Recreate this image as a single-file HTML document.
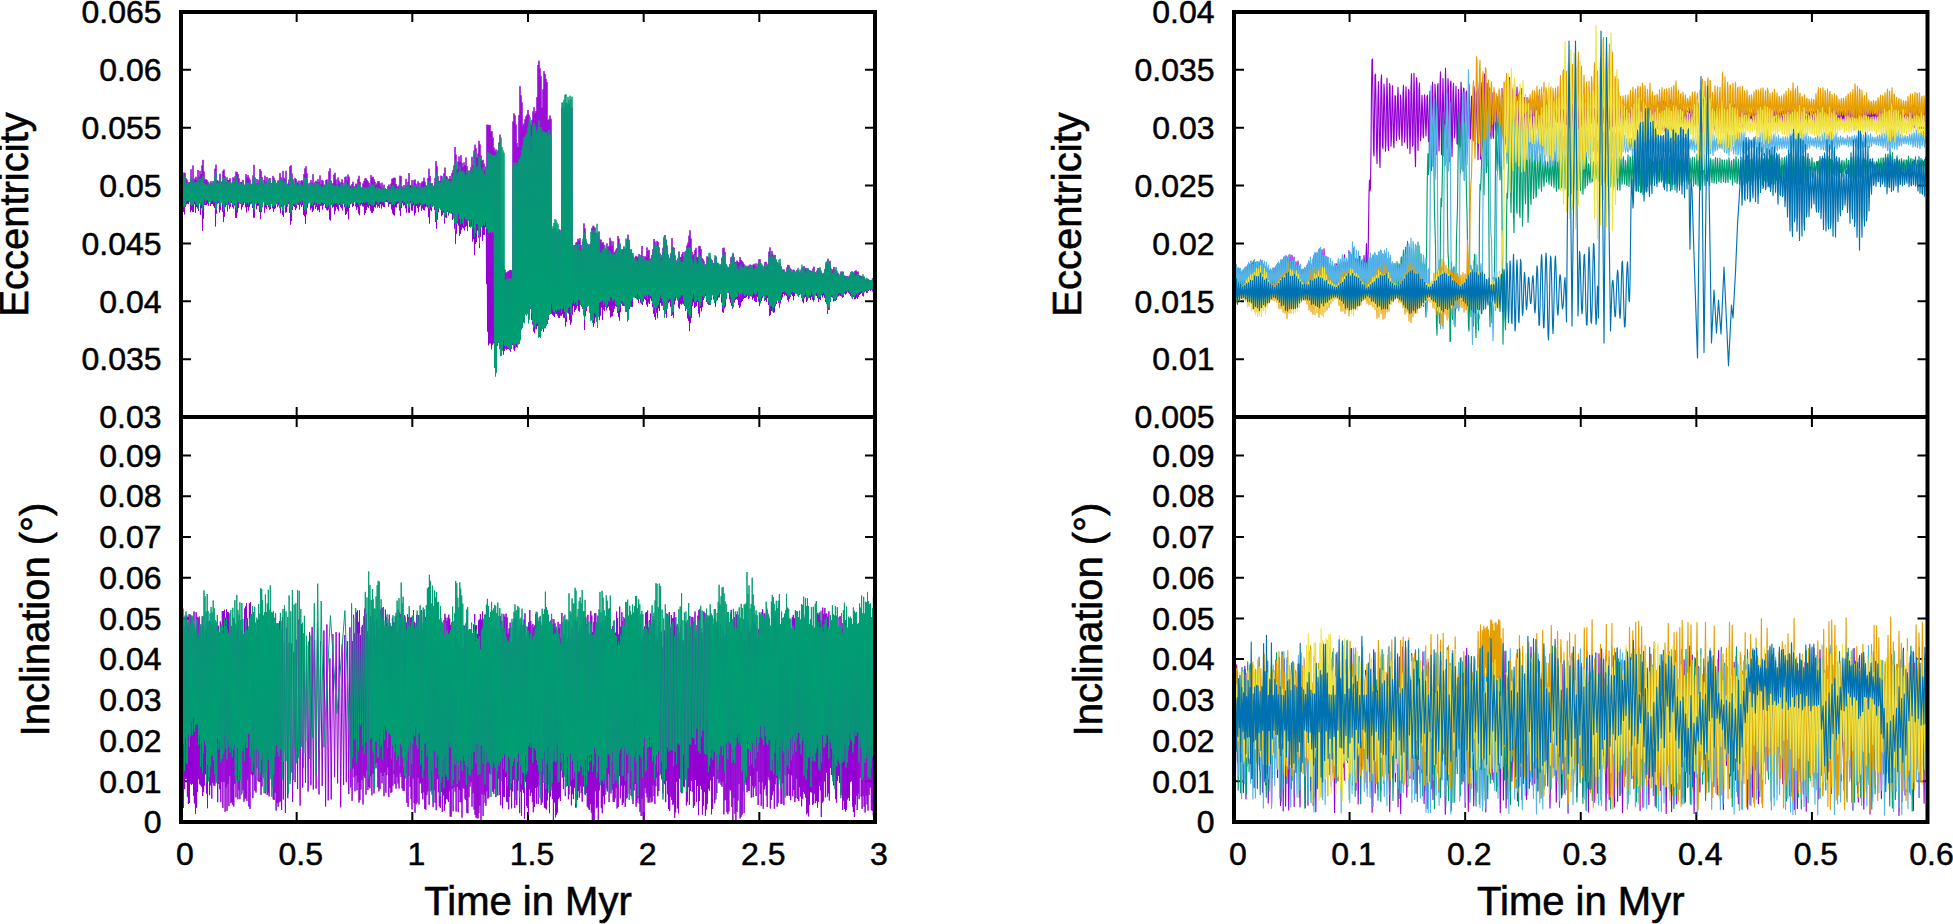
<!DOCTYPE html>
<html><head><meta charset="utf-8"><title>Eccentricity and inclination</title>
<style>html,body{margin:0;padding:0;background:#fff}svg{display:block}text{font-family:"Liberation Sans", sans-serif}</style>
</head><body>
<svg width="1953" height="924" viewBox="0 0 1953 924">
<rect width="1953" height="924" fill="#fff"/>
<path d="M296.67 12.0v10.0M296.67 407.0v20.0M296.67 822.0v-10.0M412.33 12.0v10.0M412.33 407.0v20.0M412.33 822.0v-10.0M528.00 12.0v10.0M528.00 407.0v20.0M528.00 822.0v-10.0M643.67 12.0v10.0M643.67 407.0v20.0M643.67 822.0v-10.0M759.33 12.0v10.0M759.33 407.0v20.0M759.33 822.0v-10.0M181.0 69.86h10.0M875.0 69.86h-10.0M181.0 127.71h10.0M875.0 127.71h-10.0M181.0 185.57h10.0M875.0 185.57h-10.0M181.0 243.43h10.0M875.0 243.43h-10.0M181.0 301.29h10.0M875.0 301.29h-10.0M181.0 359.14h10.0M875.0 359.14h-10.0M181.0 781.28h10.0M875.0 781.28h-10.0M181.0 740.56h10.0M875.0 740.56h-10.0M181.0 699.84h10.0M875.0 699.84h-10.0M181.0 659.12h10.0M875.0 659.12h-10.0M181.0 618.40h10.0M875.0 618.40h-10.0M181.0 577.68h10.0M875.0 577.68h-10.0M181.0 536.96h10.0M875.0 536.96h-10.0M181.0 496.24h10.0M875.0 496.24h-10.0M181.0 455.52h10.0M875.0 455.52h-10.0" stroke="#000" stroke-width="2" fill="none"/>
<path d="M1349.58 12.0v10.0M1349.58 407.0v20.0M1349.58 822.0v-10.0M1465.17 12.0v10.0M1465.17 407.0v20.0M1465.17 822.0v-10.0M1580.75 12.0v10.0M1580.75 407.0v20.0M1580.75 822.0v-10.0M1696.33 12.0v10.0M1696.33 407.0v20.0M1696.33 822.0v-10.0M1811.92 12.0v10.0M1811.92 407.0v20.0M1811.92 822.0v-10.0M1234.0 69.86h10.0M1927.5 69.86h-10.0M1234.0 127.71h10.0M1927.5 127.71h-10.0M1234.0 185.57h10.0M1927.5 185.57h-10.0M1234.0 243.43h10.0M1927.5 243.43h-10.0M1234.0 301.29h10.0M1927.5 301.29h-10.0M1234.0 359.14h10.0M1927.5 359.14h-10.0M1234.0 781.28h10.0M1927.5 781.28h-10.0M1234.0 740.56h10.0M1927.5 740.56h-10.0M1234.0 699.84h10.0M1927.5 699.84h-10.0M1234.0 659.12h10.0M1927.5 659.12h-10.0M1234.0 618.40h10.0M1927.5 618.40h-10.0M1234.0 577.68h10.0M1927.5 577.68h-10.0M1234.0 536.96h10.0M1927.5 536.96h-10.0M1234.0 496.24h10.0M1927.5 496.24h-10.0M1234.0 455.52h10.0M1927.5 455.52h-10.0" stroke="#000" stroke-width="2" fill="none"/>
<defs><clipPath id="cTL"><rect x="181" y="12" width="694" height="405"/></clipPath><clipPath id="cBL"><rect x="181" y="417" width="694" height="405"/></clipPath><clipPath id="cTR"><rect x="1234" y="12" width="693.5" height="405"/></clipPath><clipPath id="cBR"><rect x="1234" y="417" width="693.5" height="405"/></clipPath></defs><path d="M181 166.2l.5 55.9.5-49.2.5 32.8.5-25.8.5 32.1.5-39.5.5 41.8.5-41.2.5 33.8.5-28.6.5 26 .5-24.7.5 23.9.5-20.2.5 20.8.5-22.1.5 19.6.5-18.7.5 29.2.5-42.8.5 40.9.5-31 .5 32.5.5-46.3.5 46.6.5-32.1.5 24.2.5-25.7.5 34.3.5-35.9.5 30.2.5-27.5.5 28.8.5-38.3.5 40.9.5-33.8.5 26.2.5-32.4.5 43.7.5-40.6.5 33.9.5-42.5.5 65.2.5-70.7.5 58.7.5-47 .5 33.3.5-25 .5 25.2.5-26 .5 25.8.5-24.8.5 23.4.5-21.9.5 24 .5-21.8.5 17.6.5-16.8.5 21.3.5-24.7.5 22.8.5-20.2.5 20.1.5-22.9.5 25.1.5-20.1.5 22 .5-39.3.5 57.7.5-61.7.5 48.8.5-33.5.5 23.8.5-23.1.5 22.1.5-20.3.5 29.9.5-38.6.5 36.3.5-28.6.5 20.2.5-19.6.5 29.5.5-40.8.5 51.3.5-52.6.5 47.1.5-40.4.5 30.4.5-24.1.5 22.1.5-27.2.5 34 .5-31.3.5 24.4.5-24.5.5 28.6.5-30.4.5 28.3.5-21.5.5 18 .5-20.5.5 24.5.5-29.8.5 31.2.5-29.2.5 26 .5-29.1.5 41.7.5-46.2.5 46 .5-45.6.5 40.3.5-38.2.5 33.8.5-29.5.5 24.9.5-19.6.5 20 .5-21.7.5 27.6.5-27.9.5 24.9.5-26.7.5 24.8.5-19.9.5 18.1.5-18.2.5 22.5.5-33.1.5 38.2.5-34.8.5 29.5.5-31.9.5 35.4.5-32.8.5 29.4.5-27.5.5 24.6.5-19.5.5 18.7.5-18.5.5 23 .5-32.5.5 42.1.5-52.6.5 52.6.5-40.1.5 24.3.5-18.4.5 25.9.5-30.1.5 26.5.5-22.2.5 22.3.5-26 .5 32.2.5-42.9.5 50.1.5-48.2.5 41.2.5-35.1.5 30.2.5-23.2.5 17.7.5-21.9.5 32.9.5-37 .5 31.7.5-25.5.5 26.7.5-31.6.5 27.8.5-18.3.5 20.7.5-28.7.5 31.1.5-31.5.5 30.9.5-26 .5 20.4.5-19.7.5 24.5.5-32.3.5 35.9.5-34.1.5 31.3.5-28.9.5 28 .5-25.2.5 20.7.5-19.6.5 23.1.5-26.6.5 24.8.5-24.6.5 27.1.5-34.8.5 40.1.5-35.8.5 29.5.5-27.3.5 35.1.5-43.7.5 46 .5-39.2.5 27.4.5-25.6.5 33 .5-41.7.5 41.4.5-27.1.5 21.3.5-22.8.5 20.1.5-24 .5 33.1.5-46.4.5 58.1.5-59.2.5 55.7.5-47.4.5 36.3.5-30.6.5 26.5.5-21.7.5 22.9.5-29.1.5 32.2.5-31.1.5 29.2.5-26.7.5 22.8.5-21.1.5 21.6.5-24.2.5 28.9.5-24.1.5 19 .5-23.6.5 26.2.5-26.7.5 24.7.5-23.4.5 33.2.5-40.8.5 42.2.5-47.8.5 55.4.5-57.5.5 48 .5-41 .5 34.2.5-24.1.5 19.9.5-16.1.5 15.1.5-19.6.5 27 .5-29.6.5 28.1.5-25.3.5 29.1.5-37.8.5 36.2.5-26.5.5 20.9.5-22.6.5 26.4.5-27.8.5 25.9.5-24.6.5 28.3.5-31.2.5 30.4.5-27.3.5 29.8.5-36.7.5 30.4.5-21.5.5 21.2.5-25.6.5 29.6.5-28.8.5 24.6.5-20.4.5 18.7.5-18.3.5 22.4.5-27.7.5 29.7.5-30.3.5 30.9.5-26.5.5 25.5.5-38 .5 48.2.5-51.1.5 52 .5-39.7.5 23.8.5-20.5.5 23.5.5-24.4.5 23.4.5-31.7.5 39.5.5-41.5.5 37.9.5-31.2.5 27.5.5-22.7.5 24.9.5-31.7.5 33.6.5-30.5.5 24.2.5-21.2.5 23 .5-24.4.5 26 .5-28.9.5 31 .5-27.5.5 20.6.5-17.4.5 21.2.5-30.1.5 37.8.5-38.4.5 37.5.5-33.3.5 30.8.5-37 .5 44.8.5-42.6.5 31.1.5-22.5.5 18.8.5-17.5.5 15.7.5-18.3.5 22.9.5-25.2.5 24 .5-18.8.5 15 .5-15.9.5 20.2.5-22.6.5 26 .5-25.3.5 22.9.5-28.1.5 34.3.5-37.6.5 39.4.5-33.3.5 23.5.5-17.7.5 16.6.5-16.7.5 18.5.5-22.5.5 22.8.5-25.3.5 33.7.5-36.3.5 34.5.5-34.7.5 31.5.5-29.8.5 26.7.5-25.4.5 26.7.5-25 .5 22.5.5-19.2.5 24.2.5-35.4.5 37.5.5-35 .5 35.2.5-36.1.5 34.5.5-31.9.5 27.6.5-24.7.5 25.3.5-22.5.5 19.5.5-21.1.5 24 .5-26.2.5 25 .5-25.1.5 26.9.5-24.8.5 20.9.5-17.6.5 21.9.5-25.7.5 22.6.5-16.8.5 18.5.5-22.3.5 22.3.5-18.9.5 13.9.5-12.8.5 12.4.5-12.1.5 12.7.5-16.1.5 20.6.5-22.2.5 19.6.5-16.9.5 16.8.5-20.4.5 25.7.5-30.5.5 34.5.5-34.9.5 36.4.5-37.1.5 37.7.5-37.6.5 29.4.5-23.1.5 23.3.5-21.3.5 17.7.5-16.5.5 15.9.5-18 .5 25.2.5-34.7.5 40.1.5-39.6.5 31.7.5-21.6.5 16.9.5-14.9.5 17.2.5-20.5.5 20 .5-17 .5 20.2.5-29.4.5 33.7.5-26.7.5 17.7.5-21.5.5 30.5.5-39.3.5 39.4.5-27.5.5 18 .5-17.7.5 24.9.5-30.1.5 30.4.5-24.8.5 19.4.5-25.1.5 35.3.5-35.9.5 33.6.5-29.3.5 22 .5-19.4.5 21.4.5-26.5.5 30.9.5-29.3.5 23.6.5-19.1.5 17.8.5-22 .5 27.4.5-28.8.5 26.5.5-27 .5 28.5.5-32.2.5 32.7.5-28.5.5 25.4.5-22 .5 21.1.5-19.7.5 20.7.5-29.1.5 38.9.5-48.4.5 54.8.5-47.5.5 34 .5-26.1.5 27.2.5-28.1.5 23.8.5-20.9.5 20.1.5-20.3.5 24.3.5-31.9.5 43.8.5-60.8.5 67.6.5-62.3.5 53.1.5-43.4.5 36 .5-31.3.5 27.4.5-27.2.5 28.3.5-33.6.5 40.5.5-39.8.5 38.5.5-33.7.5 31.2.5-39.1.5 50.2.5-55.9.5 49.7.5-41.3.5 41.7.5-41.1.5 35 .5-32.1.5 35.9.5-36.6.5 34.3.5-37.1.5 36.9.5-33.6.5 34.2.5-40.3.5 46.6.5-49.5.5 47.7.5-52.4.5 62.8.5-81.3.5 96.5.5-89.1.5 79 .5-64.4.5 54.2.5-61.7.5 63.8.5-68.9.5 79.2.5-74.1.5 72.1.5-78.6.5 74.5.5-66.7.5 64.4.5-60.3.5 61.3.5-65.9.5 67.9.5-65 .5 61.4.5-69.3.5 68.4.5-59.6.5 64.9.5-60.7.5 50.3.5-45.6.5 51.8.5-56.2.5 54 .5-57.5.5 59.1.5-69.5.5 84.6.5-76 .5 73.8.5-88.6.5 104.6.5-110.5.5 99 .5-95.3.5 93.6.5-84.6.5 73 .5-76.8.5 83.8.5-96.5.5 107.2.5-103.7.5 92.3.5-81 .5 70.7.5-65.5.5 79.9.5-81 .5 74.9.5-71 .5 71 .5-64.8.5 56.8.5-59.6.5 117 .5-159.4.5 206.8.5-206.7.5 220.5.5-220.1.5 218.2.5-218.5.5 218.5.5-212 .5 217.8.5-217.9.5 213.5.5-207.2.5 205.7.5-195.7.5 201.7.5-198.1.5 195.5.5-197.4.5 198 .5-195.3.5 193.7.5-195.3.5 192.7.5-200.6.5 205.9.5-213.8.5 215.4.5-90.3.5 90.1.5-87.5.5 86 .5-83.7.5 90 .5-85.5.5 81.6.5-81 .5 78.8.5-75.6.5 76.6.5-77.3.5 76.8.5-77.6.5 77.6.5-78.2.5 78.9.5-79.8.5 81.8.5-81.5.5 78.4.5-78.5.5 74.8.5-223.4.5 224.3.5-232.4.5 237.3.5-235.2.5 231.5.5-222.5.5 222.4.5-203.8.5 196.7.5-192.7.5 190.2.5-222.2.5 215.4.5-244.3.5 242 .5-232.9.5 234 .5-227 .5 218.7.5-195.5.5 196.8.5-198.8.5 194.8.5-199 .5 191.1.5-194.1.5 191.4.5-193.1.5 195.7.5-200.3.5 210.3.5-205.6.5 196.4.5-189 .5 186.8.5-183.7.5 194.6.5-200 .5 204.5.5-213 .5 220.1.5-224.2.5 225.9.5-220 .5 215 .5-217 .5 218.1.5-232.1.5 228.9.5-261.1.5 272.5.5-276.7.5 275.9.5-268.2.5 269 .5-261.3.5 251.3.5-219.6.5 220.5.5-238.9.5 242.3.5-260.5.5 252.5.5-249.7.5 248 .5-243.1.5 245.2.5-241.9.5 241.7.5-204 .5 199.8.5-200.3.5 194 .5-197.9.5 198.1.5-194.8.5 194.7.5-84 .5 85.1.5-85.6.5 86.8.5-88 .5 89.2.5-88.1.5 84.5.5-82.1.5 82.5.5-80.7.5 82.3.5-83 .5 85.6.5-87.6.5 87.5.5-88.1.5 85.7.5-81.3.5 81.3.5-208 .5 206.6.5-201.8.5 205.3.5-208.6.5 208.8.5-211 .5 219.6.5-223.8.5 219.3.5-212.4.5 203 .5-206.7.5 207.7.5-209.6.5 215.8.5-211.2.5 216.2.5-217.5.5 215.2.5-214.6.5 206.7.5-68.1.5 59.7.5-60.6.5 66.5.5-67 .5 64.9.5-67.3.5 65.7.5-66.3.5 64 .5-67.2.5 71.8.5-69.9.5 70.8.5-73.3.5 66.2.5-59.2.5 61.3.5-57 .5 59.2.5-67.2.5 73 .5-91.1.5 106.5.5-101.5.5 87.7.5-74.9.5 69.7.5-67.5.5 63.1.5-57.1.5 53.4.5-58.6.5 68.2.5-67.8.5 67.1.5-69.4.5 77.9.5-92.3.5 91.2.5-93.4.5 100.9.5-100 .5 96.6.5-95.5.5 89.7.5-84.2.5 88.2.5-87.4.5 87.2.5-83.7.5 77.7.5-83.8.5 88.7.5-80.5.5 75.9.5-75.8.5 67.6.5-64.2.5 76.9.5-77.9.5 67.4.5-64.8.5 66.3.5-61.1.5 57 .5-58.1.5 61.4.5-66.8.5 64.2.5-60.2.5 59 .5-60.5.5 64.3.5-72.4.5 79.5.5-76.5.5 75.6.5-70.7.5 70.4.5-74.8.5 70.5.5-58.7.5 55.3.5-56.7.5 54.2.5-56.2.5 56.9.5-58.4.5 64.6.5-76.7.5 80.6.5-77.9.5 81.8.5-76.3.5 67.8.5-58.1.5 49.4.5-53.9.5 56.1.5-56.2.5 56.3.5-58.5.5 58.9.5-56.9.5 60.6.5-61.5.5 63.3.5-72 .5 74.3.5-79.2.5 79.1.5-74 .5 69.2.5-56.1.5 50.1.5-53.3.5 57 .5-53.5.5 53.5.5-50.9.5 41.2.5-36 .5 33.6.5-37.1.5 40.4.5-42.1.5 42.7.5-41.9.5 43 .5-42.6.5 45.9.5-48.8.5 44.6.5-40.4.5 44.1.5-47.3.5 48.5.5-57.6.5 58.8.5-48.6.5 45.3.5-42.1.5 39.6.5-42.8.5 43.9.5-43 .5 47.4.5-57.1.5 59.3.5-55.8.5 51.5.5-52.5.5 53.8.5-44.1.5 38.7.5-40.1.5 42.5.5-45.8.5 52 .5-57.7.5 64.3.5-74.5.5 77.9.5-75.4.5 78.2.5-71.5.5 64.4.5-71.7.5 77.3.5-76.3.5 66.3.5-61 .5 63.8.5-57.6.5 49.6.5-45 .5 47.5.5-50.5.5 50.4.5-57.6.5 62.2.5-71.5.5 74.9.5-78.4.5 78.3.5-73.7.5 78 .5-72.2.5 59.8.5-50.5.5 48.4.5-44.4.5 42.9.5-43.8.5 48.8.5-53.3.5 62.6.5-77.8.5 77 .5-68 .5 70.5.5-69.8.5 56.5.5-49.1.5 45.3.5-40.3.5 37.9.5-35.1.5 37.3.5-41.2.5 48.3.5-55.9.5 57.3.5-51.6.5 46.5.5-46.8.5 47.5.5-50.2.5 49.2.5-51.3.5 52.1.5-47.4.5 49.1.5-54.1.5 58.9.5-59.9.5 58 .5-63.3.5 72.8.5-75.7.5 78.2.5-85.1.5 95.4.5-100.8.5 92.8.5-84.6.5 79.4.5-66.1.5 53.8.5-50.3.5 46.9.5-48 .5 53.8.5-58 .5 56.7.5-58.9.5 58.3.5-48.8.5 44.3.5-44.7.5 56.5.5-67.5.5 71.3.5-70.9.5 61.7.5-58.9.5 62.2.5-53.2.5 49 .5-47.9.5 40.7.5-38.6.5 33.7.5-29.4.5 30.4.5-31.8.5 37.7.5-45.6.5 47.2.5-46 .5 47.2.5-47.8.5 48 .5-47.6.5 47.8.5-45.5.5 40 .5-39.4.5 34.9.5-31.8.5 36.1.5-36.2.5 35 .5-40.1.5 48.6.5-50.1.5 43.6.5-36.3.5 36.2.5-36.8.5 34 .5-31.9.5 31.9.5-28.3.5 24.2.5-28.7.5 37.8.5-44.6.5 54.4.5-64 .5 64.8.5-65.2.5 60.7.5-56.2.5 54.3.5-42 .5 34.3.5-31.6.5 25.1.5-24.1.5 24.8.5-26.1.5 32.3.5-35.1.5 38.5.5-45.1.5 48.3.5-49.3.5 52 .5-54.9.5 50.3.5-47 .5 45.4.5-40.3.5 37.8.5-37.7.5 37 .5-38.6.5 39.1.5-37.4.5 42.6.5-42.2.5 45.2.5-50.7.5 49.2.5-46.3.5 42.2.5-41.2.5 40 .5-38.7.5 36.8.5-34.9.5 33.8.5-32.3.5 32.2.5-30.5.5 29.7.5-31.3.5 29.7.5-28.2.5 31.7.5-33.5.5 32.6.5-33.5.5 31.5.5-31.1.5 31.4.5-28.4.5 31.5.5-34.8.5 33.1.5-34 .5 37.2.5-35.4.5 36 .5-38.2.5 38.5.5-34.2.5 28.9.5-33 .5 37.7.5-42 .5 46.8.5-46.9.5 42.9.5-36.4.5 34.9.5-35.9.5 33.4.5-29.4.5 27.2.5-29.7.5 34.7.5-38.8.5 38 .5-38.3.5 39.8.5-34.9.5 31.3.5-34.1.5 40.9.5-53.2.5 64.4.5-68.6.5 67.6.5-61.6.5 57.6.5-60.1.5 58.5.5-54.8.5 58.1.5-56.9.5 56.4.5-57.3.5 51.2.5-46 .5 43.8.5-42 .5 38.4.5-34.8.5 37.3.5-39.2.5 43.9.5-44.6.5 40.4.5-37 .5 33.3.5-29.8.5 27.5.5-27.2.5 23.8.5-24.5.5 26 .5-23.5.5 22.8.5-22.1.5 23.2.5-28.4.5 32.6.5-35.2.5 36.6.5-36.1.5 33.3.5-30.7.5 28.8.5-27.5.5 25.1.5-22.2.5 23.9.5-26.3.5 30.4.5-30.3.5 26.2.5-24.6.5 21.8.5-18 .5 18.3.5-23.4.5 25.2.5-25.4.5 26.8.5-24.8.5 22.8.5-21.2.5 20.6.5-24.5.5 28.1.5-29.6.5 33.3.5-34.3.5 36.1.5-37 .5 32 .5-29.5.5 28 .5-28.8.5 34.1.5-33.4.5 31.8.5-32.1.5 27.8.5-26.1.5 27.5.5-27.2.5 29.7.5-29.1.5 25.7.5-25 .5 27.9.5-30.9.5 32.8.5-34.7.5 33 .5-27.6.5 21.9.5-20.1.5 22 .5-25.4.5 27.2.5-29.7.5 33.9.5-33.7.5 30.6.5-29.3.5 30.5.5-27.8.5 23 .5-20.8.5 22.9.5-23.9.5 22 .5-20.1.5 22.3.5-28.6.5 32.8.5-38.3.5 40.5.5-42.1.5 51.8.5-55 .5 51.2.5-46.9.5 46.6.5-48.8.5 40.6.5-32.9.5 28.4.5-26.5.5 27 .5-28.1.5 32.1.5-34.5.5 33.1.5-30.1.5 30.8.5-30.3.5 29.5.5-27.5.5 24.7.5-24.2.5 23.3.5-19.9.5 19 .5-19.7.5 20.4.5-24.4.5 24.5.5-23.6.5 25.1.5-26 .5 25.2.5-21 .5 17.5.5-17.5.5 18.6.5-18.4.5 17.5.5-16.9.5 15.5.5-15.9.5 16.5.5-15.1.5 16.2.5-18.2.5 20.3.5-23.5.5 24.7.5-25 .5 26.7.5-26 .5 23.9.5-23.8.5 26.3.5-28.2.5 27.9.5-28.6.5 27.2.5-25.5.5 26.9.5-27.4.5 25.2.5-21.7.5 20 .5-19.4.5 18.5.5-17.9.5 16.9.5-17.2.5 19.7.5-18.5.5 19.2.5-19.3.5 15.2.5-11.8.5 10.8.5-11.4.5 13.2.5-13.9.5 13.5.5-13.6.5 11.8.5-10.7.5 10 .5-9.4.5 10 .5-9.9.5 9.3.5-9.3.5 10.6.5-13.4.5 16.4.5-19.7.5 23.1.5-22.2" stroke="#9400d3" stroke-width="1.0" fill="none" stroke-linejoin="round" clip-path="url(#cTL)"/><path d="M181 173.5l.5 35.9.5-28 .5 19.7.5-20.2.5 25.3.5-30.7.5 31.5.5-28.9.5 27.3.5-22.5.5 18.2.5-17.6.5 17.2.5-17.4.5 17.3.5-17.6.5 18.6.5-19.6.5 22.5.5-26.6.5 27.9.5-20.6.5 20.1.5-25.6.5 25.1.5-22.4.5 18.7.5-18.2.5 20.2.5-20.9.5 23 .5-22.9.5 22.6.5-26.5.5 30.5.5-25.4.5 18.4.5-23.2.5 26.3.5-22.6.5 19.6.5-23.7.5 31.9.5-34.4.5 30.5.5-23.4.5 16.2.5-14.7.5 18.1.5-18.5.5 16.5.5-15.5.5 14.4.5-14.7.5 18.2.5-20.3.5 18.8.5-16.5.5 18.2.5-19.7.5 17.9.5-15.5.5 14.5.5-17.9.5 19.2.5-15.8.5 16.3.5-24.2.5 31.6.5-37.7.5 37.8.5-26.7.5 17.3.5-17.2.5 18.8.5-19.1.5 22 .5-26.1.5 27.7.5-23.8.5 19.8.5-17.4.5 19.1.5-26 .5 32.8.5-33.3.5 31.8.5-27.3.5 21.1.5-18.7.5 20.2.5-23.9.5 25.8.5-25 .5 20.2.5-19.5.5 22.5.5-23.1.5 22.4.5-19.6.5 16.7.5-17.9.5 21.3.5-23.5.5 24.8.5-25.8.5 23.3.5-19.6.5 24 .5-31.8.5 34.5.5-30.8.5 22.8.5-19.4.5 18.8.5-18.8.5 20 .5-19 .5 19.2.5-19.1.5 20.4.5-20.9.5 20.4.5-21.7.5 19.4.5-16.5.5 17.6.5-17.7.5 17.1.5-20.1.5 21.8.5-20.9.5 19.1.5-18.8.5 21.4.5-22 .5 19 .5-16.4.5 17.9.5-18.8.5 16.8.5-17.6.5 21 .5-24.2.5 28.3.5-33.5.5 35 .5-28.7.5 21.9.5-19.8.5 20.4.5-20.5.5 17.5.5-16.8.5 18.9.5-18.6.5 21.4.5-28 .5 32.9.5-32.8.5 30.8.5-29 .5 25.9.5-20.5.5 16.9.5-18 .5 21.5.5-22.7.5 21 .5-19.7.5 21.5.5-23.1.5 20.7.5-18.2.5 19.4.5-24.5.5 27.3.5-28.2.5 27.8.5-22.2.5 19.3.5-20.1.5 22.4.5-26.2.5 26.9.5-26.7.5 25.2.5-23.5.5 23.1.5-22 .5 19.8.5-19.3.5 20.8.5-19.4.5 16.9.5-19.9.5 26.2.5-29 .5 28.4.5-28.2.5 24.4.5-21 .5 27.7.5-31.5.5 31.9.5-29.4.5 23.3.5-19.9.5 21.7.5-26.3.5 24.5.5-20.3.5 20.6.5-20 .5 16.7.5-16.8.5 22.3.5-28 .5 33.8.5-39.6.5 37.8.5-33.7.5 29 .5-24.9.5 21.7.5-18.2.5 18.9.5-19.9.5 20.8.5-23.2.5 23.3.5-20.3.5 18.7.5-16.9.5 15.9.5-18.8.5 19.7.5-19 .5 16.5.5-17 .5 20.2.5-18.6.5 15 .5-14.3.5 19.5.5-26.4.5 30.4.5-32 .5 33.9.5-33.7.5 31.2.5-28.2.5 22.5.5-18 .5 17.2.5-15.7.5 15 .5-17.2.5 21 .5-22.3.5 19.8.5-16.8.5 19 .5-21.8.5 19.8.5-17.8.5 16.5.5-17.5.5 21.5.5-23 .5 19.6.5-19.1.5 21.6.5-22.1.5 20.9.5-16.7.5 17.2.5-20.1.5 19.9.5-17 .5 14.7.5-14.6.5 15.7.5-16.7.5 16.7.5-18.6.5 18.4.5-15.5.5 16.4.5-18.8.5 21.4.5-22.4.5 22.7.5-22.3.5 20.8.5-23 .5 27.1.5-29.8.5 27.9.5-24.3.5 19.5.5-18 .5 20.6.5-19.4.5 17.8.5-18.6.5 18.5.5-17.1.5 17.1.5-17.4.5 16.9.5-18.5.5 19.7.5-19 .5 20.8.5-18.7.5 15.2.5-15.6.5 16.6.5-19.3.5 20.5.5-20.3.5 20.9.5-18.8.5 15.9.5-16.1.5 18.1.5-19.7.5 22.7.5-26 .5 25.1.5-19.2.5 15.9.5-18.7.5 22.8.5-22.1.5 19.3.5-16.7.5 15.2.5-14.8.5 15.2.5-15.9.5 16.1.5-16.1.5 15.9.5-14.8.5 12.9.5-14.8.5 17.8.5-17.6.5 15.9.5-15.1.5 14.9.5-19.3.5 21.8.5-20.7.5 22.2.5-21.7.5 17.7.5-15 .5 13.9.5-13.9.5 15.2.5-15.9.5 14.5.5-12.7.5 14.4.5-15.9.5 15 .5-14.5.5 14 .5-13.8.5 14.3.5-15.4.5 18 .5-17.9.5 15.7.5-14.5.5 15.7.5-18.9.5 19.9.5-20.3.5 21 .5-20.7.5 20.9.5-21 .5 19.7.5-16.3.5 12.6.5-11.1.5 11.7.5-13.9.5 16 .5-15.6.5 16.5.5-16.4.5 13.9.5-12.8.5 13 .5-12.6.5 12 .5-14 .5 14.6.5-11.5.5 11.7.5-15.5.5 16.7.5-13.6.5 11.5.5-11.9.5 10.5.5-10.3.5 11.1.5-11.5.5 13.5.5-14.7.5 13.7.5-12.1.5 12.4.5-13.3.5 15.2.5-17.6.5 18.4.5-19.9.5 19 .5-17.6.5 18.4.5-15.9.5 13.2.5-13.4.5 13.7.5-13.9.5 12.7.5-12.2.5 12.8.5-12.5.5 15.7.5-21.1.5 23 .5-19.8.5 16.4.5-14.5.5 11.9.5-10.8.5 12.6.5-14.5.5 14.2.5-12.8.5 14.7.5-18.2.5 19.6.5-18.9.5 14.1.5-14.9.5 22 .5-24.9.5 24 .5-18.9.5 12.5.5-11.8.5 15.1.5-18.7.5 18.8.5-16.3.5 13.9.5-16.2.5 20.2.5-20.6.5 18.3.5-15.8.5 16.7.5-15.1.5 14.1.5-17.5.5 18.7.5-16.7.5 14.5.5-13 .5 13.8.5-15.9.5 18.4.5-18.4.5 18 .5-17.1.5 16.2.5-16.6.5 16.4.5-17.4.5 16.9.5-15.4.5 17.3.5-18.9.5 18.1.5-19.5.5 22.8.5-26.6.5 27.9.5-28.3.5 23.4.5-19.5.5 23.2.5-21.6.5 20.2.5-20.4.5 19.6.5-19.6.5 21.5.5-23.6.5 27.4.5-37.3.5 46.3.5-46.5.5 39.1.5-32.4.5 28 .5-26.6.5 25.9.5-25.6.5 27.1.5-26.3.5 26.6.5-31 .5 32.5.5-28.2.5 27 .5-33.2.5 40.9.5-42.1.5 39.8.5-35.8.5 34.4.5-34.8.5 30 .5-29 .5 32.6.5-32 .5 29.7.5-28.6.5 31.5.5-32.3.5 29.8.5-30.3.5 32.3.5-36.8.5 42.4.5-48.7.5 53.1.5-59 .5 66.5.5-69.8.5 63.4.5-47.1.5 44.3.5-48.5.5 41.3.5-42.6.5 47.5.5-53.3.5 58.4.5-52.2.5 46.6.5-47.4.5 52.3.5-52.1.5 54.7.5-53.5.5 44.9.5-42 .5 44.7.5-44.7.5 44 .5-49 .5 51.4.5-47.4.5 46.5.5-49.6.5 47.8.5-48.7.5 57.3.5-53.2.5 44.6.5-52 .5 61.3.5-54.9.5 47.4.5-59.1.5 75 .5-85.9.5 82.1.5-64 .5 54.8.5-57.4.5 57.7.5-54.5.5 66.3.5-79.8.5 87.2.5-86 .5 71.3.5-59.3.5 58 .5-55 .5 54.2.5-59 .5 56.8.5-49.8.5 50.7.5-50.2.5 46.4.5-55.1.5 62.3.5-59.1.5 59.3.5-76.8.5 81.1.5-78.8.5 78.6.5-79.5.5 78.7.5-77.1.5 78.3.5-78.2.5 76.9.5-75.5.5 76.1.5-77.1.5 212.4.5-212.6.5 221.3.5-218.3.5 214.4.5-221.8.5 193.1.5-190.3.5 188.9.5-198.6.5 205.3.5-204.4.5 211.3.5-218.4.5 217.9.5-208.7.5 203.7.5-200.2.5 190.1.5-187.7.5 193 .5-65.9.5 67.3.5-67.2.5 65.9.5-67.3.5 68.5.5-65.7.5 66.3.5-69.1.5 70.3.5-69.3.5 69.3.5-70.3.5 68.9.5-68.8.5 64.8.5-177.8.5 183.6.5-186.7.5 182.9.5-179.4.5 182 .5-185.5.5 181.5.5-178.1.5 181.6.5-184.9.5 181.5.5-184.5.5 183.9.5-185.4.5 182 .5-183.9.5 173.1.5-179.6.5 178 .5-182.8.5 174.2.5-182.2.5 186.2.5-185 .5 176.1.5-179.6.5 180.8.5-182.2.5 180.8.5-187.2.5 196.5.5-201.7.5 197.8.5-202.5.5 191.1.5-157.1.5 161.9.5-176.2.5 184.9.5-195.9.5 202.1.5-204.7.5 203.7.5-201.3.5 203.6.5-198.6.5 193.3.5-189.7.5 188.3.5-195.5.5 209.9.5-216.4.5 214.2.5-205.5.5 208.5.5-210.6.5 204.1.5-197.2.5 194.8.5-197.5.5 197.4.5-196.8.5 196.4.5-195.8.5 195.9.5-195 .5 192.3.5-193.1.5 190.8.5-187.1.5 181.9.5-188.1.5 184.8.5-181.1.5 179.5.5-179.1.5 169.9.5-72.3.5 77.9.5-83.4.5 85.4.5-88.6.5 89.4.5-93.4.5 89.9.5-88.7.5 91.2.5-88.8.5 86.1.5-84.4.5 86.2.5-81.5.5 80.7.5-78.2.5 77.4.5-75.4.5 79 .5-209.8.5 205.9.5-206.2.5 203.3.5-205.9.5 212.3.5-217.2.5 222.6.5-223.3.5 221.2.5-212.1.5 208.1.5-214.6.5 211 .5-207.8.5 206.6.5-210.9.5 216.8.5-213.5.5 216.7.5-219.1.5 206.2.5-53.4.5 50.3.5-54.6.5 58.3.5-56 .5 54.7.5-56.3.5 59.3.5-60.7.5 61 .5-55.1.5 49.7.5-56 .5 56.3.5-49.9.5 54.4.5-53.7.5 53.5.5-54.4.5 58 .5-69.7.5 76.8.5-83 .5 87.4.5-86.8.5 78 .5-71.9.5 68.1.5-63.9.5 63 .5-59.4.5 59.1.5-60 .5 65.7.5-67.6.5 76.6.5-88.8.5 87.7.5-91 .5 94.4.5-86.8.5 84.1.5-89.8.5 82.7.5-79.3.5 79.7.5-78.8.5 86.1.5-97 .5 104.2.5-95.9.5 84.6.5-77.2.5 63.4.5-51.1.5 50 .5-49 .5 49 .5-48 .5 46.5.5-51.5.5 56 .5-55 .5 52.6.5-56.9.5 61.3.5-58 .5 58 .5-58.8.5 56.5.5-49.8.5 46.4.5-50.7.5 50.9.5-50.3.5 45.9.5-43 .5 43.9.5-44.5.5 48.1.5-43.7.5 42.3.5-45.9.5 45.3.5-44.7.5 49.8.5-51.4.5 52 .5-54.3.5 59.7.5-61.1.5 61.8.5-66.8.5 64.6.5-65.6.5 61.3.5-55.5.5 52.1.5-51.4.5 52.2.5-47.6.5 49.4.5-57.7.5 59.1.5-55.9.5 62.7.5-73.7.5 71.8.5-70.1.5 81.4.5-81.8.5 79.9.5-79 .5 65.9.5-56.8.5 56.8.5-57.5.5 51.9.5-47.5.5 45.5.5-45.9.5 44.4.5-37.7.5 37.7.5-37.5.5 36.5.5-37.3.5 40 .5-38.1.5 32.6.5-32.7.5 37.9.5-44.2.5 41.5.5-37.9.5 40.9.5-42.6.5 45.8.5-44.6.5 45 .5-46.2.5 42.7.5-39.5.5 36.2.5-35.7.5 36.9.5-37.5.5 35 .5-33.3.5 37.8.5-38.4.5 33.7.5-32.7.5 33.9.5-35.3.5 35.6.5-35.9.5 36.7.5-39.5.5 46.1.5-50.9.5 57.8.5-61.9.5 59.2.5-62.8.5 67.9.5-67.8.5 63.2.5-60.4.5 58 .5-59.7.5 58.5.5-52.7.5 48.7.5-45.4.5 40.3.5-33.2.5 36.4.5-39 .5 41.9.5-49.2.5 56.7.5-72.3.5 81 .5-81.1.5 76.9.5-73.3.5 69.3.5-59.1.5 58.3.5-53.9.5 45.2.5-40.9.5 38.3.5-38.6.5 40.6.5-46.2.5 61.5.5-68 .5 65.8.5-63 .5 62.3.5-61.7.5 48.6.5-38.7.5 36.4.5-34.6.5 36.3.5-33.8.5 34 .5-40.2.5 42.3.5-47 .5 44.2.5-37.9.5 37.1.5-34.6.5 32.9.5-32.8.5 33.3.5-33.5.5 38.7.5-43.2.5 47.2.5-51.3.5 55.8.5-58.2.5 57.5.5-60.6.5 64.3.5-63.8.5 65.8.5-67.2.5 69.4.5-68.6.5 68.9.5-68.7.5 56.7.5-45.7.5 39.6.5-36 .5 30.7.5-30.2.5 38.3.5-46.2.5 47.6.5-42.6.5 40.2.5-36.4.5 31.4.5-32 .5 37.7.5-47.5.5 52.9.5-50 .5 48.8.5-48.6.5 45 .5-40.1.5 34.3.5-32.8.5 33.9.5-31.7.5 32.8.5-33.7.5 29.3.5-28.5.5 35.1.5-38 .5 40.5.5-43.5.5 43.2.5-49.3.5 51 .5-51.4.5 51.6.5-45.5.5 39.3.5-36.1.5 32.6.5-30.1.5 32.2.5-33.6.5 39.9.5-47.9.5 45.5.5-44 .5 44.5.5-38.5.5 32.9.5-32.8.5 33.4.5-32.3.5 28.2.5-25.4.5 26.9.5-29.4.5 32.3.5-34.6.5 44.4.5-53.2.5 56 .5-54.3.5 50.8.5-47.5.5 43.4.5-37.6.5 32.9.5-31 .5 26.9.5-23.4.5 22.9.5-24.4.5 25.4.5-29.1.5 32.5.5-34.4.5 40.9.5-45.7.5 49.5.5-54 .5 54.3.5-46.9.5 39.7.5-36.3.5 33.2.5-33.6.5 33.9.5-30.9.5 30.1.5-27.1.5 23.3.5-23.1.5 25.9.5-29.5.5 27.9.5-29.4.5 30.9.5-28 .5 25.3.5-24 .5 25.8.5-27.6.5 29.2.5-30.6.5 30.8.5-29.9.5 28 .5-27.5.5 27.5.5-24.8.5 26.3.5-27.6.5 29.8.5-33.1.5 30.1.5-29.1.5 30.2.5-30.2.5 29.3.5-25.6.5 22.3.5-22.9.5 24.3.5-25.1.5 26.4.5-27.8.5 26.9.5-24.9.5 22.5.5-24.4.5 31.8.5-36.6.5 37.2.5-38.5.5 42.5.5-40.3.5 33.7.5-30.8.5 30.3.5-27.7.5 27.8.5-28 .5 31.1.5-35.5.5 33.7.5-32.5.5 30.1.5-24.9.5 25.1.5-30.5.5 36.2.5-44.3.5 51.8.5-51.7.5 49.2.5-54.2.5 54.1.5-47.6.5 52.9.5-54.9.5 51.4.5-51.3.5 49.8.5-49.3.5 48.5.5-46.4.5 42.2.5-37.3.5 35.6.5-36.1.5 38.3.5-41.9.5 43.5.5-44.6.5 41.8.5-34 .5 27.9.5-25.6.5 23.2.5-20.1.5 20.1.5-21.1.5 20.6.5-20 .5 21.1.5-20 .5 20.6.5-23.9.5 26 .5-26.9.5 27.8.5-28.7.5 28 .5-26.5.5 26.9.5-26.6.5 22.9.5-20.2.5 19.7.5-20.3.5 21.1.5-22.3.5 22.5.5-20.9.5 21.3.5-19.2.5 19.9.5-22.1.5 23.2.5-27.1.5 28.8.5-27.1.5 24.4.5-19.2.5 18.5.5-22.1.5 26.2.5-32.7.5 34.2.5-31.3.5 30.8.5-29.8.5 26.2.5-22.1.5 19.5.5-19.5.5 24.4.5-29.1.5 30.2.5-28.7.5 28.7.5-27.9.5 24.6.5-23.4.5 24.1.5-24.1.5 20.2.5-19.7.5 23.1.5-23.8.5 26.7.5-29.3.5 30 .5-26.6.5 23.3.5-22.5.5 19.7.5-19.3.5 21.1.5-23 .5 26.1.5-29.4.5 29 .5-29.9.5 29.7.5-26.3.5 23.2.5-18.6.5 18.6.5-20.4.5 18.9.5-19.6.5 21.6.5-24.6.5 30.3.5-37.8.5 41.9.5-42.7.5 49.5.5-51.2.5 47.6.5-44.4.5 46.6.5-45.5.5 37.9.5-32.6.5 25.6.5-21 .5 22.2.5-23.4.5 26 .5-28.2.5 30.4.5-31.4.5 30.1.5-32.6.5 30.7.5-26.8.5 26.1.5-22.2.5 18.7.5-17.7.5 16.6.5-18.4.5 19 .5-20.1.5 23.3.5-24.6.5 23.7.5-22.4.5 22.9.5-20.4.5 16.7.5-13.9.5 12.1.5-13.7.5 15 .5-13.1.5 13.2.5-14.6.5 13.2.5-12.9.5 14.9.5-17.6.5 18.5.5-20.9.5 25 .5-26.2.5 26.7.5-25.9.5 23.5.5-22.5.5 23.7.5-21.7.5 20.5.5-19.4.5 17.4.5-19 .5 20.5.5-21.4.5 19.7.5-17.2.5 16 .5-15.4.5 15.5.5-13.5.5 12.5.5-13.6.5 16.2.5-19.3.5 18.3.5-16.2.5 14.6.5-12.1.5 10.8.5-11.4.5 12.5.5-13 .5 13.5.5-12.2.5 10.6.5-9.1.5 9 .5-9.3.5 8.5.5-8.8.5 9.9.5-10.3.5 9.9.5-11 .5 12.6.5-12.5.5 13.9.5-16.8" stroke="#009e73" stroke-width="1.0" fill="none" stroke-linejoin="round" clip-path="url(#cTL)"/><path d="M181 646.7l.5 164.5.5-163.4.5 131.9.5-141.5.5 169.6.6-181.5.5 162.8.5-162.7.5 152.4.4-159.5.5 159.4.4-163.2.5 181.2.5-171 .5 178.3.6-189.7.5 188.6.4-187.8.6 168.5.5-168.2.5 169.6.5-166.6.5 165.3.5-145.8.5 157.6.5-184 .4 191.9.6-172 .5 182.3.6-201.5.5 195.5.5-190.9.5 175 .5-173.7.6 161.1.5-162.6.5 167.7.5-157.8.5 158.8.5-145.8.4 147.2.6-170.3.5 179.6.5-170 .4 165.9.5-151.7.5 145.3.5-152.1.5 140.9.5-144.6.5 163.8.5-172.2.4 186.9.5-184.3.5 156.7.6-159.3.5 173.8.5-174.3.5 164.6.6-162.1.6 175.4.4-169.1.6 153.1.5-160.1.5 162.8.5-156.3.5 156.8.5-152.9.5 146.9.4-156.1.5 150.3.5-147.8.5 175.9.5-176.5.5 158.2.6-150.6.5 156 .5-167.8.5 180.6.5-172.7.6 152.7.4-171 .6 196.8.6-196.9.5 171.1.5-172.3.6 202 .5-194 .5 169.6.4-177.9.5 201.3.5-198.9.5 172 .4-171.5.5 193.7.5-178.1.5 147.8.4-152 .6 179.4.4-176.9.5 175.9.6-168.3.4 170.9.5-186.9.5 188.7.6-186.1.4 163.2.6-154.9.6 168.6.5-168 .5 150.5.4-151.9.5 171.3.5-177.9.5 168.8.5-146.7.5 155.7.5-170.5.5 142.5.5-139.9.5 162.1.6-163.1.5 160 .5-155.7.5 167.1.5-193.1.5 190.2.5-192.3.4 191.4.6-194.7.4 197.8.5-182.6.5 161.3.4-148.2.6 175 .5-203.1.6 205.5.5-206.6.6 171.5.5-152 .5 153.5.4-153.3.4 176.1.5-178.9.5 155.7.5-154.6.5 170.3.6-163.2.5 165.1.4-158.4.6 134.1.6-148.3.5 161 .5-145 .4 145.8.5-162.4.5 162.6.5-147.9.5 160.8.5-164.5.5 156.2.5-151.9.5 139.3.6-135.5.5 133.8.6-151.5.5 172.7.5-150 .5 122.2.5-137.7.5 167.2.5-171.1.6 168.9.4-162.6.4 166.1.5-167.1.6 137.8.5-138.6.5 145.9.5-158.8.5 170.5.5-170.9.5 184.2.4-168.2.5 168.8.6-173.8.4 166.5.5-179 .5 196.9.5-177.7.5 170 .5-174.2.5 178 .4-178.7.6 174.3.5-181.2.6 180.5.7-180.7.7 189.1.8-192.9.9 182.4 1-157 1.1 170.4 1.3-185.1 1.1 170.4 1.3-155.6 1.3 137.7 1-136.6 1.2 158.3 1.2-150.1 1.3 130.2 1.1-142.3 1.4 149.3 1.3-169.6 1.2 186.1 1.2-181.2 1.4 163.2 1.3-154.4 1.5 149.6 1.2-137.1 1.4 145.8 1.5-159.4 1.3 153.1 1.2-158.1 1.2 162.4 1.3-149.5 1.5 148.5 1.4-165.8 1.5 171.8 1.5-153.2 1.7 144.6 1.7-155.4 1.7 176 1.3-182 1.3 175.9 1.7-142 1.3 141 1.7-165.3 1.7 143 1.5-145 1.5 151.3 1.7-150.7 1.4 174.6 1.5-162.9 1.4 140.5 1.2-149.8 1.5 147.1 1.3-141.1 1.2 152.9 1.1-166.6.9 160.1.7-149.8.6 163.2.5-159.9.5 127.7.5-153.9.5 162.6.4-144 .5 157.9.5-162 .5 146.3.4-163.2.6 177.9.5-179.8.5 172 .4-160.6.6 180.6.5-192.1.4 189.6.6-164.9.4 154.4.5-162.2.5 152.5.5-154.9.6 179.6.6-171 .4 142.8.5-167.6.5 169.3.4-154.8.6 171.5.5-180.8.5 156.6.5-139.3.4 158.8.6-156.2.4 153.3.5-150.1.5 151.4.4-171.8.6 159.7.5-151.5.5 170.5.5-177.8.6 156.3.5-160.8.5 180.4.5-171.6.5 142.3.6-126.4.4 130.6.5-148.9.5 143.5.5-145 .4 169.3.6-159 .4 163.2.5-163.4.6 161.1.5-179.5.5 163.3.5-165.5.5 176 .5-175.1.5 167.6.4-168.9.6 189.2.5-165.9.4 142 .5-162.6.5 183 .5-175.3.5 157.7.5-152 .5 144.2.5-141 .4 170.8.5-182.5.5 173.2.6-162.7.5 167.8.5-166.2.4 165.3.6-173.9.5 167.7.6-163.7.5 152.1.5-151.5.4 161.4.6-166.8.5 171.3.4-173 .5 161.4.6-144.4.5 151 .6-155.9.4 160.8.6-175.9.5 160.7.5-159.3.5 162.9.4-155.4.6 167 .5-170.6.5 173 .5-156.8.6 156.9.4-175.8.4 163.3.5-159.5.5 154.1.5-150.6.4 180.4.6-188.5.6 192.5.5-189.8.5 158.6.4-161.1.6 172.3.5-169.2.5 181.3.4-181.5.5 191.9.6-182.3.5 151.3.4-168.4.6 193 .4-181.2.5 191 .5-186.8.6 178.3.5-189.4.5 187.8.5-187.1.5 162.3.4-162.8.5 189.4.5-172.7.5 151.8.4-164.3.4 163.5.5-172.7.5 183.1.4-162.5.6 168.6.5-187.7.6 180.7.5-180.1.4 196.7.6-191.7.4 192.5.6-190.9.5 176.4.5-152.3.5 148.5.6-151.4.6 164.8.4-177.3.5 148.9.6-152.2.4 166.4.5-163.5.6 167.6.4-164.1.6 176.6.5-167 .5 150 .5-168.1.5 180.6.6-175.1.5 182.6.4-179.7.6 148.7.5-155.5.6 168.5.5-167.6.5 181.7.6-177.9.4 179.5.5-189.9.5 173.8.4-168.7.6 188.8.5-176.6.6 160.1.5-151.1.5 166.5.5-197 .5 190.5.5-186.6.5 181.1.5-177.7.5 178.3.5-181.7.5 184.1.4-187.1.4 176.8.5-172.8.5 197.8.4-191.6.5 191.9.5-193.7.5 165.8.5-156.7.5 179.1.5-161.7.5 137.8.4-161.3.6 165.6.5-165.2.5 185 .5-178.1.5 153.6.6-156.1.5 181.2.5-168 .5 145.7.4-142.7.5 155 .5-173.8.5 174.1.4-164.3.5 179.5.5-169.6.5 139.9.5-140.7.5 141.6.5-162.9.5 172.7.4-165.3.4 166.7.5-177.3.6 190.3.5-192.1.5 192.4.5-171.7.6 155.5.4-160.3.6 149.8.5-156.4.5 152.1.5-147.4.5 171.8.5-167.8.6 154.3.5-168.7.5 185.1.6-195.6.4 200.9.5-189.4.5 192 .5-192.5.5 193.4.4-184.5.5 184.4.5-197.7.4 192.5.5-193.5.5 186 .5-191.5.6 206 .4-200.5.6 174.7.5-182.8.6 204.4.5-187.7.6 166.5.4-179.8.5 187.9.4-165.9.4 168.9.5-172.4.5 157.7.5-169.6.5 177 .5-173.5.5 172.5.5-170.4.5 146.4.5-151.2.4 152.3.5-141.1.5 135.6.4-138.5.6 161.1.5-145.2.5 147.3.5-167.9.5 162.9.5-144.1.5 152.4.5-165.8.6 159.8.4-162.3.5 166.7.5-161.6.5 144.9.5-143.5.5 159.7.4-179 .5 189.2.5-184.6.4 154.3.5-146.6.4 180 .5-179.3.5 167.5.4-182.3.6 182.9.4-180.4.6 160.3.6-163.4.4 187.9.6-184.1.5 184.8.6-168.8.5 175.9.4-180.9.5 168.3.5-174 .5 165.5.5-146 .5 166.2.5-165.9.6 148.9.5-163.2.5 151.6.5-161.2.6 189.3.4-188.7.6 163.2.5-162.2.5 184.9.5-164 .4 149.4.5-154.5.5 144.8.4-149.7.6 182 .4-183.8.6 162.3.4-168.6.4 193 .6-185 .4 158.5.5-164.6.5 167.9.6-173.5.4 199.4.5-205.4.5 168.4.5-145 .5 169.2.5-165.5.4 167.4.5-181.1.5 188 .4-192.5.5 167.2.5-179.3.5 185.9.5-174.9.5 171.4.5-162.6.6 172.1.5-178.1.4 188.3.6-185.1.5 179.8.5-181.7.5 162.7.4-173.9.6 189.6.4-181.6.5 165 .4-168.8.5 185.8.5-181.7.5 153.8.5-141.8.5 163.5.5-176 .5 183.1.6-170.8.5 168.3.6-177.5.4 149.7.6-151.4.5 184.4.5-165.7.5 166.5.5-175.5.6 176.5.5-165 .5 155.9.5-175.6.5 159.8.5-146.3.5 175 .5-185.7.5 169 .5-176.5.5 167.1.4-168.3.5 180.1.5-174.3.5 195.8.5-201.3.5 183.4.6-179.2.5 194 .5-189.4.4 186.8.6-184.4.5 182.3.6-190.7.5 176.9.4-170.9.5 169.4.5-173.3.5 177 .4-162.6.5 132.2.5-157.6.5 164.5.5-144.2.5 155.8.5-152.6.5 130.5.5-133.1.4 162.2.6-175.8.4 158.9.6-137.7.5 144.5.5-147.9.5 161.2.5-177.6.5 159.5.5-144.4.4 149.3.6-142.4.5 161.6.6-178.6.4 167.4.5-164.6.5 169.6.5-158.4.6 146.9.5-167.4.5 187.3.4-169.3.6 169.1.4-185.9.5 178.6.5-158.9.5 150 .4-159.4.5 165.9.5-170 .4 158.6.5-144.1.5 151.1.5-168.7.5 177.2.5-173.2.6 158.1.5-169.2.5 163.9.5-157 .5 170.8.5-178.5.4 176.5.5-169.1.6 182.7.6-191.9.4 193.5.6-174.8.4 176.5.5-170.4.5 164.6.5-193.3.5 201.7.5-197.1.5 204.9.4-188 .6 188 .5-198.6.4 198.6.6-207.3.5 178.1.5-177.8.5 194.9.6-185.4.4 184.4.6-191.7.4 204.8.6-198.6.4 168.6.6-147.5.5 137.4.4-157.7.5 185.2.5-179.5.5 185 .6-192.6.5 175.5.5-157.2.4 165.3.4-178.8.6 150.4.4-155.3.6 167.8.4-158.5.6 161.5.4-174.2.6 156.6.4-134.9.4 163.2.5-184.4.5 159.1.5-154.2.4 170.9.6-156.5.5 152.9.6-163.8.5 175.6.5-173.1.5 173.4.5-169.3.4 165.6.5-165.6.5 155.4.5-176.5.5 196.9.5-190.3.6 188.8.5-172.7.6 141.9.4-169.6.6 191.7.5-171.6.5 158.8.6-173.3.4 192.8.6-183.9.5 181.5.5-171 .4 153.7.5-167 .4 188.6.5-166 .5 157.7.4-160.6.5 160 .5-180 .5 155.5.5-151.2.6 171.4.5-173.1.5 168.5.4-157.5.5 163.8.5-155.2.5 156 .4-156.9.5 164.7.5-171.1.6 157.6.5-153.4.6 146.9.4-154.4.5 177.1.5-172.4.4 168.4.6-172.2.5 167.6.5-177.7.6 183.1.4-167.7.4 176 .6-188.7.5 192.9.4-174.2.5 156.7.5-162.4.5 179.5.6-181.5.5 186.3.4-193.8.6 161.4.5-175.2.5 180.5.5-181.2.5 185.4.5-187 .5 192.1.5-175.2.6 175.1.4-182.3.6 177.3.5-184 .4 188.9.6-171.4.4 170.6.4-178.9.5 162.3.5-164.8.5 176 .4-176 .5 183.7.5-160.6.5 143 .4-150.1.5 141.4.5-138 .5 156.6.6-170.1.4 164.8.6-156.6.5 140.1.4-141.7.5 141.1.5-142.3.5 147.8.5-131.7.5 145.9.5-148 .5 137.4.5-152.7.5 154 .5-149 .4 167 .5-159.1.5 137.8.4-166.9.6 180.3.4-161.3.5 176 .6-197 .5 198.8.5-183.3.6 169.3.5-181.8.5 185 .5-181.6.5 186.4.5-186.9.4 185.9.5-191.8.5 205.8.4-200.1.5 194.7.5-186.4.4 156 .5-157 .4 183.4.6-180.8.5 185.8.4-180.9.6 146 .6-142.5.4 143.1.4-153.6.5 167.7.5-149.2.5 129.1.6-133.1.5 146.3.5-139.6.4 140.5.5-154.4.5 143.7.4-155 .6 183.9.5-181.8.5 178.5.5-162.5.5 147.5.5-141.4.5 159.1.5-188.8.5 175 .5-159.6.4 149.6.6-164.1.4 174.9.6-174.7.5 190.7.5-186.1.6 183.8.5-194 .5 168.5.4-141.2.6 163.1.5-176.8.5 160.9.4-170.3.6 199.5.4-205 .5 190.9.5-192.2.5 176.8.6-157.4.4 161.1.5-156.8.5 181.9.5-175.1.5 166.2.5-194.1.5 180.6.6-179 .4 202.8.5-191 .6 184.7.5-188 .5 182 .5-185.9.5 171 .5-164 .4 166 .5-174.5.5 164.1.5-146.4.6 180.4.5-175.5.6 170.1.5-168.3.5 135.8.6-158 .5 184.9.5-183.7.6 179.7.5-172.6.5 166.4.6-170.1.5 156 .6-155 .5 159.3.5-141.5.5 139.7.5-157.6.5 160.8.5-146.1.5 148.1.5-157 .4 152 .5-143.5.5 176.2.5-178.5.5 164.3.5-164.6.6 164.5.4-181.1.5 193.2.5-172.2.5 174.1.5-181.5.5 178.9.5-185.6.5 163.9.5-172.3.4 173 .4-180.6.6 197.2.5-187 .6 200.3.5-187.9.5 165.5.5-181 .6 196.7.5-176.8.4 183.5.6-206.1.5 197.7.5-186.4.5 174.9.5-170.1.5 153.5.6-165.7.5 200.3.5-187 .5 185.2.6-184.8.5 182.6.5-185.3.5 161.9.5-151.4.4 173.5.6-193.8.5 163.3.5-140.9.5 143.2.4-153.5.5 160.8.6-172.4.5 170.7.4-164 .6 164.3.4-159 .6 144.1.5-146.1.6 167.7.5-173.4.5 161.5.5-165.4.4 176.9.5-173.9.4 164.9.6-165.4.4 163.2.5-162.2.5 172.2.5-168.5.5 143.9.6-133.6.4 167.2.6-175.8.4 152.8.6-168.4.5 180.5.5-169.8.5 181.5.5-181.7.4 158.2.6-173 .5 199.5.6-182 .5 162.5.6-176 .5 172.2.4-149.8.5 159.9.4-187.4.5 198.8.5-178 .5 148.4.5-161.8.5 164.6.6-145.1.5 173.4.5-172.4.5 163.9.5-165.4.5 160.6.5-154.1.5 150.1.5-172.2.5 189.8.4-192.9.5 168.4.5-165.1.5 158.6.5-150.6.4 179.5.5-183.6.5 180.1.4-173.7.6 141.6.4-132.4.5 140.7.5-143.1.5 167.5.5-178 .4 177.9.5-181.1.5 160.8.5-137.1.5 158.9.5-184.7.5 154.6.4-130.3.5 130.6.5-155.7.6 176 .4-163.8.5 163.7.5-162.3.5 140.8.4-154.4.6 176.2.4-166.3.5 170.6.6-161.3.4 136.4.6-158.1.5 179.1.5-181.4.6 175.1.5-171.6.5 183.6.5-191.6.5 187.6.4-163.2.5 143.9.5-164.1.5 184.4.4-182 .6 184 .5-174.4.4 160.6.5-151.3.5 160.6.4-174.9.5 184.8.5-193 .6 185.2.4-165 .6 158.2.5-161.4.5 163.5.6-179.6.4 183.3.5-177.9.5 194.6.5-196.4.5 194.8.4-194.1.5 197.8.5-191.9.4 180 .6-169.5.5 157.1.5-173.2.6 173.6.4-148 .6 160.5.5-168 .5 166.5.5-174.9.5 165 .4-166.1.5 175.6.5-175.4.4 173 .5-186 .5 192.9.4-194.8.6 188.8.4-186.8.6 171 .4-173.4.5 177.9.5-170.5.4 197.2.5-194.2.5 180 .5-195.2.4 193.7.6-187.4.5 167.5.6-173.5.5 189.5.5-183.6.5 158.8.4-159 .6 183 .4-179.8.5 176.5.6-182.1.4 189.3.6-171.4.4 138.8.5-142.5.6 149.6.6-152.4.5 154.7.6-162.6.5 170.7.5-151.6.5 140.9.5-140.1.5 164.5.5-183.4.5 187 .5-160 .5 138.1.5-146.2.5 141.2.5-158.5.5 165.8.5-167 .5 179 .5-166.4.5 165.9.5-171.5.6 186.8.4-180.8.5 171.5.5-176.8.4 185.2.5-185.9.5 188.4.4-191.5.5 190 .5-179.9.5 169.4.6-166.2.5 164.3.5-155.8.5 159 .4-180.5.5 161.8.5-144.9.5 144.1.5-149.2.6 174.3.5-174.5.4 180.1.5-171.7.5 176.7.5-200.9.5 188.6.4-163.8.5 155 .4-162.4.5 176.5.6-172.9.4 156.4.5-164 .4 169.7.6-172.5.4 151.1.5-146.8.6 165.5.4-154.8.5 167.1.5-162.8.4 149.9.5-170.4.6 181.2.5-161.5.5 167.3.5-187.8.5 170.9.4-150.7.5 159.5.5-179.8.5 186 .6-180.5.5 164.8.6-162.7.5 155.3.5-164.7.6 187.4.6-176.6.4 177.4.5-164.4.5 168.9.4-184 .6 169.7.4-167.8.3 164.2" stroke="#9400d3" stroke-width="1.0" fill="none" stroke-linejoin="round" clip-path="url(#cBL)"/><path d="M181 595.6l.6 178.7.4-174.5.5 179.4.5-170.6.5 135.4.5-125.9.5 152.7.5-155.3.5 122.6.5-126.6.4 152 .5-141.6.5 141.6.5-141.5.5 112.4.5-102.1.5 114.6.4-132.9.4 122.4.6-112.8.5 98.7.5-105.5.5 118.3.6-119.4.5 101.7.5-94.7.5 108.8.5-104.1.5 96.9.5-92.8.6 93.6.4-105.9.5 105 .6-86.8.5 107.8.5-111.9.5 102.1.5-111 .5 142.5.5-142.6.6 118.1.4-113.3.5 143.4.5-156.4.5 137.1.5-162.8.5 150.3.5-144.4.6 149.1.5-133.9.5 171.1.6-188.6.4 171 .5-153.8.6 170.2.4-158 .5 153.6.5-163.8.5 152.9.5-159 .6 148.4.5-142.9.5 142.9.5-155 .5 160 .5-152.3.5 165.9.5-154 .6 163.4.4-161.8.6 160.9.5-167.5.4 123.8.6-108.3.5 119.2.5-117.7.6 109.9.5-115.7.4 135.9.6-137.6.6 134.3.4-133.5.5 129 .6-121 .4 118.7.5-133.2.6 116.1.4-108.5.6 122 .5-129.9.5 140.7.5-130.1.5 111.6.6-107.7.5 113.7.6-133.3.5 138.9.6-142.2.5 137.9.5-121.6.5 130.7.5-149.4.5 142 .5-131.2.6 126.8.5-145.2.4 175.2.5-151.6.5 158.1.5-186.9.6 153.1.5-138.2.6 171.5.5-166.8.4 156 .5-168.3.4 177.4.5-159.7.5 175 .6-191.9.4 147.5.6-131.7.5 128.4.5-112.2.5 126.1.5-129.4.4 110.4.6-123.1.4 128.7.5-118.4.5 118.6.6-117.8.4 103.6.5-107.4.5 107.6.4-115.1.6 138.1.4-141.4.5 126 .4-127.3.5 157.5.4-165.7.5 157.1.6-151.2.6 138.1.5-143.3.5 168.7.5-152.8.5 125.7.6-130.7.5 150.6.5-146.5.5 129.4.4-147.2.6 174.6.5-165.1.5 159.7.4-185 .6 172.4.4-171.5.5 165.2.4-154.3.6 178.2.4-162.8.5 177.8.4-180.8.5 153.4.4-171.3.5 196.4.5-178.6.5 159.2.4-168 .5 149.4.5-163.1.5 170.4.5-150.4.5 158.2.5-182.6.5 193.8.5-167.4.5 184.9.5-184.1.5 174.8.6-176.3.4 163.6.6-156.9.5 138.7.5-143 .6 132.4.5-122.4.4 120.8.5-121.2.5 128.3.5-128 .6 133.1.4-126.6.5 119.1.5-136.1.6 136.4.7-118.9.6 149.2.7-170.6.7 153 .8-156.6.7 147.3.8-141.2.9 149.3.9-143.8.6 176.4.7-198 .9 188.8.8-172.9.7 161 .9-182.3.9 189.9.8-175.5.9 143.2.8-144.5.8 160.2.9-173.4.9 167.9.8-167 .8 157.8.8-139.7.9 138 .9-124.2.9 144.9.9-151.8.9 137.6 1-117.7 1 105.8 1.1-99.9 1.4 117.5 1.3-123.6 1.5 101.8 1.7-134 1.7 170.8 1.7-190.4 1.8 166.7 1.7-149.4 2.7 146.2 6.5-131.6 6.6 97.9 7.9-102.9 5.8 158.2.9-165.4.9 153.9 1.2-139.2 1.1 121.5.9-131.4.9 154.6 1-129.2 1 117.7.9-118.2 1.1 92.4 1.1-98.6.8 119.4 1-129.8.9 137.7.9-162.3.8 150.5.9-144.9.9 181.4.8-207.4.6 204.3.6-190.9.7 154.3.6-139.2.6 138 .6-149 .4 161.9.4-151.6.5 153.8.4-144.7.5 180.4.5-180 .5 133.1.5-145.4.5 145.2.6-156.5.5 172.6.5-176.9.5 176.3.5-175.7.5 152.9.5-119.8.4 132.3.5-147.6.5 145.1.5-126.4.5 141.4.5-151.1.5 120.4.6-103.2.4 114.5.5-119.3.6 106.4.5-100.9.4 104 .5-115.8.5 133.7.4-121.6.5 107.2.5-114.6.6 114.9.5-111 .5 112.3.4-109.2.5 133 .6-129.3.5 115.6.4-130.1.6 155.2.5-146.6.5 127.9.5-135.7.5 127.7.5-131.1.5 147.3.5-159.4.5 154 .5-144.9.5 146.2.4-157.7.6 167.8.5-149 .5 126.8.6-161.3.5 164.3.5-143.5.5 154.2.4-160.8.5 170.3.5-148 .5 156.4.6-158.7.6 161.5.5-149.1.5 131.3.5-138.6.5 131 .5-127.4.5 121.8.4-141 .6 169.5.5-149.3.5 115.4.5-119.7.4 141.8.6-148.2.5 128.7.5-129.3.5 118.4.4-105.3.5 108.4.6-113.4.4 104 .5-100.9.6 118.5.4-134.2.6 138 .4-127.7.5 113.4.4-119 .5 117.6.5-127.5.4 159.4.6-152.6.5 138.8.5-128.3.6 155.1.5-170.2.5 162.9.5-161.3.6 134.5.4-123.3.6 122.7.5-137.9.5 151.4.6-168.1.5 161 .5-162.4.5 191.2.5-203.5.6 217 .5-211 .5 181.2.5-158.4.5 167.7.5-185.6.5 215.5.6-195.3.5 145.4.5-160.8.5 160.1.5-153.2.5 170.3.5-175.7.4 163.1.6-152.8.5 154.6.5-155.1.4 172.8.5-155 .5 176.4.5-189.7.5 176.5.6-161.6.4 155.9.5-154.4.5 138.5.5-140.9.5 167.9.5-153.2.5 120.6.6-132.6.4 151.8.6-144 .4 146.1.5-146.3.5 149.8.5-146.4.4 107.8.6-109 .5 114.7.5-117.4.6 115.4.5-123.3.5 163.2.5-178.8.6 173.3.5-158.7.5 135.5.6-143.8.4 151.7.5-183.6.5 179.5.6-177.3.4 200.9.6-186.3.5 167 .5-157.3.5 172.9.5-197.9.4 178 .5-171.9.5 172.2.5-165.3.5 175.5.6-167.3.5 152.5.5-131.1.6 135.6.5-132.9.5 137.2.5-141.3.4 161.5.5-175.6.5 157.3.4-159.7.5 147.7.4-125.1.5 144.7.5-145.5.6 146.5.4-146.3.6 123.8.4-130.5.6 146.8.4-136.2.5 118.2.6-119.3.4 119.9.4-129.2.5 120.5.4-102.2.5 122.4.6-133.9.5 114.3.5-105.6.5 137 .5-135.7.4 104.3.5-107.6.5 137.8.5-125 .5 96.5.5-115.2.5 115.5.6-118.4.4 136.2.5-144.9.6 130.6.5-133.2.5 168.4.4-170.1.5 150 .5-159.8.5 148.4.5-154.2.5 162.9.5-155.8.6 156.5.4-145.4.6 147.4.5-152.3.5 184.8.6-195.1.5 166.4.5-157.5.6 150.8.5-153 .5 155.8.6-159.3.4 162.8.5-161.8.5 190.1.5-183 .5 158.2.6-168.7.5 160.8.5-147.6.5 150.1.5-157.9.5 153 .5-136 .6 155.9.5-167.4.6 144.4.5-136.7.5 147.8.6-136.2.5 121.6.5-126.5.5 145.1.5-135.7.5 133.5.5-130.7.5 146.2.4-144.9.6 115 .5-114.6.4 118.5.5-123 .4 152.6.5-162.6.6 156 .5-164.5.6 147.3.4-144.1.5 139.4.5-149.6.5 146.2.5-153.7.4 195.8.5-188.7.4 168.2.6-169.6.4 152.2.6-156.3.5 147.3.5-145.7.5 190.2.5-178.7.5 146.5.6-148 .4 166.9.6-175.8.4 163.5.5-145.6.5 146.7.6-150.8.5 164.6.5-152.9.5 123.1.6-131.1.5 148.2.5-140.5.5 137.3.6-140.1.5 115.5.5-109.3.6 105.3.5-108.8.5 114.2.6-122.5.5 118.2.5-103.2.4 122.6.5-127.1.5 112 .4-111.4.5 111.7.5-119.5.6 121.9.4-139 .5 148.6.6-147.8.5 152.5.5-143.8.5 150 .5-154.1.5 168.3.5-169.4.5 183.1.4-173.7.5 145.5.5-162.1.5 150 .6-144.5.6 168.8.5-173.7.5 142 .5-159.7.5 197.3.5-181.9.5 156.8.5-153.9.5 137.4.5-132.7.5 178.2.6-171.1.5 150 .5-149.7.6 168.5.5-176.7.5 169.4.5-158.8.5 137.7.5-127.2.5 115.6.5-117.6.5 128.3.4-127.4.6 128.5.5-135.6.6 117.7.5-114.1.5 151.5.6-148.2.4 148.7.5-143 .5 113.4.5-108.7.5 118.2.6-131.6.5 141.3.5-149.5.6 131.2.5-137.3.5 160.4.5-162.1.6 178.1.4-171 .5 164.8.5-167.5.5 138.2.6-136.5.5 165.3.5-192.7.5 201.1.5-183.4.5 142.2.5-140.8.5 168 .6-182 .5 162.3.5-156.4.5 174.4.4-175.4.5 168.2.6-183.7.5 216 .4-213.3.6 216.6.6-190.4.4 144 .5-151.8.5 163.4.6-171.3.4 169.8.6-173.5.5 168.3.5-162.2.5 163.8.5-177.2.6 185.4.4-164.3.5 156.2.4-156.2.5 183 .5-194.3.5 159.6.5-133.3.5 159.3.5-166.6.6 136.6.4-133.2.5 149.1.4-136 .5 119.8.5-134.2.5 140.6.6-136.9.5 129.9.5-119.4.5 136.5.6-137.2.4 130.9.5-129.8.4 112.2.6-116.4.5 121.9.5-130 .5 154.7.4-156.2.5 150.8.5-151.8.5 135.4.5-146.8.5 173 .5-190.4.5 193.3.5-173 .6 168.6.5-190 .5 189.3.5-182.3.6 185.5.5-173 .6 169 .4-163.6.5 179 .6-199.3.5 172.6.5-167.3.6 153.5.5-144.9.4 144.8.5-146 .5 148 .5-160.5.6 195.1.4-161.7.5 132.4.5-131.9.6 122 .5-130.4.4 162.8.5-163.7.6 153.5.5-138.6.6 145.5.6-144.3.5 133.7.6-122.5.5 137.2.4-143.5.6 112.3.4-108.3.6 104.8.5-115.7.6 112 .4-109.4.5 139.3.6-151.1.4 150.3.5-158.3.5 130.9.5-122.6.6 155.4.4-178.9.5 148.8.6-148.5.4 152.7.5-155.2.4 153.4.6-137.4.5 184.3.5-194.3.5 149.8.4-144.2.6 159.2.4-155.9.6 184.6.4-194.6.5 177.2.5-169.2.5 144.7.5-151.3.5 144.5.5-154.4.6 166.2.4-166.3.6 186.6.4-174.5.5 187.8.6-196.5.5 155.7.6-150.7.5 151.2.5-141.2.5 143.4.6-147 .5 166.6.5-163.4.5 131.8.4-116.8.5 108.7.6-109.1.5 143.3.5-147.7.5 146 .6-141.2.6 118.6.5-114.5.5 114.2.6-126.1.5 115.9.5-110.9.5 120.8.4-123.6.5 120.1.5-138.3.4 156.3.5-145.5.5 140 .5-143.2.6 166.6.5-179 .4 164 .5-181.2.5 171.8.5-171.2.5 187.9.7-164.5.5 143.7.6-167.3.5 192.1.8-189.4.7 175.5.8-152.3.9 190 .7-181.1.8 162.3.8-176.2.7 164.3.7-155.6.8 134.9.8-132.7.8 136.1.7-125.3.7 124.2.8-126 .7 125.7.8-129.2.8 145.3.9-130 .6 115.3.8-134.3.7 147 .8-140.3.8 119.5.7-134.2.6 135.9.7-138.6.7 185.5.7-198.9.7 200 .6-172.8.7 134.8.8-142.5.8 167.4.7-168.5.8 180.1.7-171.7.6 148.5.7-165.4.8 140.7.7-117.7.6 118.8.7-113.7.9 106 .8-113.6.7 115.2.7-118.4.7 124.1.8-113.9.8 98.2.7-110.6.7 133 .8-130.5.8 132.9.8-147.7.7 130.8.7-126 .7 119.9.9-108.5.7 131.4.7-134.9.7 136.3.7-146.1.7 145.8.6-139.3.6 157.1.6-156.7.6 150.2.6-161.5.5 153.6.6-144.3.5 136 .5-134.1.5 144.3.5-136.1.5 126.3.5-140.8.4 142.9.5-143.1.5 190.3.5-177.8.5 133 .5-141.5.6 156.7.4-167.8.4 161.8.5-178.9.5 169.4.5-149.8.5 141.7.5-149.8.5 150.8.5-159.5.5 167.8.5-168.5.5 158.6.5-152.1.5 177.9.5-169.7.5 182.1.6-179.6.5 138.4.6-130.3.5 146.9.5-147.1.6 129 .5-119.1.5 121 .5-130.2.5 131 .5-120.4.5 139.5.5-143.8.5 130.4.5-140.6.5 150.9.4-132.5.5 135.7.5-151.3.5 134.3.5-118.1.5 110 .5-126.4.5 122.1.5-118.5.5 127.7.4-135.4.6 126.4.4-115.9.6 127.6.4-141.5.6 167.7.5-163.5.5 160.8.5-149.7.4 172 .5-186.8.5 179.5.5-179.4.4 167.8.5-169.1.5 173.6.4-204.8.5 169.1.5-147 .5 155.5.5-164.1.5 180.2.6-157.1.5 142.6.6-147.3.5 160.3.5-186.5.5 164.9.5-148.2.5 173.6.4-162.3.6 140.6.5-131.7.5 144 .4-148.2.5 126.4.6-121.6.5 136.8.5-118.2.5 109.3.6-130.7.4 124.5.6-122.5.5 111.5.4-113.8.5 125.4.5-122.3.6 124.3.5-125.9.5 131.3.5-126.6.6 108.5.4-109.9.5 119.4.4-134.6.6 141.8.5-133.7.5 135.5.5-131.4.5 126.6.5-122.4.5 121.7.6-114.1.5 144.6.5-168.7.4 169.1.5-175.8.5 165.4.5-163.2.4 177.2.5-170.5.6 149.1.5-142.1.5 129.4.5-139.4.5 174.8.5-167.5.5 152 .5-159.4.5 183.7.6-190.3.6 152.8.5-122.9.5 164.4.6-176.8.6 128.9.4-122.4.5 132.9.5-133.7.5 136 .5-139.6.5 184 .4-187.4.5 137 .5-153.4.6 171.7.5-158 .6 141.9.5-140.7.6 159.8.4-150.5.6 120.5.5-119.4.5 141.2.4-132.4.5 107.9.5-109.6.5 128.5.4-129.2.5 116 .5-111.9.4 99.9.5-118.2.5 140.2.5-140.4.6 127.2.5-127 .4 121.2.5-115.3.6 115.6.5-122.3.5 133.9.5-125 .5 134.8.5-150.3.5 137 .5-135.9.6 132.2.5-140.6.4 178.9.5-157.8.5 126.7.5-146.3.5 181.3.4-173.4.5 162.9.5-170.8.5 159.2.5-151.4.5 151.6.5-133.5.4 122.8.5-126.8.5 167.1.5-179.9.4 153.9.5-135.7.5 130.5.5-149.3.5 154.2.5-132.4.5 133.2.5-158 .5 149.1.5-151.7.5 147.4.5-121.6.5 116.6.5-121.4.5 146.4.5-140.9.5 143.2.4-143.1.5 125.1.4-142.1.5 152 .5-136.5.6 108.8.5-103.1.5 116.1.5-124 .6 122.7.5-127.1.5 123.8.5-125.9.5 117 .5-106.1.6 107 .5-108.2.5 131.3.5-129.9.5 110.8.6-124.4.5 128 .4-122.9.5 128.6.5-143.4.5 176 .5-167.3.5 141.3.5-139.7.5 173.5.5-182.9.4 158.3.6-148.1.4 150 .5-159.2.5 150.9.6-131.6.5 134.6.5-143.3.5 146.4.5-138.9.5 172.9.6-185.2.5 150 .5-129.8.4 124.6.5-147.6.5 151.2.5-158.7.6 142 .5-119.2.5 141.9.6-160.7.5 156 .4-135 .5 122.4.5-133.4.4 128.3.5-126.9.4 115.6.6-117 .5 123 .6-121.1.5 123.2.4-117.8.5 128.6.5-145.2.5 136.5.5-133.1.6 120.3.5-118.4.5 123.3.5-124.1.5 120.6.6-108.5.4 108.4.5-109.2.6 139.2.5-158.9.5 136.2.4-132 .6 140.1.5-152.3.5 184.3.5-166.7.5 164.5.6-180.7.4 161.2.5-144.5.5 149.4.4-161.2.4 156.3.5-155.9.6 151.3.5-161.6.6 185.2.5-176 .5 144.8.5-141.6.4 174.2.5-175 .4 164.1.5-150.6.6 129.9.4-139 .5 149.4.5-160.1.5 161.3.5-150.1.4 132.2.2-132.3" stroke="#009e73" stroke-width="1.0" fill="none" stroke-linejoin="round" clip-path="url(#cBL)"/><path d="M1234 263.6l.5 11.6.5 18 .5-10.5.5-18.1.5 12 .5 18.5.5-12.3.5-14.8.5 8.6.5 11.8.5-7.6.5-12.1.5 8.1.5 11.1.5-6.6.5-9.8.5 6.1.5 10.4.5-6.9.5-11.4.5 6.7.5 11.7.5-7.2.5-14 .5 9.4.5 16.5.5-9.9.5-18 .5 10.9.5 18.7.5-12.9.5-17 .5 10.5.5 15.2.5-8.6.5-17.8.5 11.9.5 22.7.5-14.5.5-23.6.5 14 .5 20.9.5-14 .5-18.7.5 11.9.5 20.9.5-12.1.5-21.6.5 14 .5 21.3.5-14.1.5-21.3.5 12.4.5 21.2.5-13.4.5-21.2.5 14.3.5 20.6.5-12.3.5-19.3.5 12 .5 15.8.5-10.8.5-14.2.5 8.5.5 14.2.5-8.6.5-12.8.5 8.8.5 11.2.5-7 .5-10.9.5 6.3.5 10.3.5-7 .5-9.7.5 6.1.5 11 .5-6.3.5-12.9.5 8.4.5 14 .5-9 .5-14.9.5 8.7.5 15 .5-9.5.5-17.3.5 11.4.5 19 .5-11.3.5-18.7.5 11.8.5 18.9.5-12.6.5-21.9.5 13 .5 22.5.5-13.7.5-24.5.5 16.3.5 29.4.5-18.1.5-29.1.5 17.6.5 25.2.5-17 .5-24.6.5 15 .5 28.8.5-17.1.5-28.9.5 19.3.5 27.1.5-17.2.5-28.7.5 16.9.5 27.9.5-18.4.5-24.6.5 16.2.5 21.6.5-12.5.5-20.5.5 12.8.5 22.1.5-14.8.5-20.8.5 12.6.5 16.4.5-10.2.5-14.3.5 9.7.5 13.3.5-8.2.5-11 .5 6.6.5 10.2.5-7 .5-10.1.5 6.2.5 10.2.5-6 .5-11.6.5 7.6.5 14.6.5-9.1.5-17.1.5 10.3.5 16.7.5-11 .5-18.1.5 11.5.5 19.6.5-11.7.5-17 .5 10.9.5 19.6.5-12.7.5-26.6.5 15.4.5 31.3.5-20.2.5-29 .5 19.2.5 29.3.5-17.1.5-31.7.5 19.6.5 33.4.5-22.6.5-34.5.5 20.8.5 34.4.5-20.9.5-32.9.5 22 .5 34.1.5-21 .5-36.1.5 22 .5 31 .5-20.9.5-24.8.5 15.7.5 23.6.5-13.6.5-24.7.5 16.4.5 21.1.5-13.9.5-16.9.5 9.4.5 15 .5-9.6.5-13.4.5 7.4.5 12.3.5-4.8.5-13.8.5 3.8.5 16.1.5-3.2.5-19.4.5.7.5 18.6.5 3.9.5-21.5.5-6 .5 23.1.5 8.5.5-18.3.5-13 .5 18.4.5 16.8.5-18.9.5-20.4.5 15.6.5 26 .5-12.7.5-29.7.5 11.8.5 30.8.5-6.5.5-28.6.5.3.5 25.8.5 4.8.5-30.8.5-11.7.5 34.1.5 16.6.5-27.8.5-18.9.5 21.8.5 27.5.5-21.1.5-35 .5 14.1.5 33.7.5-6.3.5-31.1.5 1.5.5 24 .5 5.6.5-18 .5-12.2.5 16.8.5 16.4.5-15.2.5-20.9.5 8.5.5 21.6.5-2.4.5-20.2.5-3.5.5 20.3.5 10.6.5-18.7.5-16.9.5 9.2.5 19.1.5-1.3.5-27.3.5-11.8.5 22.9.5 13 .5-14 .5-37.1.5-34.4.5-13.9.5 11 .5-3.6.5-38.5.5-60.2.5-28.7.5-1.1.5 43.7.5 47.8.5 5.5.5-40.7.5-39.8.5-1.3.5 30 .5 40.3.5 19.1.5-25.1.5-42.2.5-14.5.5 27.1.5 45.6.5 13 .5-39.8.5-46.3.5-6.5.5 32.5.5 39 .5 2.4.5-36.9.5-27.6.5 10.5.5 33.6.5 22.9.5-11.5.5-38.7.5-22.8.5 24.7.5 41.8.5 5.7.5-35.2.5-31.6.5 3.1.5 31.9.5 27.6.5-9.1.5-34.4.5-17 .5 21.4.5 34.9.5 5.6.5-27.4.5-24.7.5.8.5 23.9.5 20.3.5-10.6.5-31.1.5-11.6.5 21.2.5 27.2.5 3.6.5-22.9.5-21.3.5 6.6.5 27.5.5 16.5.5-18.4.5-33.4.5-8.6.5 27.3.5 29.6.5-6.3.5-31.2.5-17.8.5 17.6.5 32.9.5 10.8.5-25.6.5-33.1.5 1.9.5 36.3.5 26 .5-20.8.5-45.2.5-13.9.5 34 .5 38.6.5-1.4.5-39.8.5-31.9.5 23.7.5 53.9.5 15.8.5-41.9.5-46.8.5 4.9.5 43.3.5 24.5.5-22 .5-38.3.5-7.2.5 29.5.5 28.1.5-4.6.5-26.2.5-14.6.5 14.3.5 24.7.5 3.4.5-21.6.5-21.2.5 4.8.5 23.8.5 12.5.5-14.9.5-24.6.5-1.4.5 24.8.5 21.7.5-8.1.5-29.6.5-12.9.5 22.2.5 27.7.5-2.5.5-32.8.5-23.4.5 17 .5 34.8.5 10.2.5-29.2.5-30.8.5 11.4.5 39.5.5 19.4.5-25 .5-42.8.5-3.2.5 40.3.5 27.2.5-19.6.5-46.5.5-13.1.5 40.2.5 42.6.5-8.8.5-45.5.5-21.8.5 30.7.5 46.2.5 1 .5-48.9.5-39.1.5 22.9.5 48.2.5 8.6.5-34.9.5-34.7.5 9.7.5 46.7.5 26.5.5-30 .5-48.9.5-1.3.5 46.8.5 28.6.5-22.8.5-42 .5-8.5.5 28.7.5 25.7.5-5.4.5-30 .5-16.1.5 23.4.5 34 .5.6.5-31.4.5-23.4.5 12.9.5 34.2.5 9.8.5-32 .5-32.1.5 8.8.5 37.3.5 21.5.5-23.7.5-37.9.5.4.5 38.2.5 22.8.5-18.1.5-30.4.5-10.1.5 22.9.5 26.3.5-7.5.5-32.1.5-16.1.5 22.7.5 31.7.5.1.5-25.7.5-17.2.5 12 .5 25.6.5 7.3.5-24.9.5-29.3.5 6.4.5 33.8.5 12 .5-20.5.5-26 .5-1.5.5 38.5.5 30.3.5-24.6.5-45.4.5-8.2.5 41.9.5 35.4.5-23.5.5-44.2.5-8.7.5 29.8.5 34.7.5-6.3.5-46.3.5-20.4.5 38.9.5 42.7.5-9 .5-42.3.5-21.1.5 23.9.5 34.3.5-3.4.5-33.8.5-16.2.5 18.2.5 28.4.5 4 .5-26.9.5-18.8.5 15.9.5 27.3.5 2.2.5-26 .5-19.8.5 11.9.5 24.1.5 2.1.5-18.8.5-15.2.5 9.5.5 26.1.5 5.5.5-22 .5-20.3.5 9.7.5 31.9.5 5 .5-30.6.5-22.8.5 12.3.5 31.5.5 6.6.5-27.4.5-21.4.5 15.1.5 33.5.5 5.4.5-29.6.5-22.3.5 12.3.5 32.2.5 5.3.5-35.7.5-28.8.5 21.1.5 42.6.5 2.8.5-33.7.5-21.7.5 19.2.5 38.2.5 1.5.5-40.4.5-23.9.5 22 .5 31 .5-1.3.5-31.6.5-16.4.5 22.5.5 29.2.5-1.4.5-29.9.5-15.8.5 22.3.5 29.1.5-7.4.5-34.4.5-12.9.5 23.8.5 24.1.5-8.2.5-24.7.5-5.6.5 20.4.5 18.3.5-8.1.5-24 .5-6.8.5 22.4.5 18.3.5-14.6.5-23.4.5-.2.5 18.9.5 11.6.5-10.1.5-14.4.5 1 .5 17.3.5 11.1.5-14.9.5-20.5.5 3.4.5 21.4.5 7.9.5-18.3.5-18.7.5 8.5.5 25.1.5 7.2.5-22 .5-18.4.5 13.2.5 25 .5-.4.5-24.2.5-14.4.5 14.3.5 22.6.5-2.9.5-24.2.5-8.1.5 18.8.5 18.1.5-6.4.5-20.7.5-4.2.5 16.5.5 12 .5-9.7.5-18.3.5.6.5 15.5.5 7.9.5-9.1.5-11.5.5 3.3.5 13.4.5 4.7.5-11.4.5-10.5.5 5.5.5 10.3.5-.2.5-8.1.5-4.6.5 5 .5 8.5.5-.9.5-8.4.5-3.2.5 7 .5 7.6.5-4 .5-10 .5-1.6.5 8.6.5 5.1.5-5.4.5-8.1.5 1.4.5 9.9.5 4.1.5-7.5.5-8.6.5 3.9.5 11.4.5 1 .5-12 .5-9.3.5 8.2.5 16 .5-2.4.5-16.3.5-5 .5 13.5.5 13.8.5-6.6.5-18.3.5-2.2.5 16 .5 8.8.5-11 .5-15.1.5 3.3.5 15.7.5 5.4.5-11.2.5-11.4.5 6.6.5 17.1.5.9.5-17 .5-9.8.5 10.4.5 14.4.5-4.1.5-14.5.5-2.7.5 10.9.5 10.2.5-5 .5-14.5.5-1.3.5 15.9.5 8.2.5-12.4.5-11.9.5 4 .5 9.6.5 2.5.5-7.5.5-6.7.5 5.4.5 10.2.5-.1.5-9.8.5-4.9.5 6.9.5 8.1.5-3.4.5-9.8.5-1.6.5 7.9.5 5.9.5-4.3.5-8.1.5 1.1.5 8.7.5 3.7.5-6.8.5-8.4.5 2.7.5 11.2.5 2.4.5-12.8.5-7.9.5 8.9.5 11.1.5-1.2.5-10.6.5-4.2.5 9.5.5 10.9.5-6.3.5-16.6.5-1.7.5 15.3.5 7.8.5-10 .5-12 .5 3.4.5 15.8.5 5.2.5-13.8.5-11.3.5 7.7.5 14.7.5-1 .5-15.8.5-7.1.5 10.9.5 13.4.5-3.8.5-17 .5-2.9.5 17.1.5 11.2.5-10.4.5-16.8.5 1.7.5 16 .5 4.4.5-12.1.5-11.1.5 6.2.5 14.7.5 1.7.5-13 .5-6.9.5 9.3.5 10.3.5-3.3.5-11.6.5-3.1.5 8.7.5 7 .5-5.2.5-9.8.5.9.5 10.5.5 4.5.5-7 .5-8.3.5 3.1.5 10.7.5 1.4.5-11 .5-7.4.5 6.9.5 11.2.5-1.5.5-12.6.5-4.5.5 12.4.5 11.3.5-7 .5-13.7.5-.4.5 12.2.5 6.1.5-10 .5-14.2.5 4.2.5 19.5.5 4.4.5-17.1.5-11.9.5 11.9.5 15.9.5-3.7.5-14.1.5-5 .5 9.7.5 9.8.5-5.8.5-13.6.5-.6.5 14.7.5 7.9.5-9.9.5-11.2.5 3.8.5 12.6.5 2.2.5-11.9.5-9.2.5 7.1.5 13 .5-1.6.5-13.2.5-4.4.5 11.5.5 10.5.5-5.6.5-12.8.5-1.3.5 12.7.5 7.3.5-11 .5-14.2.5 4.2.5 17.5.5 4.9.5-16.3.5-11.1.5 11.6.5 16.4.5-1.8.5-19.3.5-7.6.5 15.3.5 14.2.5-9.3.5-19.3.5.3.5 19 .5 8.6.5-11.8.5-11.1.5 4.3.5 14.7.5 3 .5-16.6.5-12.5.5 11 .5 19 .5-4 .5-19.3.5-3.7.5 14.9.5 11.8.5-7.6.5-14.7.5.8.5 13.4.5 5.7.5-11.4.5-12.5.5 5.4.5 15.2.5 1.2.5-12.4.5-5.4.5 8 .5 9.6.5-2.7.5-10.8.5-2.8.5 8.8.5 6.6.5-6.2.5-10 .5 1.5.5 10.6.5 3.8.5-7.7.5-5.9.5 4 .5 8.6.5.3.5-10 .5-5.3.5 7.1.5 8.6.5-3.9.5-9.5.5-.8.5 9.2.5 7.2.5-6.8.5-11 .5 2.5.5 13.1.5 3.4.5-13.2.5-10.9.5 8.2.5 14.5.5-1.6.5-14.5.5-5.8.5 14.2.5 13.9.5-8 .5-18 .5-1.5.5 18.9.5 9.5.5-16.8.5-16.7.5 7.6.5 19.4.5 3 .5-16.9.5-7.9.5 11.3.5 13.4.5-4.1.5-16.2.5-4.1.5 13.2.5 8.4.5-8.8.5-10.3.5 2.3.5 11.9.5 5.9.5-11.3.5-12.5.5 8.4.5 17.9.5-2.2.5-17.7.5-6 .5 11.2.5 10 .5-5.5.5-10.8.5-.2.5 11.9.5 6.5.5-8.8.5-10.1.5 3.5.5 12 .5 1.7.5-13.2.5-8.5.5 9.5.5 12.1.5-3.4.5-11.1.5-1.8.5 10.3.5 7.3.5-6.6.5-12.8.5 1.2.5 14.1.5 4.6.5-13.6.5-11.2.5 9 .5 14.8.5-.3.5-14.7.5-5.7.5 12.7.5 12.2.5-7.8.5-17.3.5-.2.5 15.3.5 4.6.5-9.3.5-8.5.5 4.4.5 13 .5 1.5.5-12.3.5-7.5.5 9.6.5 12.2.5-5.2.5-15.8.5-2.5.5 14.1.5 8.2.5-9 .5-9.9.5 4.1.5 10.1.5 1.6.5-7.9.5-4.9.5 4.1.5 6.5.5-1.4.5-8.8.5-2.2.5 7.7.5 5.1.5-3.6.5-6.7.5 1.2.5 7.4.5 2.1.5-6.3.5-6.8.5 4.1.5 8.5.5-.7.5-9 .5-3 .5 7.5.5 7 .5-3.6.5-8.7.5.6.5 7.9.5 3.6.5-7.2.5-7.8.5 3.8.5 9.1.5 1 .5-9.9.5-4.8.5 8.8.5 8.6.5-3.7.5-9.9.5-.5.5 8 .5 4.4.5-6.9.5-9.1.5 3.7.5 10.6.5 1.5.5-9.2.5-5 .5 7.1.5 7.3.5-3.1.5-7 .5-.9.5 5 .5 3.5.5-4.1.5-6.2.5 2 .5 7.8.5 2.1.5-7.3.5-4.9.5 5.3.5 7 .5-2.4.5-7.2.5-1.2.5 5.1.5 3.7.5-3.4.5-5.8.5 1.4.5 7.5.5 2 .5-6.3.5-4.9.5 4.1.5 7.3.5-1.5.5-9.8.5-2.9.5 8.8.5 6.5.5-5.3.5-8 .5 1.6.5 9.9.5 2.6.5-8.4.5-6.6.5 4.7.5 8.4.5-2 .5-8.7.5-2.5.5 7.8.5 7.6.5-5.2.5-9.9.5 2 .5 9.5.5 1.5.5-6.7.5-5.7.5 3.5.5 8.4.5-1.1.5-9.3.5-2.7.5 8.5.5 6.6.5-4.7.5-8.5.5 1 .5 8.8.5 2.1.5-7.4.5-5.3.5 3.9.5 6.3.5-.8.5-5.9.5-2.2.5 6.3.5 5.8.5-4.5.5-7.3.5.9.5 6.8.5 1.6.5-5.7.5-3.9.5 3.1.5 6 .5-.2.5-6.6.5-2 .5 6.2.5 5.6.5-4.5.5-8.7.5.7.5 9.1.5 2.6.5-8.2.5-6.7.5 5.9.5 10.2.5-1.7.5-8.9.5-2.4.5 7.6.5 7.3.5-6.8.5-11.8.5 2.1.5 11.6.5 3.2.5-10 .5-8 .5 8.2.5 11.4.5-2.6.5-10.9.5-3.1.5 9.5.5 7.4.5-8 .5-11.7.5 2.4.5 14 .5 3.3.5-12 .5-7.5.5 8.9.5 10 .5-3.5.5-9.8.5-1.8.5 7.6.5 4.8.5-5.9.5-7.3.5 2.6.5 9.1.5 1.9.5-8.4.5-4.4.5 5.9.5 6.3.5-2.8.5-7.2.5-.8.5 5.9.5 3.6.5-4.7.5-6.6.5 3 .5 9.2.5.7.5-8.1.5-4 .5 5.8.5 7 .5-4 .5-9.2.5-.1.5 8.2.5 3.8.5-5.9.5-6.4.5 4.2.5 8.7.5-.1.5-9.3.5-4.4.5 7.7.5 6.5.5-4.8.5-9.2.5.6.5 10.6.5 3.9.5-8.4.5-6.1.5 5.3.5 7.3.5-1.3.5-8.1.5-2.4.5 6.2.5 5.1.5-4.3.5-9.4.5 2.3.5 11.8.5 2.6.5-9.6.5-6 .5 6.4.5 7.7.5-2.7.5-10.4.5-2.5.5 10.5.5 6.3.5-7.5.5-8.4.5 3.8.5 10.6.5.8.5-9.6.5-4.7.5 6.6.5 7.2.5-3.9.5-10 .5.1.5 9.5.5 3.3.5-5.9.5-5.7.5 3.7.5 8.5.5-.8.5-8.9.5-3.3.5 6.7.5 6.4.5-4.9.5-9.8.5 1.9.5 10.9.5 3 .5-8.6.5-6.7.5 6.3.5 9.3.5-3.1.5-10.2.5-2.4.5 9.2.5 6.3.5-7.2.5-8.7.5 3.6.5 11.5.5 1.4.5-10.9.5-5.8.5 8.2.5 8.2.5-4.9.5-11 .5-.7.5 12.3.5 5.9.5-10.3.5-8.4.5 6.6.5 10.5.5-1.3.5-10.9.5-3.7.5 8.7.5 7.9.5-7.1.5-10.9.5 3.4.5 10.1.5 1.7.5-7.2.5-4.3.5 5.2.5 5.6.5-2.3.5-6.9.5-1.1.5 6.4.5 3.6.5-5.3.5-6 .5 3.4.5 8.1.5 0 .5-7.2.5-3.4.5 6.2.5 6.9.5-5.2.5-11.1.5.6.5 13.2.5 4.8.5-12.3.5-8.6.5 9.1.5 13.1.5-3.5.5-14.3.5-1.8.5 10.7.5 5 .5-7.5.5-8.3.5 4 .5 9 .5.6.5-7.6.5-3.8.5 7.1.5 6 .5-4.5.5-6.6.5-.2.5 7.3.5 3.2.5-7.8.5-5.8.5 5.6.5 8.2.5-1.7.5-8.2.5-1.1" stroke="#9400d3" stroke-width="1.15" fill="none" stroke-linejoin="round" clip-path="url(#cTR)"/><path d="M1234 288.5l.5-17.1.5-.7.5 17.2.5.2.5-15.7.5-1.4.5 15.1.5.5.5-14.7.5.1.5 12.8.5.6.5-11 .5-.7.5 11.3.5.8.5-13 .5-1 .5 13.1.5 1.6.5-15.8.5-1.3.5 19.3.5 1.7.5-20.3.5-1.3.5 19.9.5 1.5.5-23.7.5-2.7.5 27.4.5 2.9.5-30.3.5-2.8.5 36.3.5 1.2.5-34.4.5-2.2.5 31.8.5 1.7.5-33.2.5.1.5 28.1.5.8.5-22.2.5-1.4.5 23.5.5 1.3.5-26.2.5-2.7.5 27 .5 1 .5-25.5.5-.3.5 24.2.5.9.5-20.4.5-.5.5 17.5.5 1.1.5-19.7.5-.5.5 16.7.5-.2.5-11.4.5.6.5 9.3.5 1.2.5-11.3.5-1.5.5 12.4.5-.1.5-11.2.5-.3.5 10.4.5.8.5-9.8.5-.3.5 9.8.5.6.5-10.8.5-1.4.5 11.5.5.4.5-11.8.5-1.2.5 15 .5 2.3.5-18 .5-2 .5 21 .5 1.1.5-24 .5-3.3.5 27.7.5.7.5-24.6.5-1.2.5 26.9.5 3.1.5-30.5.5-1.3.5 27.5.5 1.3.5-29.8.5-2.7.5 32.6.5 2.2.5-31.6.5-1.9.5 33.7.5.7.5-31.4.5-2.1.5 28.9.5 1.1.5-28.6.5-.8.5 27.1.5.3.5-20.6.5 0 .5 16.8.5.6.5-17.2.5-.8.5 15 .5.1.5-12.2.5 0 .5 11.5.5.7.5-10.9.5-.8.5 10.5.5.1.5-10.4.5-.9.5 10.9.5 1.1.5-11.8.5-.6.5 12.9.5.7.5-12.8.5-1.3.5 13.2.5 1.3.5-16.4.5-1.3.5 18.2.5 1.5.5-17.9.5-1.6.5 21.1.5 1.5.5-24.1.5-1.9.5 23.2.5 1.1.5-22.8.5-.4.5 23.5.5 3.7.5-28.5.5-3.4.5 33.6.5.7.5-33.6.5-1.7.5 31.5.5 3.9.5-35.3.5-.5.5 34.3.5.8.5-30.1.5-2.6.5 29.7.5.6.5-29.1.5-.9.5 27.4.5 2.6.5-27.3.5.1.5 23.6.5 0 .5-20.3.5-1.1.5 17.6.5.6.5-17.1.5-.7.5 18.1.5 1.6.5-18 .5-.5.5 16.3.5.5.5-16.3.5-.6.5 14.1.5 1.4.5-15.6.5-1.7.5 20 .5 2.1.5-22.5.5-2.1.5 23.7.5.9.5-24.5.5-1.2.5 23.9.5 2.6.5-25.8.5-.9.5 26.3.5.9.5-25.3.5-2.4.5 25 .5.8.5-25.4.5-1.9.5 28.3.5 3 .5-29.7.5-2.3.5 33.2.5 2.8.5-39.3.5-2.6.5 37.2.5.6.5-32.3.5-.9.5 32.1.5 1.8.5-30.2.5-1.6.5 27.5.5-1 .5-22.6.5-.7.5 19.2.5 1.8.5-19.2.5-1.2.5 22.1.5 1.7.5-23.4.5-.9.5 19.8.5.7.5-19.7.5-.5.5 18.3.5 1 .5-16.4.5-1.6.5 19.5.5 1.9.5-23.6.5-2.5.5 25.5.5 2.6.5-30 .5-1.6.5 32.4.5 2.4.5-32 .5-2.6.5 33.3.5.4.5-32.7.5-4.1.5 35.6.5 4.7.5-39.2.5-2.3.5 39 .5 3.8.5-35.7.5-5.2.5 34.3.5 5.6.5-37.6.5-6.1.5 36.3.5 9.8.5-37.7.5-9.6.5 39.7.5 8.5.5-34.2.5-10.5.5 29.7.5 12 .5-31.4.5-11.2.5 28.4.5 12.3.5-23.5.5-12 .5 21.5.5 12.6.5-21.1.5-13.4.5 17.5.5 10.8.5-12.9.5-9.4.5 11.2.5 11.3.5-10 .5-12.8.5 9.7.5 12.7.5-9.4.5-13.3.5 7.6.5 14.4.5-5.9.5-17.9.5 6.8.5 21.3.5-6.4.5-19.6.5 2.6.5 20.2.5-.8.5-26.6.5-2 .5 34.3.5 7.3.5-40.3.5-8.2.5 40.3.5 11 .5-37.4.5-16.7.5 33.6.5 20.6.5-33.8.5-26.5.5 36 .5 32.9.5-31.4.5-31.4.5 24 .5 27.2.5-17.9.5-31.8.5 11.5.5 40.2.5-10.6.5-38.8.5 6.5.5 41 .5 1.8.5-45.9.5-8.7.5 47.1.5 12.3.5-45.7.5-17.5.5 39.3.5 19.9.5-28.4.5-19 .5 22.6.5 23.4.5-12 .5-24.8.5 3.2.5 29.5.5 10.8.5-22.2.5-19.5.5 12.6.5 29.6.5 10.2.5-54.4.5-59 .5-36.5.5-13.6.5 20.7.5-8.5.5-37.5.5-25.3.5 19.6.5 38.1.5 9.8.5-21.6.5-23.1.5-2.8.5 24 .5 25.6.5 39.7.5 16.9.5 16.6.5 45.2.5 33 .5 11 .5-29.8.5-33.6.5 4 .5 35.6.5 11.9.5-32.1.5-69 .5-23.8.5 8.1.5-13.5.5-26.7.5-42.7.5-11.4.5 24 .5 28.6.5 1 .5-26.6.5-23.7.5 4.6.5 30.8.5 68.2.5 33.8.5 7.4.5 19.3.5 19.7.5 42.2.5-.2.5-50.6.5-28.9.5 26.2.5 31.4.5-13.2.5-37.6.5-1.8.5 38.7.5 21.4.5-19.8.5-29 .5-41.7.5-13.5.5-15.2.5-44.1.5-30.5.5-20.4.5 11.7.5 31.8.5 17.2.5-17.4.5-33.2.5-6.8.5 28.6.5 26.8.5-1.1.5-24 .5-22.9.5 3 .5 24.9.5 14.4.5 29.8.5 17.9.5 30.5.5 56 .5 26.5.5 4.8.5-28.8.5-24.6.5 14.7.5 24.4.5-7.6.5-31 .5-8.4.5 31.8.5 24.4.5-31.3.5-40.4.5 15.5.5 54.1.5 13.5.5-42.3.5-30.2.5 15.5.5 38.1.5 11.9.5-37 .5-78.2.5-30.8.5 5.5.5-9.2.5-16.5.5-42.1.5-20.3.5 31 .5 50.4.5 11.7.5-39.1.5-40.8.5 0 .5 33.1.5 24.4.5-10.4.5-30.8.5-19.9.5 53.3.5 79.6.5 63.3.5 19.2.5-39.8.5-1.8.5 24.7.5 13 .5-17.6.5-27.6.5 2.1.5 21 .5-27.6.5-50.7.5-62.7.5-44.6.5 27 .5 28.4.5.3.5-25.3.5-25.2.5 7 .5 33.5.5 18.9.5-18.2.5-38 .5 24.5.5 65 .5 78 .5 53.1.5-36.9.5-36.1.5 12 .5 37 .5 9.2.5-32.3.5-74.6.5-29.3.5 5.1.5-14.6.5-19.3.5-45.4.5-21.6.5 31.2.5 56.2.5 27.7.5-30.3.5-53.6.5-13.5.5 40.8.5 58.4.5 18.1.5-42 .5-59.9.5-18.5.5 39.8.5 52.9.5 8.6.5-43.3.5-43.8.5.9.5 39.4.5 45.7.5 5.2.5-45 .5-42.3.5 10.1.5 51.2.5 34.7.5-20.7.5-50 .5-24.6.5 22.9.5 38.8.5 11.3.5-24.1.5-34.5.5-6.5.5 39.9.5 43.9.5-9.2.5-45.8.5-24.5.5 17.6.5 34.9.5 9 .5-26.5.5-28.3.5-.4.5 26.6.5 22.6.5-10.1.5-28 .5-10.1.5 21 .5 26 .5-2.3.5-24.6.5-14.7.5 9 .5 19.7.5 4.4.5-18.3.5-16.5.5 5.8.5 21.9.5 9.6.5-15.7.5-15.2.5 3.6.5 15.3.5 7 .5-11.6.5-14 .5 1.9.5 12.8.5 6.5.5-9.2.5-11.6.5 2.6.5 13.2.5 7.4.5-9.4.5-14.9.5 2.6.5 17 .5 6.3.5-13.5.5-16 .5 3.2.5 19.9.5 8.3.5-16.5.5-17.4.5 8.4.5 22 .5 7 .5-19.8.5-21.3.5 10.8.5 26.2.5 1.9.5-23.4.5-14.6.5 12.8.5 21.6.5 1.9.5-22.3.5-13 .5 17.2.5 22.5.5-5.6.5-23 .5-8.4.5 15.4.5 18.5.5-7.6.5-26.2.5-4.8.5 25.8.5 20 .5-14.5.5-26.7.5 1.8.5 25.8.5 11.6.5-20.3.5-23.5.5 6.9.5 25.6.5 6.1.5-21.8.5-19.2.5 16.5.5 27.4.5-3.2.5-22.1.5-10.4.5 15.5.5 19 .5-9.3.5-25.9.5-3.2.5 23.2.5 15.4.5-14.5.5-23.1.5 6 .5 27.8.5 7.4.5-24.6.5-19.9.5 14.4.5 24.4.5-3.7.5-24.8.5-6.6.5 18.8.5 13 .5-7.9.5-13.6.5 1.5.5 12.6.5 5 .5-11.6.5-13.5.5 7.4.5 16.7.5-1.7.5-14.5.5-3.7.5 10.7.5 9.1.5-5.6.5-11.8.5 1.5.5 10.7.5 2.3.5-8.9.5-8.3.5 6.2.5 13.6.5-2 .5-15.9.5-2.2.5 14.6.5 8.7.5-10.1.5-13.7.5 4.4.5 15.3.5 1.3.5-17.4.5-8.4.5 14.6.5 15.2.5-7.4.5-19.3.5 1.2.5 21.8.5 5.4.5-17.4.5-14.9.5 10.4.5 21.2.5-5.2.5-22.1.5-2.8.5 19.3.5 12.8.5-13.2.5-21 .5 7.8.5 23.9.5-.3.5-22.1.5-11.8.5 17.6.5 20.1.5-11.1.5-23.7.5 2.6.5 25.4.5 7.1.5-19.1.5-12.5.5 9.5.5 16.2.5-4 .5-20 .5-3.5.5 17.5.5 9.7.5-10.5.5-12.8.5 4.9.5 18.2.5 1.8.5-20 .5-10.7.5 15.8.5 15.9.5-10 .5-19.8.5 1.7.5 21.7.5 8.3.5-18 .5-17.3.5 14.1.5 23.6.5-7.5.5-22.7.5-3.5.5 16.2.5 12.1.5-12.8.5-22.5.5 9.5.5 30.4.5 1.5.5-26 .5-11.8.5 18.4.5 20.5.5-13.5.5-28.8.5.8.5 31.7.5 11.6.5-26.2.5-17.8.5 17.1.5 23.6.5-5.8.5-25.1.5-5.8.5 20.9.5 11.2.5-14.6.5-17.8.5 7.5.5 21.4.5 1.9.5-18.7.5-7.5.5 13.8.5 11.3.5-7.5.5-14.8.5.7.5 13.7.5 5.3.5-12.5.5-11.3.5 10.2.5 16 .5-3.5.5-15.2.5-3.1.5 13.1.5 7.5.5-10.3.5-12.8.5 4.1.5 16.4.5 2.2.5-16.9.5-8.2.5 15.3.5 14.7.5-8.3.5-18.9.5.9.5 17.5.5 5.3.5-15.8.5-12.5.5 10.9.5 17.6.5-2.5.5-18.9.5-4.1.5 19.3.5 13.3.5-16.3.5-21.7.5 7.5.5 23.2.5 1.5.5-22.6.5-10.3.5 19 .5 18.9.5-10.4.5-20.8.5 1.5.5 20.5.5 6.2.5-18.6.5-15.1.5 11.4.5 21.6.5-5.2.5-19.9.5-1.7.5 16.2.5 10 .5-11.4.5-14.5.5 4.6.5 17.2.5.4.5-17.1.5-5.9.5 11.1.5 10.7.5-5.3.5-13.5.5.9.5 15.9.5 5.5.5-14.4.5-11.7.5 8.8.5 15.1.5-3.3.5-18.1.5-3.3.5 17.2.5 11.6.5-12.1.5-16.3.5 6.4.5 19.5.5.9.5-20.3.5-10 .5 15.2.5 16.5.5-9 .5-22.2.5 2.2.5 24.7.5 8.2.5-19.9.5-16.6.5 13.3.5 19.4.5-5.7.5-20.7.5-4.3.5 18.3.5 11.9.5-12.7.5-15.6.5 7.6.5 16.2.5.2.5-14.2.5-9.9.5 13.3.5 15.3.5-10.2.5-17 .5 2.1.5 16.1.5 5.7.5-12.5.5-10.4.5 9.1.5 14.5.5-3.4.5-17.8.5-4.4.5 15.9.5 9.8.5-11.7.5-13.2.5 6.3.5 14.9.5 2.1.5-15 .5-8.4.5 13.2.5 11.2.5-7.7.5-15 .5.4.5 15.7.5 5.4.5-12.6.5-8.8.5 8.4.5 14.3.5-2.8.5-16.3.5-3.8.5 14.1.5 8.5.5-11.2.5-13.5.5 5.6.5 15.2.5 1 .5-12.5.5-6.1.5 10.9.5 13.1.5-8.1.5-17.5.5.4.5 17.2.5 5.3.5-14.6.5-11 .5 10 .5 17 .5-3 .5-17.7.5-3.6.5 15.9.5 8.9.5-12.2.5-11.3.5 4.1.5 11.2.5 1.6.5-11.7.5-6.7.5 12 .5 13.3.5-7.4.5-17 .5.6.5 17 .5 5.4.5-15.5.5-11.9.5 10.1.5 15.3.5-2.7.5-15.9.5-2.9.5 15.4.5 9.7.5-11.8.5-14.1.5 4.9.5 14.6.5 1.6.5-16.4.5-6.8.5 13 .5 12.2.5-5.9.5-16 .5 1.1.5 16.9.5 4.5.5-14.1.5-9.8.5 7.5.5 12.3.5-2.3.5-14.4.5-3.4.5 15.9.5 10.9.5-12 .5-14.2.5 5.3.5 15.4.5 1.5.5-18.1.5-8.1.5 13.5.5 13.6.5-7.2.5-15.6.5 1.7.5 18 .5 8.1.5-18.5.5-16.8.5 12.9.5 19.3.5-5.6.5-19.5.5-3.4.5 17.5.5 11.5.5-12.3.5-13.6.5 6 .5 14.6.5 1 .5-15.6.5-8.7.5 12.8.5 13 .5-8 .5-14.7.5 1.8.5 15.1.5 6 .5-13.2.5-10.6.5 9.1.5 11.9.5-3 .5-14.9.5-3.6.5 13.7.5 9.6.5-10.3.5-14.6.5 7 .5 16.6.5 1.3.5-15.9.5-10.7.5 14.9.5 16.2.5-10.7.5-21.7.5 1.1.5 23.6.5 8.6.5-18.9.5-13.7.5 12.7.5 19 .5-4.3.5-23.1.5-6.7.5 21.6.5 12.8.5-16.2.5-18.1.5 7.9.5 22.8.5 2.8.5-21.7.5-9.4.5 16.4.5 14.3.5-9.7.5-18.6.5 1.6.5 15.5.5 4.6.5-11.5.5-9.5.5 9.1.5 15.3.5-2.6.5-17.5.5-3.3.5 14.1.5 6.8.5-9.7.5-9.5.5 3.5.5 11.9.5 2.5.5-13.5.5-6.1.5 11.4.5 9.4.5-6 .5-10.4.5 1.3.5 7.1.5 1.5.5-5.3.5-5.1.5 4.3.5 9 .5-1.1.5-10.7.5-2.5.5 10.7.5 6.7.5-8.5.5-11 .5 3.6.5 12.2.5.5.5-11.1.5-5.1.5 9.6.5 10.6.5-5.5.5-14 .5.4.5 14.7.5 3.5.5-12.1.5-9.5.5 7.3.5 14.2.5-2.9.5-14 .5-1.5.5 11.7.5 6.5.5-7.8.5-9.5.5 3 .5 10.3.5.6.5-11.1.5-4.6.5 8.5.5 8.3.5-4.1.5-9.8.5.8.5 10.6.5 3.6.5-9.9.5-7.5.5 5.8.5 8 .5-2 .5-8.3.5-2.1.5 9.3.5 6.9.5-7.4.5-8.4.5 3.3.5 8.9.5.5.5-9.8.5-5.2.5 7.8.5 7.3.5-4 .5-9.2.5.3.5 12.4.5 4.5.5-10.8.5-9.3.5 6.9.5 12 .5-3.2.5-14.3.5-3.5.5 14 .5 9.2.5-9.8.5-11.6.5 5.1.5 13.6.5.6.5-13.4.5-7.2.5 10.3.5 10.8.5-6.9.5-12.8.5 1.2.5 13.8.5 4.9.5-10.9.5-7 .5 6.4.5 7.8.5-1.7.5-10.8.5-2.7.5 9.8.5 5.8.5-6.8.5-7 .5 3.4.5 8.1.5.7.5-7.6.5-3.4.5 5.4.5 4.4.5-3 .5-6 .5.2.5 6.4.5 2.2.5-5.1.5-4 .5 3.6.5 5.8.5-1.2.5-6.7.5-1.8.5 6.1.5 4.5.5-5.6.5-7.6.5 3 .5 9.8.5 1.3.5-9.5.5-5.5.5 9.1.5 9.7.5-6.5.5-12.2.5-.1.5 12.5.5 4.6.5-11.5.5-9.3.5 8.5.5 16.3.5-2.3.5-19 .5-3.9.5 16.7.5 11 .5-14.1.5-18.3.5 6.9.5 19.9.5 1.6.5-17.8.5-7.3.5 14.3.5 10.8.5-6.9.5-11.4.5.2.5 10.8.5 3.9.5-10.7.5-7.6.5 6.8.5 9.6.5-1.8.5-9 .5-1.9.5 8.9.5 5.8.5-7.3.5-8.5.5 3.2.5 7.4.5-.1.5-6.1.5-3 .5 5.5.5 6.3.5-3.1.5-8.5.5-.2.5 10.7.5 3.5.5-10.2.5-7.7.5 6.1.5 9.4.5-1.9.5-9.7.5-1.6.5 9.4.5 5.5.5-6.3.5-7.9.5 2.9.5 7.4.5.4.5-8.3.5-4.8.5 7.7.5 8 .5-4.5.5-8 .5 1 .5 7.7.5 1.9.5-5.9.5-4.4.5 3 .5 6.2.5-1.6.5-6.8.5-1 .5 6.1.5 4.4.5-4.5.5-6.5.5 2.7.5 6.7.5-.4.5-5.7.5-3.1.5 4.4" stroke="#009e73" stroke-width="1.15" fill="none" stroke-linejoin="round" clip-path="url(#cTR)"/><path d="M1234 269.5l.5-8.4.5 21.4.5 8.9.5-19.8.5-6.2.5 17 .5 5.8.5-15.1.5-5.6.5 12.8.5 4.6.5-11.9.5-4.6.5 11.8.5 4.4.5-10.2.5-4.3.5 10.5.5 4.9.5-12.2.5-5.5.5 12.4.5 5.2.5-12.6.5-5.7.5 14.8.5 8.1.5-18 .5-9.4.5 21.1.5 8.6.5-22.1.5-8.2.5 20.2.5 8.8.5-19.7.5-7.2.5 19.7.5 9.7.5-22.8.5-11.4.5 24.7.5 8.7.5-23.1.5-7.9.5 20.9.5 9.6.5-20.7.5-8.9.5 22.3.5 10.1.5-25.2.5-10.4.5 23.6.5 9.6.5-23.3.5-8.5.5 23 .5 9.6.5-22.1.5-9.9.5 22.9.5 8.3.5-22.2.5-8.1.5 19.5.5 8 .5-18.3.5-6.4.5 17.3.5 5.9.5-14.7.5-5.1.5 11.9.5 4.9.5-12.5.5-4.8.5 12 .5 4.6.5-10.5.5-4.7.5 11.9.5 6.4.5-15.2.5-7.8.5 17.1.5 8.2.5-19.7.5-8.4.5 21.4.5 10.2.5-22.8.5-10.9.5 25.5.5 9.6.5-25.3.5-10 .5 23.2.5 10.9.5-25.2.5-12 .5 30.2.5 12.4.5-29.2.5-11.4.5 26.6.5 11.3.5-29.2.5-12.1.5 28.9.5 10.8.5-24.6.5-9.1.5 24.4.5 10.6.5-25.8.5-9.8.5 22.5.5 9.6.5-23.8.5-9 .5 23.2.5 8.2.5-18.9.5-7 .5 17.3.5 6 .5-16.3.5-7.3.5 16.3.5 8 .5-18.3.5-6.7.5 17.8.5 5.6.5-13.8.5-4.3.5 10.8.5 4.5.5-11.9.5-5.6.5 12.9.5 5.8.5-13.4.5-7.3.5 18.3.5 10.7.5-24 .5-9.8.5 22.8.5 9.8.5-25 .5-11.1.5 26.9.5 10.7.5-24.4.5-11.5.5 28.1.5 12.7.5-31.8.5-15.1.5 33.4.5 14.9.5-35.4.5-12.3.5 33.5.5 15 .5-34.3.5-18.2.5 41.4.5 17.6.5-44.6.5-16.3.5 39.3.5 14.2.5-34 .5-11.6.5 31.6.5 12.7.5-30.5.5-13.2.5 29.6.5 10.2.5-27.8.5-10.9.5 27.2.5 13.5.5-29.1.5-10.8.5 28 .5 9.1.5-24.7.5-11.9.5 25.6.5 9.7.5-24.5.5-8 .5 21.8.5 9.1.5-20.4.5-7.7.5 18.7.5 6 .5-16.7.5-6.5.5 15 .5 8.5.5-19.3.5-10.9.5 26.4.5 11.8.5-27.2.5-10.3.5 24.5.5 10.4.5-27.1.5-12.6.5 29.1.5 11.4.5-26.5.5-10.4.5 27 .5 10.9.5-26.9.5-10.8.5 24.2.5 10.6.5-26.9.5-12.4.5 30.7.5 14.6.5-32.1.5-14.7.5 35.7.5 16.2.5-41.3.5-21.3.5 46.5.5 19.3.5-46.1.5-14.7.5 40.6.5 15.8.5-36.8.5-16.1.5 36.9.5 13.6.5-36.5.5-13.1.5 31.8.5 12.9.5-29.2.5-10.3.5 27.9.5 10.1.5-25.3.5-9.6.5 21.4.5 6.4.5-18.1.5-6.6.5 16.9.5 7.4.5-16.3.5-7 .5 17.7.5 8.6.5-21.3.5-10.7.5 23.6.5 12.3.5-28.8.5-11.8.5 30.1.5 11.3.5-26.2.5-11.1.5 26 .5 12 .5-29.2.5-13.6.5 28.8.5 12.9.5-26.7.5-12 .5 27.2.5 16.1.5-30 .5-16.9.5 29.3.5 16.2.5-29.7.5-17.7.5 28.5.5 16.2.5-23.2.5-17.9.5 25.9.5 22.3.5-29 .5-22.7.5 25.4.5 22.6.5-25 .5-24.6.5 25.1.5 28.8.5-24.4.5-25.8.5 20.7.5 22.7.5-17 .5-23.3.5 14 .5 20.2.5-10.8.5-16.7.5 8.6.5 15.3.5-5.4.5-15.4.5 4.1.5 16.1.5-4 .5-16.3.5 2.9.5 13.7.5.1.5-14.9.5-.5.5 17.3.5 1.8.5-17.3.5-3.9.5 17.1.5 6.6.5-21.5.5-9.9.5 24.5.5 13.1.5-23.4.5-16.5.5 25.5.5 22.7.5-28.7.5-28.1.5 26 .5 30.6.5-24 .5-34.3.5 21.4.5 48.7.5-20.9.5-55 .5 18.1.5 53.2.5-11.4.5-56.5.5 3.6.5 55.7.5 3.3.5-52.5.5-7.1.5 49 .5 13.4.5-43.1.5-19.6.5 37.9.5 20.2.5-32.2.5-24.2.5 27.1.5 27.1.5-20.9.5-25.1.5 15.1.5 28.6.5-11.9.5-30.7.5 6.6.5 30.2.5 2.2.5-28.3.5-7.8.5 27.1.5 26.3.5-10.8.5-29.6.5-2.1.5 27.9.5-15.2.5-48.5.5-79.8.5-67.5.5 23.1.5 43.4.5 14 .5-28 .5-36.6.5-3.9.5 39.8.5 42.6.5-7 .5-42.6.5-27.3.5 10.6.5 80.1.5 66.3.5 18.9.5-7 .5-12.3.5 34.4.5 34.3.5-10.8.5-43.9.5-6.4.5 36.5.5 24.5.5-58.6.5-79 .5-53.2.5-12.9.5 35.9.5 1.9.5-36.9.5-32.6.5 9.1.5 40.4.5 28.4.5-12.3.5-38.4.5-17.9.5 66.1.5 83.7.5 55.9.5 7.6.5-46.6.5-.3.5 37 .5 18.6.5-29 .5-27.9.5 14.3.5 26.7.5.1.5-22.5.5-12.7.5 14.7.5 22.6.5-1.1.5-68.9.5-63.5.5-26.1.5-3 .5 20.8.5-22.6.5-45.2.5-9.1.5 42.4.5 45.6.5.5.5-47.9.5-40.4.5 12.5.5 38.4.5 21.9.5-15.8.5-51.4.5-27.9.5 40.9.5 104.2.5 58.5.5 1.3.5-9.4.5 4.2.5 50.8.5 24.1.5-34 .5-49.8.5 5.3.5 44.7.5 5.3.5-41 .5-20.3.5 35.1.5 33.4.5-14.5.5-32.7.5-5 .5 27.7.5 20 .5-18.3.5-32.7.5-4 .5 27.5.5 22 .5-48.6.5-68.5.5-52 .5-17 .5 36.6.5 10.1.5-32.1.5-35.8.5.3.5 31.8.5 28.1.5-10.4.5-42.1.5-25.7.5 19.9.5 46.4.5 67 .5 14.9.5.9.5 36.1.5 36.4.5 31.2.5-18 .5-39.1.5-10.6.5 20.5.5 16.9.5-13.1.5-71.1.5-48.9.5-6.2.5-5.2.5-4.4.5-27.3.5-22.7.5 7.1.5 30.4.5 17 .5-12.5.5-32.2.5-22.6.5 15 .5 37.6.5 17.8.5-17.2.5-28.9.5-12.1.5 17.2.5 25.6.5 9.7.5-10.6.5-20.9.5-12 .5 11.2.5 25.2.5 9.6.5-18.6.5-27.8.5-6.7.5 19.9.5 23.3.5 5 .5-17.6.5-17 .5 2.5.5 16.5.5 17 .5-3.1.5-21.5.5-12.5.5 7.3.5 15.7.5 7.3.5-9.1.5-16.2.5-4.1.5 14.4.5 14.7.5-.3.5-13.2.5-10.7.5 5.6.5 15.4.5 7.2.5-11 .5-17.5.5-2.1.5 15.5.5 13.3.5-4.8.5-17.3.5-7.2.5 13.3.5 17.1.5-.2.5-15.2.5-10.5.5 6.4.5 17.6.5 4.9.5-17.9.5-16 .5 5.6.5 18.2.5 8.4.5-12.3.5-15.1.5 2.7.5 15.9.5 9.6.5-9 .5-17.2.5-3.2.5 16.3.5 13.5.5-9.3.5-20 .5-5.3.5 18.3.5 20.3.5-6.5.5-24.3.5-7.7.5 19.1.5 20 .5-6.4.5-22.9.5-8.3.5 13.1.5 14.3.5-1.5.5-18.5.5-12.9.5 17.6.5 26.9.5-2.3.5-26.3.5-13.9.5 16.7.5 24.5.5-2.9.5-28.1.5-15.9.5 18.5.5 23.7.5-2 .5-22.3.5-11.8.5 16.9.5 20.8.5-3.7.5-19 .5-8.7.5 11.4.5 16.1.5-3.7.5-18.3.5-5.6.5 11.8.5 11.5.5-3 .5-11.3.5-3.4.5 9.5.5 10.3.5-4.7.5-14.3.5-2.9.5 11.2.5 7.5.5-5.7.5-10.6.5-.9.5 12.2.5 9 .5-8.4.5-13.9.5 1.5.5 16.2.5 7 .5-14.3.5-16.3.5 5.2.5 21.5.5 5.7.5-21.1.5-15.2.5 14 .5 22.3.5-1.5.5-20.8.5-9.7.5 14.8.5 16.8.5-7.9.5-20.8.5-3.5.5 18.5.5 15.2.5-12.3.5-22.9.5 5.1.5 24.3.5 8.1.5-20.3.5-17.7.5 10.9.5 19 .5-1 .5-18.7.5-6.8.5 13.9.5 13.8.5-5.7.5-17.6.5-.3.5 16.3.5 5.7.5-10.8.5-9.6.5 4.2.5 9.9.5.4.5-9 .5-4.2.5 7.6.5 8.4.5-4.1.5-9.2.5.1.5 8.3.5 4 .5-8.3.5-9.5.5 5.6.5 13.4.5-.7.5-15.1.5-5.4.5 16.2.5 12.9.5-12 .5-17.4.5 3.9.5 18.7.5 2.6.5-18.3.5-8.4.5 12.3.5 12.3.5-4.5.5-13.1.5.1.5 13.1.5 5.2.5-11.1.5-10.9.5 6 .5 13.6.5-.8.5-16.8.5-4.6.5 15.9.5 11.1.5-9.3.5-15.8.5 3.5.5 19.4.5 2.5.5-19.3.5-11 .5 13.6.5 16.4.5-6.5.5-20 .5.3.5 20.4.5 7.6.5-14.8.5-10.4.5 6.9.5 9.6.5-1.2.5-11.5.5-3.3.5 10.1.5 6.6.5-5.6.5-8 .5 2.3.5 9.7.5 1.4.5-9.2.5-4.7.5 5.7.5 6.4.5-3.1.5-8 .5-.5.5 9.7.5 6.6.5-10.1.5-12.4.5 8.3.5 14.3.5-2.9.5-13 .5-4 .5 10.6.5 10.5.5-9 .5-15.6.5 5.4.5 16.5.5 2.8.5-14.4.5-9.1.5 11 .5 13.8.5-6.6.5-19 .5-.7.5 18.9.5 8.4.5-14.6.5-12.5.5 9.3.5 16.5.5-1.6.5-18.6.5-6.1.5 15.7.5 11.6.5-11.5.5-15 .5 5.3.5 14.2.5 2.9.5-12.4.5-6.9.5 9.6.5 8.3.5-4.5.5-9.1.5-.5.5 8.1.5 3.9.5-7 .5-7.5.5 5.5.5 9.1.5-1.6.5-7.2.5-2.3.5 6.1.5 4.9.5-5 .5-7.9.5 1.5.5 10 .5 1.8.5-9.1.5-4.8.5 7 .5 7.3.5-2.9.5-9.9.5-1.2.5 10.7.5 4.3.5-9.1.5-8.2.5 5.4.5 11.6.5-.5.5-13 .5-4.4.5 13 .5 9 .5-9.1.5-12.6.5 2.8.5 13.5.5 2.2.5-13.1.5-8.2.5 11.3.5 13.2.5-5.7.5-13.1.5.1.5 11.5.5 5 .5-10.5.5-10.5.5 6.5.5 12.8.5-1.8.5-11.6.5-2.9.5 10.2.5 7.1.5-6.6.5-9.2.5 2.3.5 9 .5.8.5-7.8.5-4.5.5 5.9.5 6.8.5-2.9.5-7.2.5.3.5 6.5.5 2.2.5-4.7.5-5.1.5 2.7.5 7.6.5-.7.5-9.2.5-2.8.5 8.6.5 6.7.5-5.8.5-8 .5 2.6.5 7.8.5 1.5.5-8.6.5-7.2.5 8.2.5 11.5.5-4.9.5-14.3.5.1.5 14.2.5 5.3.5-10 .5-10.4.5 5.9.5 16.1.5-1.5.5-19.8.5-4.8.5 15.5.5 9.7.5-8.6.5-12.9.5 3.6.5 16 .5 2.1.5-14.3.5-7.5.5 9.3.5 10.6.5-5 .5-13.7.5-.6.5 14.8.5 6.3.5-11.3.5-8.7.5 6.2.5 9.7.5-1.6.5-9.4.5-2.2.5 6.7.5 5.1.5-4.7.5-7.1.5 2.5.5 7 .5.5.5-5 .5-2.9.5 3.7.5 5.1.5-2.3.5-7.8.5-1 .5 9.2.5 4.8.5-8.4.5-8 .5 5.5.5 12.2.5-.5.5-15.2.5-5.7.5 14.5.5 9.6.5-10.1.5-10.6.5 3.4.5 10 .5 2.1.5-9 .5-6.1.5 8.2.5 10.2.5-4.6.5-13.7.5-1.1.5 13.9.5 6.3.5-12.1.5-13 .5 9 .5 16.5.5-2.3.5-14.9.5-5.5.5 14.4.5 11.7.5-11.6.5-15.4.5 4.6.5 14.5.5 2.6.5-13.4.5-7.4.5 10.6.5 10.4.5-4.9.5-10.9.5-.1.5 9.4.5 3.2.5-7 .5-5.8.5 3.8.5 7.3.5-1 .5-6.6.5-1.2.5 4.9.5 3.2.5-3 .5-5.5.5 1 .5 6.8.5 1.4.5-7.4.5-4.9.5 6.5.5 7.7.5-3.2.5-9 .5-1 .5 10.9.5 5.5.5-10.6.5-10.5.5 6.5.5 12.8.5-1.5.5-13.3.5-4 .5 12.6.5 9.7.5-8.6.5-14 .5 3.4.5 15.7.5 2.2.5-15.3.5-9.6.5 12.1.5 13.4.5-6.5.5-11.5.5.2.5 11.3.5 6.3.5-11.1.5-8.8.5 5.8.5 8.4.5-.8.5-10.2.5-3.7.5 10.4.5 7.2.5-6.5.5-8.6.5 2.2.5 10.4.5 1.6.5-10.2.5-5.5.5 6.9.5 6.9.5-3.4.5-6.9.5.1.5 6.7.5 3.5.5-5.9.5-6 .5 4 .5 7.2.5-1.1.5-7.8.5-2.5.5 6.8.5 4.9.5-4.4.5-7.1.5 1.9.5 9.4.5 2.2.5-9.9.5-6.7.5 8 .5 10.5.5-5.3.5-12.3.5-.8.5 13.1.5 6.6.5-11.3.5-9.9.5 6.9.5 13.1.5-1.6.5-14.2.5-3.8.5 11 .5 8.3.5-7.7.5-13.6.5 3.8.5 16.2.5 2.6.5-14.2.5-8.3.5 10.9.5 11.3.5-5.8.5-12.7.5-.6.5 12.1.5 5.5.5-10 .5-8.7.5 6.3.5 10.3.5-1.6.5-9.1.5-2.4.5 7 .5 4.7.5-4.8.5-6.2.5 1.9.5 5.8.5.8.5-4.7.5-2.8.5 3.8.5 4.6.5-2 .5-6.2.5-.8.5 7.1.5 3.6.5-6.8.5-5.8.5 4.1.5 7 .5-.5.5-7.2.5-2.6.5 7.2.5 5.9.5-5.7.5-9.7.5 2.1.5 11.3.5 2.4.5-11.5.5-5.8.5 8.5.5 9.7.5-3.9.5-12 .5-.9.5 12.6.5 5.1.5-10.7.5-9.3.5 5.9.5 11.7.5-1.3.5-11.7.5-4.2.5 12 .5 8.5.5-8.4.5-9.8.5 2.4.5 9.8.5 1.2.5-9.1.5-5.6.5 7.3.5 8.5.5-3.9.5-7.8.5.4.5 6.5.5 2.7.5-5.5.5-5.3.5 3.4.5 5.5.5-.8.5-5.3.5-1.4.5 4.6.5 2.9.5-2.6.5-3.9.5.9.5 4.8.5.9.5-5.4.5-4 .5 4.8.5 6.2.5-2.9.5-6.5.5.2.5 6.1.5 2.7.5-4.9.5-5.3.5 3.2.5 6.5.5-1 .5-7.1.5-2.2.5 6.4.5 4.9.5-4.3.5-6.5.5 1.6.5 9 .5 2.6.5-10.9.5-6.9.5 8.6.5 8.9.5-4.3.5-10.3.5.1.5 9.8.5 3.3.5-6.4.5-6.1.5 3.9.5 8 .5-1.2.5-8.6.5-2.8.5 7.3.5 5.3.5-4.9.5-6.9.5 1.7.5 9.3.5 1.7.5-9 .5-5.1.5 6.5.5 6.2.5-3.3.5-6 .5.2.5 4.8.5 1.8.5-3.3.5-3.4.5 2.2.5 5.5.5-.3.5-6.8.5-2 .5 5.6.5 4.2.5-4 .5-6.9.5 2 .5 7.8.5 1.6.5-7.5.5-5.5.5 7.1.5 7.8.5-4 .5-9 .5-1 .5 9.5.5 4.4.5-8.3.5-8.7.5 5.7.5 14 .5-.9.5-15.8.5-4.9.5 13.9.5 10.4.5-10.3.5-14.7.5 4.5.5 13.7.5 1.8.5-11.2.5-6.4.5 9.1.5 9.4.5-4.1.5-11.8.5-.9.5 12 .5 5.1.5-10.2.5-8.8.5 6.2.5 9.5.5-1.3.5-8.1.5-2.1.5 6.8.5 4.6.5-4.7.5-5.9.5 1.5.5 5.8.5 1 .5-5.4.5-2.7.5 3.8.5 4.5.5-1.7.5-5.7.5-.2.5 5.7.5 2.4.5-5 .5-5 .5 3 .5 6.7.5-.5.5-7.4.5-2.3.5 7.2.5 6.1.5-5.3.5-9.3.5 2.2.5 10.3.5 1.5.5-10.2.5-6.4.5 8.2.5 9.5.5-3.9.5-10.7.5 0 .5 10.7.5 4.7.5-9.1.5-8.3.5 5.2.5 9.4.5-.9.5-10.9.5-3.2.5 10 .5 6.5.5-5.8.5-8 .5 2 .5 9.2.5 1.4.5-9" stroke="#56b4e9" stroke-width="1.15" fill="none" stroke-linejoin="round" clip-path="url(#cTR)"/><path d="M1234 279.2l.5 12.3.5 11.3.5-10.6.5-10.7.5 10.8.5 10.6.5-10.6.5-9.6.5 9.1.5 7.6.5-7.6.5-6.2.5 6.3.5 5.8.5-5.5.5-6.6.5 6.6.5 7.5.5-7.6.5-7.7.5 7.3.5 7.6.5-7.5.5-6.5.5 6.8.5 6.8.5-6.4.5-10.3.5 9.9.5 13.1.5-13.4.5-11.9.5 11.5.5 11.5.5-10.8.5-13.2.5 13.6.5 16.8.5-16.6.5-19.5.5 18.5.5 19.9.5-20.2.5-20.3.5 20.4.5 19.8.5-18.7.5-17.7.5 17.8.5 19.7.5-20.1.5-19.7.5 18.7.5 16.3.5-16.1.5-14.1.5 14.6.5 15.9.5-15.1.5-17 .5 16.5.5 14.6.5-15.1.5-12.8.5 12.4.5 12.9.5-12.3.5-11.4.5 11.7.5 10.5.5-10.3.5-9.4.5 8.9.5 7.6.5-7.8.5-7.4.5 7.4.5 8.3.5-7.9.5-8.1.5 8.2.5 8.5.5-8.5.5-9.6.5 8.9.5 10.5.5-10.5.5-13.1.5 13.4.5 16.8.5-15.9.5-17.6.5 17.3.5 16.1.5-16.7.5-18.4.5 17.4.5 21.4.5-20.7.5-20.5.5 21.4.5 20.7.5-19.9.5-21.1.5 19.9.5 26.6.5-27.3.5-29.6.5 29.1.5 22.1.5-20.7.5-17.2.5 17.7.5 20.3.5-20.3.5-19.9.5 18.6.5 16.7.5-16.8.5-15.3.5 15.6.5 16.3.5-15.4.5-13.9.5 13.8.5 10.6.5-11 .5-10.7.5 10.2.5 8.9.5-8.7.5-6.8.5 7.1.5 7.1.5-6.8.5-6.6.5 6.3.5 6.2.5-6.4.5-7.6.5 7.4.5 8.7.5-8.3.5-10 .5 10.2.5 11.6.5-11.4.5-13.6.5 12.9.5 18.1.5-18.4.5-21.2.5 21.1.5 20.3.5-19.1.5-19 .5 19.2.5 21.4.5-21.7.5-24.8.5 23.3.5 23.6.5-23.4.5-19.8.5 20.6.5 20.6.5-19.4.5-23.9.5 23.3.5 24.7.5-25.5.5-25 .5 24 .5 23.2.5-22.2.5-22 .5 22.8.5 22.5.5-22 .5-20.8.5 19.6.5 20.1.5-20.6.5-19.6.5 19.5.5 18.7.5-17.6.5-16.7.5 16.8.5 14.9.5-15 .5-13.5.5 12.8.5 11.6.5-11.5.5-9.9.5 10 .5 8.7.5-8.3.5-7.2.5 7.1.5 6.7.5-6.9.5-6.3.5 6 .5 6.8.5-6.6.5-9.9.5 10.2.5 13.4.5-12.9.5-16.4.5 15.8.5 19.1.5-19.6.5-19 .5 18.6.5 19.9.5-18.9.5-20.5.5 21 .5 20.8.5-20.7.5-20.6.5 19.3.5 18.5.5-18.8.5-21.1.5 21.4.5 24.5.5-23.2.5-19.7.5 19.7.5 16.9.5-17.5.5-17.7.5 16.7.5 16.3.5-16 .5-18.2.5 18.8.5 16.6.5-15.9.5-15.1.5 14.6.5 14.7.5-15.2.5-14.3.5 13.8.5 14.6.5-13.9.5-13.4.5 13.8.5 12.4.5-12.3.5-10.6.5 10 .5 8.5.5-8.7.5-8.1.5 8.2.5 7.8.5-7.4.5-8.7.5 8.8.5 10.9.5-11 .5-12.1.5 11.5.5 13.3.5-13.3.5-13.6.5 13.9.5 12.8.5-12 .5-12.8.5 12.5.5 14.4.5-14.9.5-17.9.5 17.1.5 18.4.5-17.7.5-21.8.5 22.4.5 25.9.5-25.2.5-25.5.5 24.3.5 25.3.5-25.9.5-26 .5 25.7.5 22.7.5-21.3.5-21.1.5 21.6.5 26.4.5-26.5.5-28.8.5 27.3.5 26.7.5-26.7.5-24 .5 24.4.5 19.7.5-18.6.5-17.4.5 17.1.5 18.8.5-19.2.5-16.6.5 15.9.5 12.5.5-12.1.5-10.4.5 10.7.5 9.7.5-9.4.5-8.1.5 7.8.5 7.1.5-7.3.5-5.4.5 5.3.5 4.7.5-4.4.5-6.7.5 6.9.5 10 .5-9.9.5-11.9.5 11.3.5 11 .5-11.2.5-11.8.5 11.8.5 16.1.5-15.1.5-19.5.5 19.5.5 21.6.5-21.9.5-20.5.5 19.3.5 20.8.5-20.5.5-26.2.5 26.8.5 29 .5-27.7.5-31 .5 30.1.5 30.1.5-30.9.5-24.7.5 23.9.5 26 .5-24.8.5-24.6.5 25.2.5 20.9.5-20.5.5-20.1.5 18.9.5 21.3.5-21.7.5-18.9.5 18.9.5 16.9.5-15.9.5-15.6.5 15.7.5 14.9.5-15.1.5-12.5.5 11.8.5 10.4.5-10.3.5-8.6.5 8.9.5 7.3.5-6.9.5-5.7.5 5.5.5 6.2.5-6.4.5-7.9.5 7.6.5 8.7.5-8.5.5-9.3.5 9.6.5 9.6.5-9.2.5-11.5.5 10.9.5 15.7.5-16 .5-18.6.5 18.2.5 17.5.5-16.5.5-16.9.5 17.3.5 22 .5-21.9.5-23.8.5 22.4.5 22.4.5-22.6.5-27.6.5 27.8.5 34 .5-31.6.5-34.7.5 32.3.5 34.8.5-31.3.5-32.4.5 24.6.5 27.1.5-18.2.5-30.6.5 19.1.5 35.6.5-17 .5-34.8.5 11.8.5 37.7.5-11.2.5-36.5.5 6.2.5 30.5.5 1.3.5-31.5.5-4.7.5 33.9.5 7.9.5-28.8.5-11.6.5 22.1.5 12.2.5-17.1.5-15.5.5 13.9.5 18.7.5-9.3.5-21.3.5 6 .5 24.8.5-1.4.5-26.6.5-5 .5 23.8.5 9.1.5-19.9.5-15.3.5 18.1.5 21.7.5-12 .5-26.4.5 5.4.5 30.9.5-1.9.5-39.6.5-28.7.5 14.7.5 25.1.5-1.7.5-26.9.5-28.8.5-31 .5-9.4.5-6.8.5-24.1.5-46.7.5-17.2.5-6.5.5 23.5.5 32.7.5 21.3.5-18.2.5-48 .5-35.3.5 4.6.5 41.4.5 39.4.5 1.1.5-32.7.5-40.6.5-9.7.5 41.1.5 51.1.5 4.4.5-38.1.5-38.6.5-8.4.5 25.3.5 34.5.5 7.7.5-32.7.5-38.8.5 1.7.5 38.1.5 30.5.5-3.5.5-30.7.5-23.7.5 12.1.5 28.7.5 11.3.5-16.2.5-27.9.5-6.2.5 21.1.5 21.4.5-3 .5-22.6.5-11.2.5 13.4.5 18.6.5 2.2.5-14.5.5-13.4.5 4.5.5 17.8.5 6 .5-15.7.5-17.6.5 3 .5 22.1.5 11 .5-15.2.5-19.9.5 1.4.5 27.9.5 16.1.5-21.8.5-31.6.5 1.4.5 34.9.5 17.8.5-27.8.5-34.7.5 8.3.5 40.6.5 15.4.5-29.7.5-28.5.5 13.2.5 30.7.5 4.3.5-26.7.5-18.9.5 14.9.5 22.3.5-2.6.5-19.6.5-6.2.5 14.2.5 11.7.5-5.8.5-13.1.5-1.3.5 12.9.5 6.9.5-11.7.5-11.1.5 5.4.5 13 .5.7.5-13.4.5-5.2.5 11.7.5 9.5.5-6.9.5-11.9.5 1.5.5 11.7.5 3.3.5-11.1.5-7.2.5 7.7.5 8.7.5-2.2.5-9.3.5-1.9.5 10.5.5 6.7.5-9.5.5-11 .5 4.7.5 13.1.5 1.1.5-15.8.5-7 .5 15 .5 15.1.5-9.3.5-20.6.5 2.9.5 21 .5 4.3.5-18.3.5-14.7.5 13.2.5 21 .5-6.4.5-21.1.5-3.4.5 23.3.5 14.6.5-19.6.5-20.5.5 9.6.5 20.9.5.5.5-24.5.5-11.3.5 22.4.5 20.3.5-12.9.5-24.4.5 4.6.5 24.5.5 5.3.5-20.3.5-13.5.5 12.2.5 17.6.5-5 .5-22.2.5-3.5.5 23.5.5 13.1.5-16.9.5-18.4.5 9.3.5 19.3.5-1.1.5-19 .5-9.2.5 16.4.5 18.5.5-9.5.5-24 .5-2.9.5 28.6.5 30.5.5-12.7.5-42.3.5-15 .5 27.4.5 37.5.5 8.7.5-33.6.5-43.9.5-2 .5 32.6.5 33.9.5 10.9.5-26.6.5-41.3.5-7.9.5 40.4.5 45.6.5 4 .5-36.5.5-39 .5-6 .5 26.5.5 31.8.5 6.1.5-29.9.5-42.3.5-7.6.5 39.5.5 42.1.5 5.3.5-27.7.5-31.3.5-5.5.5 28.1.5 35.4.5 7.9.5-35.6.5-55.3.5-15.3.5 45.5.5 52.9.5 3.2.5-40 .5-42.2.5-5.1.5 46.7.5 45.7.5-9 .5-47 .5-27.6.5 19.9.5 34.3.5 2.4.5-28.4.5-21.3.5 10.4.5 27.6.5 7.8.5-23.4.5-23 .5 13.1.5 31.9.5 11.6.5-28.2.5-33.1.5 7.3.5 41 .5 26.3.5-24.5.5-48.7.5-15.4.5 31.3.5 48.6.5 22.8.5-32.5.5-49.3.5-12.6.5 35.4.5 47.8.5 14.7.5-35.7.5-56.6.5-18.9.5 35.2.5 47.9.5 18.3.5-34.5.5-64.5.5-22.8.5 53.7.5 71.4.5 20.2.5-40.9.5-65.6.5-24.8.5 47.2.5 70 .5 16.2.5-52.6.5-68.7.5-19.4.5 42.7.5 55.9.5 17.7.5-34.3.5-54.8.5-19 .5 47.3.5 66 .5 9.8.5-50.5.5-48.2.5 3.3.5 34.3.5 23.8.5-10.6.5-34.9.5-13.5.5 21.6.5 22.5.5-3.2.5-16.6.5-7 .5 8.3.5 11.9.5-.6.5-12.1.5-7.9.5 7.2.5 13 .5-.7.5-13.5.5-6.5.5 8.4.5 12.2.5-.4.5-12.8.5-7.9.5 9.9.5 16.2.5-2.6.5-19.6.5-8.4.5 13.1.5 17.2.5-3.2.5-22 .5-8.3.5 19.2.5 20.9.5-7.3.5-25 .5-5.8.5 19.1.5 17 .5-9.8.5-25.9.5-3.5.5 22.9.5 15.9.5-11.5.5-25.4.5-1 .5 29.7.5 16.3.5-20.1.5-29.9.5 4.9.5 29.2.5 8.7.5-20.7.5-19.6.5 8.2.5 25.6.5 5.9.5-21.2.5-14.5.5 11.1.5 21.6.5 1.2.5-25.5.5-14.8.5 18.2.5 21.4.5-6.4.5-20.1.5-4.4.5 15.2.5 13.3.5-7.4.5-16.6.5-1.1.5 15.1.5 7.9.5-10.6.5-13.4.5 2.1.5 16.5.5 6.2.5-15 .5-14.3.5 9.4.5 22.5.5.7.5-23.3.5-11.4.5 15.9.5 18.7.5-7.3.5-22.6.5-3 .5 19 .5 13.1.5-11 .5-21.5.5 3.6.5 24.9.5 6.1.5-19.5.5-16 .5 9.7.5 22.2.5-1.5.5-22.8.5-8 .5 17.7.5 18.2.5-8.3.5-26.8.5-3.1.5 31.9.5 14.9.5-26.4.5-24.8.5 12.7.5 24.7.5.1.5-20.1.5-8 .5 14.5.5 15.4.5-7.3.5-18.3.5-.7.5 16.5.5 6.9.5-12.9.5-12.3.5 6.8.5 15.1.5.1.5-14.5.5-4.7.5 10.9.5 8.7.5-6.4.5-9.5.5 1.4.5 7.8.5 2.8.5-7.8.5-6.7.5 6.1.5 12 .5-.6.5-15.7.5-5.9.5 15.6.5 12.6.5-7.6.5-17.6.5-3.4.5 15.2.5 11.1.5-6.6.5-14.6.5-3.7.5 14.8.5 15.9.5-3.9.5-18.8.5-11 .5 13.1.5 22.6.5-.2.5-26.6.5-19.7.5 13 .5 29.8.5 8.9.5-24.4.5-25.1.5 8.9.5 34.5.5 17.6.5-24.4.5-37.7.5-2.5.5 36.5.5 23.4.5-21.8.5-35.2.5.5.5 29.4.5 15.1.5-14.6.5-18.7.5 3.2.5 18.9.5 5.7.5-18.5.5-15.9.5 13.3.5 18.7.5-2.5.5-19.1.5-9.3.5 17.8.5 20.9.5-5.3.5-23 .5-10 .5 19 .5 26.5.5-5.8.5-35.6.5-19.4.5 22 .5 34.4.5 4.1.5-32.8.5-22.6.5 18 .5 30.8.5 9.4.5-23.8.5-29.1.5 5.6.5 29.4.5 13.2.5-19.3.5-26.2.5 0 .5 23.8.5 18.3.5-8.2.5-26.2.5-9.6.5 26.2.5 26.9.5-11.8.5-32.5.5-9.8.5 23.4.5 21.2.5-11.8.5-26 .5-1.9.5 25.3.5 15.2.5-17.8.5-22.9.5 9 .5 26.1.5.6.5-25.2.5-10.8.5 18.2.5 18.3.5-10.7.5-21.6.5 2.9.5 21.3.5 6.8.5-17.5.5-14.3.5 11.8.5 17.6.5-5.2.5-16.8.5-1.9.5 12.7.5 7.7.5-8.5.5-12.9.5 5 .5 17.8.5 1.2.5-18.1.5-8.7.5 13.9.5 14.8.5-8.7.5-22.1.5 1.6.5 24.4.5 7 .5-18.2.5-14.3.5 12.1.5 21.2.5-5.3.5-24.4.5-5.2.5 21.7.5 13.5.5-16.1.5-19.8.5 9 .5 22.4.5 1 .5-19.6.5-9.7.5 15.7.5 17.8.5-10.9.5-25.3.5 2.4.5 24 .5 5.5.5-16 .5-10.8.5 9.9.5 17 .5-3.8.5-19.4.5-4.6.5 18.1.5 12.8.5-15.7.5-18.4.5 7.9.5 20.6.5 1 .5-17.9.5-7.9.5 14.1.5 13.2.5-8.7.5-15.1.5 1.4.5 13.5.5 4 .5-11 .5-8.4.5 7.7.5 11.9.5-1.7.5-15.2.5-4.6.5 16.9.5 10.2.5-13.2.5-16.5.5 6.1.5 19.5.5 2 .5-19.9.5-10.6.5 18.7.5 19.8.5-11.7.5-24.5.5 1.5.5 24.3.5 8 .5-22.2.5-19.5.5 16.3.5 28.3.5-6.1.5-28.7.5-3.8.5 24.1.5 13.7.5-17 .5-23.4.5 8.4.5 26.3.5-.4.5-21.5.5-5.8.5 13.1.5 10.9.5-5.5.5-15.3.5.6.5 17.7.5 5.4.5-15.7.5-9.8.5 8.3.5 12.6.5-2.6.5-13.4.5-1.4.5 11.1.5 6.2.5-7.3.5-8.8.5 3.4.5 9.3.5.2.5-9 .5-4.4.5 7.4.5 7.8.5-4.4.5-10 .5.3.5 12.7.5 4.8.5-12.1.5-11.7.5 8.7.5 19.1.5-3.7.5-24.8.5-5.5.5 24.8.5 15.5.5-17.7.5-21.5.5 8.5.5 26.6.5.9.5-25.9.5-11 .5 18.1.5 19.3.5-11.7.5-22.7.5 2.4.5 24.3.5 8.5.5-20.7.5-16.3.5 13.5.5 22 .5-6 .5-23.8.5-3.2.5 18.5.5 8.8.5-10.5.5-13.8.5 5.5.5 19 .5 1.1.5-18.5.5-7.7.5 13.1.5 11.1.5-6.8.5-15.7.5 1.7.5 15.2.5 3 .5-9.3.5-6.9.5 6 .5 10.6.5-2.6.5-12.2.5-2.5.5 10.6.5 6 .5-7.5.5-9.5.5 3.8.5 12.7.5 1.3.5-12.6.5-7.2.5 11.5.5 13.1.5-8.1.5-18.6.5.9.5 19.6.5 6.4.5-16.3.5-12.3.5 11.3.5 19 .5-3.6.5-22.7.5-6.8.5 23.9.5 16.9.5-21.2.5-25.3.5 10 .5 30.9.5 3.1.5-29.9.5-11.5.5 22.3.5 20.8.5-12.7.5-27.8.5 2 .5 26.2.5 6.8.5-20.4.5-13.2.5 12.4.5 18.3.5-3.5.5-19.1.5-3 .5 16.4.5 10.3.5-13 .5-16.3.5 7.2.5 14.1.5-.1.5-10.5.5-3.8.5 7.8.5 6.7.5-3.7.5-9 .5.1.5 10 .5 2.6.5-8.2.5-5.8.5 4.8.5 8.5.5-1.5.5-9.6.5-1.6.5 9.2.5 5.8.5-6.8.5-11.4.5 3.3.5 16 .5 1.1.5-16.8.5-6.1.5 11.9.5 11.7.5-5.6.5-17.5.5.3.5 21.7.5 6.2.5-18.5.5-12.6.5 10.1.5 17.7.5-2.8.5-23.5.5-5.2.5 24.4.5 14.5.5-16.9.5-20.1.5 7.6.5 23.5.5 1.2.5-24.3.5-11.1.5 18.8.5 17 .5-9.9.5-19.9.5 1.8.5 21.3.5 4.6.5-14.9.5-9.4.5 7.5.5 12.4.5-3.5.5-13.2.5-2.2.5 11.7.5 7.3.5-8.1.5-9.9.5 4.3.5 10.8.5 0 .5-9.5.5-4.4.5 7 .5 7.5.5-4.7.5-9.3.5.5.5 11.5.5 5.5.5-11.7.5-10.4.5 8.7.5 15 .5-3.6.5-18.2.5-4.2.5 17.1.5 12.1.5-13.9.5-15.3.5 6.8.5 19.2.5 2.2.5-20.4.5-9.7.5 15.9.5 15.6.5-9.9.5-20.8.5 1.6.5 21.2.5 6 .5-15.8.5-13.1.5 11.5.5 19.2.5-5.2.5-19.1.5-2.9.5 14.3.5 8 .5-10.1.5-12.9.5 5.3.5 16.9.5 2.1.5-17.1.5-8 .5 13.9.5 12" stroke="#e69f00" stroke-width="1.15" fill="none" stroke-linejoin="round" clip-path="url(#cTR)"/><path d="M1234 296.6l.5-17.5.5 8.8.5 17.1.5-8.6.5-14.4.5 6.7.5 11.6.5-5.5.5-12.6.5 6.4.5 12.2.5-5.9.5-9.1.5 4.5.5 7.5.5-3.8.5-7.9.5 3.5.5 8.9.5-4.2.5-9.9.5 4.9.5 12.1.5-5.2.5-16.5.5 7.6.5 19.6.5-10 .5-19.8.5 9.3.5 19.9.5-8.8.5-22.6.5 11.3.5 24.9.5-12 .5-24.9.5 11.4.5 23.4.5-11.7.5-25 .5 11.8.5 30.7.5-13.9.5-32.6.5 16.1.5 32.3.5-16.2.5-31.7.5 14.3.5 32.3.5-15.4.5-34.4.5 17.6.5 33.2.5-16 .5-25.9.5 12.2.5 24.3.5-11.9.5-30.7.5 14.6.5 30.8.5-14.7.5-26.4.5 13.7.5 21.4.5-10.6.5-16.7.5 7.7.5 13.8.5-7.2.5-11.1.5 5.4.5 10 .5-4.6.5-8.5.5 4.3.5 7.1.5-3.4.5-7.3.5 3.3.5 7.5.5-3.7.5-8.3.5 4 .5 10.5.5-4.4.5-13.4.5 6.3.5 15.3.5-7.7.5-16.8.5 7.6.5 17.9.5-8.4.5-18.8.5 9.5.5 21.2.5-9.8.5-22.4.5 10.4.5 21.9.5-11.2.5-21.9.5 10.7.5 20.1.5-8.9.5-20.2.5 9.8.5 25.3.5-11.9.5-30.7.5 14.4.5 28.3.5-14.1.5-27.6.5 13.6.5 29.1.5-13.6.5-25.7.5 12.3.5 26 .5-12.9.5-28.4.5 13.2.5 26.7.5-13 .5-23.2.5 11.8.5 21.3.5-10.2.5-17.7.5 8.4.5 14.6.5-7.5.5-12.7.5 6.2.5 10.6.5-5.1.5-8 .5 4.1.5 7.2.5-3.2.5-9.3.5 4.1.5 11.1.5-5.5.5-12.6.5 6 .5 14.3.5-6.4.5-14.7.5 7.5.5 13.7.5-6.6.5-16 .5 6.9.5 19 .5-9 .5-23.1.5 11.3.5 27.8.5-13.3.5-24.4.5 11.5.5 23.8.5-11.8.5-27.5.5 13.4.5 23.1.5-10.7.5-21.4.5 10.3.5 29.2.5-13.5.5-34.4.5 16 .5 33.9.5-17.1.5-32.1.5 16 .5 26.9.5-12.3.5-23.4.5 12.1.5 19.3.5-9.8.5-15.9.5 7.1.5 14.4.5-7 .5-14.6.5 7.5.5 13.6.5-6.3.5-12.1.5 5.8.5 11.6.5-6 .5-10 .5 4.7.5 8.6.5-4 .5-8.3.5 4.2.5 8.6.5-3.7.5-11.4.5 5.1.5 13.7.5-7.3.5-12.2.5 5.6.5 13.7.5-5.7.5-18.6.5 9.5.5 20.6.5-10 .5-21.2.5 9.6.5 21.4.5-10.6.5-22.6.5 11.5.5 21.4.5-9.6.5-20.2.5 9.6.5 23.1.5-11 .5-30.4.5 14.1.5 30.9.5-15 .5-29.3.5 14.4.5 32.3.5-15.7.5-27.1.5 12.7.5 24.1.5-12.4.5-24.4.5 11.3.5 25.3.5-11.9.5-22.5.5 11.7.5 18.3.5-8.8.5-16.9.5 7.8.5 15.1.5-7.7.5-12.7.5 6.4.5 10.7.5-4.9.5-9.2.5 4.6.5 7.7.5-3.9.5-6.5.5 2.8.5 7 .5-3.2.5-9.4.5 4.6.5 11.6.5-5.2.5-13 .5 6 .5 15.3.5-7.5.5-18.9.5 8.7.5 20.6.5-9.7.5-20.2.5 10.2.5 21.5.5-10 .5-23.3.5 10.8.5 23.5.5-11.7.5-27.2.5 12.8.5 30.7.5-14.5.5-27 .5 13.8.5 23.1.5-11.2.5-23.4.5 10.7.5 22.3.5-10.9.5-22.6.5 11.4.5 22.6.5-10.1.5-23.5.5 11.1.5 26.1.5-13.1.5-26.5.5 12.7.5 22.6.5-11 .5-18.5.5 9.5.5 16.7.5-8 .5-14.1.5 6.7.5 11.4.5-5.8.5-11.2.5 5.5.5 9.9.5-4.5.5-9.3.5 4.7.5 9.4.5-4.8.5-7.9.5 3.4.5 8.8.5-4.3.5-10.5.5 5.3.5 10.5.5-4.5.5-11.8.5 5.7.5 14.2.5-6.7.5-19.2.5 8.9.5 19.8.5-9.8.5-17.7.5 9 .5 18.1.5-8 .5-20.1.5 9.5.5 20.6.5-10.4.5-21.4.5 10.4.5 17.5.5-8.5.5-12.3.5 5.9.5 15.6.5-7.5.5-16 .5 7.4.5 13.8.5-6.5.5-18.5.5 9.1.5 19.7.5-9.1.5-17.2.5 8.3.5 18 .5-9.2.5-16.8.5 7.7.5 14.6.5-7 .5-15.3.5 7.6.5 16.7.5-8 .5-14.2.5 6.8.5 12.9.5-6.7.5-11.7.5 5.6.5 9.9.5-4.6.5-10 .5 4.8.5 13.1.5-6.3.5-13.6.5 6.4.5 13 .5-6.5.5-13.6.5 6.4.5 15 .5-6.6.5-17.3.5 8.4.5 21.1.5-10.1.5-24.2.5 11 .5 25.6.5-12.5.5-27.9.5 13.9.5 27.9.5-13 .5-25.1.5 11.9.5 27.2.5-13.7.5-28.5.5 13.7.5 22.9.5-10.8.5-21.3.5 10.9.5 22.7.5-10.5.5-23.7.5 10.9.5 24.7.5-12.8.5-23.4.5 11.1.5 22.3.5-10.2.5-21.9.5 11.1.5 21.3.5-10.6.5-18.3.5 8.7.5 13.8.5-7.1.5-10.9.5 5.4.5 10.4.5-4.6.5-10.5.5 5.3.5 9.7.5-5 .5-8.7.5 4 .5 8.3.5-3.9.5-9 .5 4.5.5 9.7.5-4.5.5-10.2.5 4.6.5 12.9.5-6.5.5-14.8.5 6.9.5 15.3.5-7 .5-16.3.5 8.1.5 19.4.5-8.8.5-23.6.5 10.8.5 25.5.5-12.5.5-28.8.5 14.4.5 25.6.5-11.7.5-21.7.5 10.9.5 21.6.5-10.4.5-25.7.5 11.5.5 26.8.5-13.5.5-24.4.5 11.9.5 27.9.5-12.7.5-29.3.5 14 .5 29 .5-15 .5-26.7.5 12.3.5 23.9.5-10.8.5-19.4.5 8.8.5 15.1.5-5.3.5-12.3.5 2.5.5 13.7.5-2.7.5-14.8.5 1.3.5 14.1.5 1.1.5-14.3.5-2.6.5 15 .5 3.5.5-12.2.5-5.5.5 9.7.5 7.5.5-9.6.5-12.3.5 10.1.5 16.7.5-7.9.5-16.9.5 3.4.5 21.4.5 1.5.5-27.3.5-7.2.5 24.1.5 11.3.5-18.6.5-18.5.5 16.7.5 21.4.5-10.9.5-41.1.5-26.8.5 9.7.5 28.2.5-13 .5-52.2.5-66.2.5-44 .5-12.4.5 36.1.5 33.6.5 2.3.5-38.8.5-40.4.5 6.6.5 54.3.5 51.3.5 6.7.5-47.3.5-63.4.5-12.9.5 44.5.5 48.2.5 9.5.5-37.4.5-46.7.5-8.4.5 34.5.5 39.1.5 10.1.5-24.3.5-33.4.5-3.2.5 31.2.5 34.1.5-2 .5-40.8.5-40.2.5 6.6.5 50.8.5 31.1.5-25.7.5-49.4.5-16.2.5 36 .5 47.5.5 7 .5-40.6.5-34.3.5 10.3.5 34.8.5 18.5.5-19.8.5-30.6.5-5.8.5 18.6.5 19.6.5-.5.5-19.1.5-12 .5 10.4.5 18.4.5 4.5.5-12.3.5-14.5.5-.1.5 16.2.5 10.9.5-10.5.5-19.7.5-3 .5 16.9.5 13.5.5-4.8.5-14.9.5-6.1.5 12.6.5 16.7.5-2.6.5-20.8.5-13.3.5 13.4.5 24.5.5.2.5-31.4.5-22.5.5 25 .5 38.2.5-2.6.5-29.6.5-17.9.5 17.7.5 37.8.5.7.5-49.2.5-29 .5 29.2.5 42.6.5.6.5-43.5.5-25.7.5 32.1.5 42 .5-3.3.5-35.2.5-20.1.5 19 .5 30.4.5-3.9.5-30.6.5-18.1.5 17.6.5 35.4.5 9.6.5-32 .5-31.3.5 12 .5 46.5.5 33.9.5-20.3.5-57 .5-33.4.5 27.7.5 62.2.5 34.9.5-36.9.5-87.7.5-38.2.5 53.8.5 80.7.5 35.5.5-31.6.5-73.6.5-42.7.5 47.9.5 81.7.5 25.4.5-43.7.5-78.1.5-47.1.5 39.9.5 81 .5 38.9.5-41.1.5-84.3.5-31.1.5 51.9.5 80.9.5 43 .5-38.9.5-85.1.5-37.3.5 44.4.5 67.9.5 25 .5-39.5.5-69.4.5-34.6.5 37.4.5 67.9.5 26.9.5-41.1.5-54.9.5-3 .5 41 .5 33.5.5-10.7.5-36.6.5-18.8.5 17.9.5 31 .5-2.6.5-37.2.5-21 .5 25.3.5 44.3.5-1.2.5-43.6.5-21.7.5 28.6.5 50.2.5 5.7.5-46.4.5-40.8.5-.7.5 63.1.5 64.2.5-30 .5-99.3.5-63.1.5 51.7.5 107.3.5 54.2.5-37 .5-76 .5-41 .5 26.4.5 69.3.5 44.8.5-32.6.5-93.8.5-59.8.5 40.3.5 81.9.5 38.5.5-24.2.5-65.2.5-40.4.5 35.4.5 74.6.5 46.8.5-25.7.5-81 .5-51.6.5 31.2.5 73.1.5 43.1.5-31.6.5-90.6.5-60.5.5 37.9.5 103.3.5 56.6.5-43 .5-75.7.5-24.9.5 35.8.5 58.3.5 23 .5-49.6.5-77.9.5-7.5.5 68.8.5 39.8.5-29 .5-45.6.5-10.8.5 34.2.5 32.2.5-11.6.5-34.6.5-8.8.5 26.2.5 21.7.5-11.7.5-27.6.5-6.7.5 21.3.5 19.8.5-10.7.5-25.1.5-2.1.5 22.8.5 16 .5-12.2.5-22.3.5-.5.5 20.7.5 10.3.5-14.9.5-22.1.5 2.9.5 27 .5 11.6.5-22.3.5-22.1.5 12.8.5 30.7.5 5.7.5-33.3.5-23.2.5 21.9.5 33.3.5-8 .5-36.6.5-9.4.5 29.5.5 22.9.5-14.5.5-23.9.5 1.4.5 24.7.5 11.9.5-23.8.5-24.1.5 11.9.5 27 .5.3.5-26.4.5-9.7.5 21 .5 17.2.5-9.4.5-19.1.5.4.5 18.3.5 5.8.5-16.3.5-12.3.5 9.1.5 15.5.5-2.1.5-15.9.5-3.6.5 16 .5 12.1.5-12.7.5-17.4.5 5.1.5 18.6.5 1.5.5-18.8.5-10.3.5 15.7.5 17.5.5-8.4.5-19.6.5 1 .5 20.6.5 7.4.5-18 .5-13.1.5 9.3.5 13.1.5-2.3.5-15.4.5-5.1.5 18.4.5 15.1.5-14.2.5-22.9.5 7.4.5 26.2.5-.3.5-22.1.5-10.2.5 14.3.5 16.6.5-8.2.5-19.6.5.4.5 24.8.5 11.4.5-23.2.5-19 .5 13.8.5 20.6.5-5.6.5-21.3.5-6.3.5 21 .5 15.9.5-15.6.5-18 .5 6.9.5 21.4.5 2 .5-20.9.5-9.8.5 13.6.5 15 .5-8.4.5-18.2.5 2.2.5 16.3.5 5.3.5-11.1.5-9.2.5 7.2.5 11.8.5-2.3.5-14.8.5-4.4.5 13.5.5 9.1.5-9.7.5-11.8.5 5 .5 13.7.5 2.3.5-11.6.5-8.8.5 9 .5 17.1.5-3 .5-23.1.5-9.7.5 17.8.5 22.5.5-3.1.5-27.9.5-14 .5 25.4.5 34.8.5-2.6.5-36.3.5-25.8.5 17.1.5 38.4.5 5.7.5-36.4.5-35.2.5 13.3.5 49.6.5 21.9.5-31.8.5-40.8.5 2.7.5 45.9.5 28.6.5-28.2.5-45.5.5-7.4.5 32.6.5 32.2.5-14 .5-38.6.5-7 .5 28.3.5 22 .5-9.4.5-26.4.5-4.1.5 21.6.5 9.3.5-14.1.5-14.5.5 4.3.5 17.5.5 4.7.5-16.4.5-12.8.5 12.6.5 23 .5-.1.5-22.1.5-13.1.5 12.3.5 23 .5-.8.5-24.1.5-16.7.5 11.6.5 28.6.5 8.2.5-22.1.5-19.8.5 8 .5 23 .5 9.7.5-15.8.5-22.8.5-2 .5 22 .5 16.3.5-12.1.5-25.6.5-6 .5 23.8.5 24 .5-5.6.5-26.6.5-11.8.5 17.5.5 21.5.5-4.6.5-22.7.5-11.2.5 12.1.5 19.6.5-2.6.5-20.6.5-6.3.5 15.8.5 13 .5-7.7.5-14.1.5 0 .5 11.6.5 4.4.5-10.6.5-9.7.5 6.8.5 13.5.5-1.6.5-13.3.5-3.1.5 12.2.5 8.3.5-8.7.5-11.7.5 3.3.5 11.3.5 1.3.5-10.9.5-5.9.5 9 .5 9.7.5-4.6.5-9.5.5.6.5 8.6.5 3.5.5-8 .5-7.1.5 4.4.5 9 .5-1.2.5-10.2.5-3.5.5 12.1.5 11.9.5-10.5.5-18.1.5 5.4.5 19.3.5 1.2.5-18.3.5-11 .5 14.4.5 20.2.5-9.1.5-22.5.5 1.5.5 22.9.5 9.8.5-20 .5-18.2.5 11.6.5 21.9.5-4.8.5-22 .5-5.4.5 19.8.5 16 .5-14.5.5-19.6.5 6.6.5 21.7.5 1.6.5-19.7.5-8.9.5 12 .5 10.9.5-6 .5-11 .5 0 .5 13.2.5 5.6.5-10.5.5-9.4.5 6.3.5 12.7.5-3 .5-13.2.5-2.8.5 9.7.5 6.4.5-5.8.5-10 .5 3.5.5 13.2.5 1.9.5-12.4.5-7.1.5 9 .5 10.6.5-5.8.5-14.1.5.1.5 14.5.5 6.8.5-12 .5-11.5.5 9 .5 14.3.5-3 .5-14.2.5-4.2.5 11.6.5 8.4.5-8.8.5-13.3.5 4.3.5 17.7.5 3.6.5-17.3.5-10.5.5 14.7.5 15.5.5-9.2.5-18.1.5-.8.5 18 .5 9.8.5-17.8.5-16.3.5 13.4.5 21.2.5-3.1.5-20.6.5-4.8.5 15.7.5 10.2.5-11.4.5-18.3.5 5.7.5 20.1.5 2.1.5-15.6.5-6.4.5 10.9.5 11.6.5-5.7.5-15.1.5-.1.5 13.2.5 4.9.5-11.2.5-10.8.5 8.2.5 14.5.5-1.6.5-14.5.5-3.9.5 13.5.5 7.7.5-8.9.5-13.1.5 2.8.5 16 .5 3.2.5-17.2.5-8.5.5 14.1.5 14.1.5-5.8.5-18.5.5-.9.5 20 .5 7.8.5-18.4.5-14.5.5 10.5.5 16.1.5-1.9.5-15.9.5-3.9.5 15.8.5 10.3.5-10.5.5-14.3.5 3.6.5 15.2.5 2.6.5-17.7.5-10.4.5 15.2.5 17 .5-7.3.5-19.1.5 1 .5 18.3.5 6.3.5-14.9.5-12.8.5 8.4.5 14.5.5-2.7.5-13.9.5-2.3.5 11.5.5 7.5.5-7 .5-9 .5 2.8.5 9.3.5.6.5-9 .5-4.8.5 6.3.5 6.4.5-3 .5-6.8.5.1.5 8.3.5 4.2.5-7.9.5-8.3.5 5.6.5 9.1.5-1.9.5-9.8.5-3.1.5 9.6.5 7 .5-6.5.5-8.4.5 2.9.5 9.9.5.9.5-9.2.5-4.8.5 6.1.5 6.8.5-3.7.5-7.9.5.3.5 8.4.5 3.9.5-6.8.5-6 .5 4.3.5 8.4.5-1.3.5-10.7.5-3.2.5 9.3.5 6.5.5-6.5.5-8.5.5 2.9.5 11.6.5 2.3.5-11.8.5-6.7.5 9 .5 8.7.5-5 .5-11.3.5-.6.5 12.4.5 5.1.5-9.7.5-7.1.5 5.9.5 8.9.5-1.3.5-9.8.5-3.1.5 8.5.5 6 .5-6.6.5-8.4.5 3.2.5 8.8.5 1.8.5-8 .5-5.5.5 7.7.5 9.6.5-5.4.5-11.6.5-.3.5 10.5.5 5 .5-9.8.5-8.9.5 7.3.5 12.9.5-1 .5-14.4.5-4.6.5 13.6.5 9.9.5-11 .5-17.3.5 4.9.5 18.9.5 1.9.5-15.1.5-7.8.5 12.7.5 16.7.5-7.4.5-22.9.5-.7.5 22.1.5 8.7.5-20 .5-17.2.5 13.4.5 19.3.5-2 .5-18.5.5-5.9.5 19.4.5 12.4.5-13.9.5-18.2.5 4.3.5 19.6.5 1.9.5-17.7.5-7.1.5 12.5.5 13.7.5-5.5.5-16.8.5-.1.5 16.8.5 5.7.5-14.3.5-12.6.5 8.5.5 14.7.5-2.8.5-12.5.5-2.7.5 11.5.5 7.5.5-7.5.5-10.3.5 2.5.5 11.5.5 1.2.5-12 .5-6.9.5 9.8.5 10.8.5-5.2.5-9.8.5 1 .5 8.7.5 3.6.5-7.7.5-8.1.5 5 .5 9.7.5-1.6.5-11 .5-3.1.5 10.9.5 8.2.5-7.3.5-10.6.5 3.7.5 11.3.5 1.2.5-11.9.5-8 .5 9.8.5 12 .5-6.1.5-12.8.5.3.5 15.1.5 8.1.5-14.5.5-12.8.5 8.8.5 15.3.5-3.4" stroke="#f0e442" stroke-width="1.15" fill="none" stroke-linejoin="round" clip-path="url(#cTR)"/><path d="M1234 286.8l.5-9.7.5 18.8.5 9.5.5-17.5.5-8.9.5 17.7.5 7.6.5-15.4.5-6.4.5 12.1.5 5.5.5-11 .5-4.8.5 9.8.5 4.3.5-8 .5-3.7.5 7.3.5 3.6.5-7.5.5-4.7.5 8.5.5 5.1.5-9.6.5-5.7.5 11.3.5 6.7.5-12.3.5-6.7.5 12.5.5 6.3.5-13.1.5-8 .5 14.7.5 7.6.5-14.1.5-8 .5 16.4.5 11.4.5-21.2.5-11.4.5 20.9.5 9.8.5-19.8.5-10 .5 19.8.5 11.3.5-20.3.5-11 .5 21.6.5 12.5.5-24.5.5-13 .5 23.8.5 10.6.5-21 .5-9.5.5 19.4.5 8 .5-15.4.5-9 .5 16.8.5 9.4.5-18.8.5-8.7.5 16.5.5 7.7.5-14.3.5-6.4.5 13.4.5 6.7.5-12.8.5-5.5.5 10.3.5 4.4.5-9 .5-4 .5 7.9.5 3.6.5-6.7.5-3.3.5 6.8.5 3.9.5-7.6.5-4.7.5 8.4.5 5.4.5-10.3.5-5.7.5 11.5.5 7.2.5-13.1.5-8.4.5 15.9.5 9.1.5-18.2.5-9.7.5 17.9.5 9.4.5-17.7.5-9.6.5 19.9.5 12.7.5-23.4.5-13.4.5 24.7.5 12.7.5-25.6.5-12.7.5 24.4.5 11.8.5-21.8.5-10.7.5 21.7.5 10.7.5-21.2.5-11.5.5 20.9.5 12.1.5-23.4.5-11.3.5 22.8.5 11.3.5-20.9.5-10.8.5 20.9.5 9.7.5-19.6.5-8.4.5 15.9.5 7.7.5-14.6.5-6.4.5 13.2.5 5.7.5-10.9.5-5.2.5 9.9.5 5.1.5-10.3.5-5.1.5 9.8.5 5 .5-9.4.5-4.9.5 9.8.5 5 .5-9.6.5-5.1.5 9.4.5 5.8.5-11.6.5-8.1.5 15.2.5 8.9.5-16 .5-7.7.5 15.4.5 7.8.5-15.7.5-9.2.5 16.6.5 9.7.5-18.3.5-8.6.5 17.8.5 10.1.5-18.4.5-11.2.5 20.7.5 10.3.5-20.8.5-8.9.5 17 .5 8 .5-15.2.5-9.4.5 18.4.5 8.9.5-17 .5-7.8.5 14.5.5 7.2.5-14.7.5-7.6.5 14.7.5 6.8.5-12.5.5-5.2.5 10.6.5 4.8.5-9.7.5-5 .5 9.1.5 4.3.5-8.5.5-3.6.5 7.5.5 3.6.5-6.7.5-3.6.5 6.9.5 3.1.5-6.5.5-3.2.5 6.1.5 4 .5-7.5.5-4.2.5 8.6.5 4.9.5-9.3.5-6.4.5 11.5.5 5.7.5-11.8.5-6.5.5 12.5.5 8.4.5-15 .5-8.7.5 17.5.5 11.1.5-20.9.5-11.3.5 20.6.5 10.9.5-21.7.5-11.9.5 23.5.5 12.5.5-22.7.5-11.2.5 22.1.5 11.2.5-22.8.5-13 .5 23.5.5 11.7.5-22.5.5-10.2.5 21.4.5 11.4.5-21.1.5-10.6.5 19.9.5 8.8.5-18.4.5-9.3.5 17.7.5 9.6.5-17.5.5-6.8.5 14.4.5 5.8.5-11.5.5-5.2.5 9.6.5 4.8.5-9.5.5-4.4.5 8.7.5 3.9.5-7.1.5-2.8.5 5.7.5 2.7.5-5.5.5-3.6.5 6.4.5 4 .5-7.7.5-5 .5 9.8.5 6.3.5-11.4.5-6.5.5 12.2.5 6 .5-12.3.5-7.1.5 13 .5 8.4.5-15.4.5-9.1.5 18.2.5 9.9.5-18.7.5-9.8.5 18.1.5 9.4.5-19.2.5-11.2.5 21.4.5 12.5.5-22.5.5-10.8.5 21.9.5 10.5.5-21.1.5-12 .5 21.6.5 11.6.5-22.7.5-11.7.5 23.3.5 11.6.5-21.3.5-9 .5 17.8.5 7.2.5-15.1.5-6.7.5 12.5.5 5.7.5-11 .5-5.9.5 11.9.5 5.9.5-11.1.5-4.7.5 9 .5 4.2.5-8.6.5-4.4.5 8.4.5 4.2.5-7.8.5-4 .5 8.1.5 4.8.5-9.2.5-5.9.5 10.6.5 6.2.5-12.3.5-7.1.5 14 .5 9.3.5-16.5.5-9.5.5 18.5.5 10.2.5-20.4.5-12.1.5 21.9.5 12.2.5-23.4.5-12.7.5 25.6.5 14.7.5-27 .5-15 .5 28 .5 13.6.5-27.9.5-14.3.5 26.9.5 13 .5-24.4.5-12.4.5 25.1.5 13.5.5-25.6.5-12.5.5 23.2.5 11.4.5-23 .5-11.7.5 22.8.5 10.8.5-19.8.5-8.6.5 17.5.5 8.6.5-17.3.5-8.8.5 16.1.5 7.4.5-14.5.5-6 .5 12.5.5 5.5.5-10.4.5-4.5.5 8.8.5 3.3.5-7.2.5-3.2.5 6.2.5 3.3.5-6.2.5-3.7.5 7.4.5 5 .5-9.1.5-5.7.5 10.5.5 6.4.5-12.8.5-7.2.5 13.7.5 7.3.5-13.4.5-8.1.5 16.1.5 9.9.5-19 .5-10.9.5 19.5.5 9.9.5-19.8.5-11.2.5 22.1.5 12.7.5-23 .5-12.7.5 24.5.5 12.9.5-25.9.5-12.7.5 23.6.5 11.8.5-22.5.5-11.8.5 23.7.5 11.7.5-22 .5-11.3.5 21.1.5 10.8.5-21.9.5-10.9.5 20.8.5 8.8.5-16.8.5-7.7.5 16 .5 8.6.5-16.5.5-7.3.5 13.5.5 5.5.5-11.3.5-5.6.5 11 .5 5.6.5-10.2.5-4.8.5 9.4.5 3.7.5-7.8.5-3.9.5 7.2.5 4.2.5-8.1.5-5.1.5 10.1.5 6.4.5-11.6.5-6.7.5 12.7.5 7.4.5-14.8.5-8.5.5 15.9.5 10.4.5-19.1.5-11.8.5 23.3.5 13 .5-24.7.5-13.7.5 25 .5 11.8.5-24.3.5-13.3.5 25.7.5 14.5.5-26.3.5-13.4.5 26.7.5 13.4.5-26.6.5-13.3.5 24.5.5 11.8.5-23.2.5-10.7.5 22.1.5 12.3.5-22.6.5-14.1.5 25.6.5 15.2.5-25.9.5-15.8.5 20.5.5 16.9.5-16 .5-19 .5 12.6.5 21.8.5-6.6.5-22.9.5.5.5 20.6.5 4.6.5-16.5.5-10.3.5 11.2.5 13 .5-4.8.5-11.8.5-.9.5 10.1.5 6 .5-6.9.5-9.7.5 1.1.5 11.7.5 6 .5-11.3.5-13.8.5 4.5.5 17.9.5 7 .5-13.7.5-16.4.5 3.2.5 20.8.5 10 .5-14.2.5-19.8.5-3.2.5 18.3.5 19.5.5-4.9.5-23.4.5-14.3.5 9.8.5 24.7.5 15.4.5-11.7.5-28.2.5-16.2.5 13.3.5 30.4.5 15.7.5-13.2.5-28.2.5-20.3.5 5.1.5 27.4.5 26.9.5 3.4.5-24.7.5-32.1.5-12.5.5 17.7.5 34.9.5 24 .5-4.6.5-27.3.5-28.2.5-10.9.5 11.4.5 25.7.5 22.5.5 3.1.5-18 .5-27.3.5-18.1.5 3.1.5 19.8.5 21.9.5 11.4.5-3.1.5-14.7.5-16.9.5-8.4.5 4.4.5 13.2.5 13.5.5 6.2.5-4 .5-10.5.5-11.1.5-6.8.5 1.4.5 9 .5 10 .5 5.8.5-.3.5-7.2.5-10.5.5-8.2.5-1.6.5 7.3.5 13.5.5 12.3.5 4.1.5-5.8.5-13.8.5-16.8.5-10.7.5 3 .5 16.9.5 23.2.5 16.5.5-.5.5-16.4.5-23 .5-20.3.5-10.7.5 5.3.5 22.4.5 28 .5 17.6.5-.2.5-16.1.5-25.1.5-22.9.5-10.5.5 6.4.5 22 .5 29.1.5 23.2.5 6.3.5-14.5.5-27.9.5-27 .5-14.4.5 2 .5 15.3.5 25 .5 25.4.5 9.6.5-10.7.5-21.7.5-23.6.5-17.8.5-3.6.5 11.6.5 18.5.5 16.5.5 10.5.5 2 .5-8.3.5-14.3.5-12.5.5-5.5.5 1.7.5 8.2.5 11.4.5 9.3.5 3.7.5-2.2.5-6.7.5-9.1.5-8.6.5-4.8.5 10.3.5 16.6.5 17.6.5-56.2.5-56.2.5-56.2.5-56.2.5-56.2.5 47.5.5 47.5.5 47.5.5 47.5.5 47.5.5 47.5.5-40.7.5-40.7.5-40.7.5-40.8.5-40.7.5-40.7.5-40.7.5 55 .5 55 .5 55 .5 55 .5 55 .5-15.7.5-24.6.5-24.4.5 3.4.5 16 .5 20.2.5 16.4.5 6.5.5-5.2.5-16.2.5-21 .5-15 .5-2 .5 12.8.5 23.2.5 22.2.5 12.2.5.3.5-13.2.5-25.5.5-26.4.5-13 .5 7.2.5 23.7.5 27.3.5 16.6.5 1.4.5-12.2.5-23.2.5-27 .5-17.4.5 1.8.5 18.2.5 24.7.5 23.2.5 13.1.5-3.9.5-18.6.5-15.8.5 7.5.5 24.4.5-57.4.5-57.4.5-57.4.5-57.4.5-57.4.5 52 .5 52 .5 52 .5 52 .5 52 .5 52 .5-61.1.5-61.1.5-61.1.5-61.1.5-61.1.5 36.7.5 36.7.5 36.7.5 36.6.5 36.7.5 36.7.5 36.7.5 36.7.5-14.5.5-14.8.5-14.8.5-6.4.5.2.5 7.2.5 11 .5 10.8.5 7.1.5-.9.5-10.6.5-15.3.5-13.1.5-6.7.5 2.6.5 11.4.5 15.4.5 13 .5 5.7.5-5.1.5-16 .5-20.4.5-14.6.5-1 .5 13.2.5 20.6.5 19.8.5 11.9.5.3.5-10.3.5-18.5.5-19.3.5-10.8.5-6.2.5 8.6.5 16.8.5 13.6.5.6.5-17.5.5-40.1.5-40.8.5-23.7.5-.1.5 15.6.5 13 .5-8.1.5-32.5.5-24.8.5-2.1.5 24.1.5 26.6.5-.1.5-31.1.5-29.5.5 7.7.5 32.3.5 15.3.5-21.6.5-37.2.5-4.2.5 36.8.5 32.5.5-14.1.5-40.9.5-14.9.5 36.2.5 42.7.5-11.1.5-51.2.5-30 .5 31.9.5 51.5.5-1.3.5-50 .5-32.4.5 28.8.5 51.1.5 8.1.5-39.7.5-34.3.5 15.9.5 44.2.5 11.1.5-37.2.5-35 .5 10 .5 38.4.5 15.7.5-26 .5-30.6.5 7.4.5 34.5.5 15.7.5-21.3.5-30.3.5 1.2.5 30.1.5 14.5.5-19.3.5-25.6.5.5.5 26.1.5 17.8.5-15.2.5-28.8.5-.8.5 32.6.5 21.6.5-21 .5-37.6.5-3 .5 37.7.5 25.4.5-25.6.5-36 .5 3.8.5 31.1.5 19.3.5-15.8.5-28.8.5-.8.5 29.9.5 21.3.5-21.2.5-37.9.5-.5.5 34.2.5 20 .5-18.6.5-32.4.5.1.5 36 .5 23 .5-20.6.5-35.3.5-1.3.5 33.8.5 21.5.5-22.8.5-38.9.5-1.3.5 39.3.5 27.4.5-22.9.5-41.6.5.7.5 43.6.5 23.8.5-24.6.5-37.4.5-1.6.5 33.7.5 21.3.5-21.7.5-36.1.5-2.3.5 39.9.5 52.7.5 27.7.5-37.1.5-32.7.5 5.6.5 5 .5 16.2.5 16.3.5 16.3.5 16.2.5 14.7.5 14.7.5 14.7.5 14.8.5 14.7.5 14.7.5 14.7.5-40.2.5-40.2.5-40.2.5-40.2.5-40.2.5-40.2.5-40.2.5 46 .5 46 .5 46 .5 46 .5 46 .5 46 .5-38.1.5-38.1.5-38.1.5-38 .5-38.1.5-38.1.5-38.1.5 32.1.5 32.1.5 32.2.5 32.1.5 32.1.5 32.2.5 32.1.5 32.1.5-10.6.5-10.6.5-10.6.5-10.6.5-10.6.5 8.6.5 8.6.5 8.6.5 8.6.5 8.6.5-8.2.5-8.3.5-8.3.5-8.2.5 6.8.5 6.8.5 6.8.5 6.8.5 6.8.5-11.2.5-11.1.5-11.2.5-11.2.5-11.1.5-11.2.5 11 .5 10.9.5 11 .5 10.9.5 11 .5 10.9.5 11 .5 10.9.5 11 .5-10.1.5-10.1.5-10.1.5-10.1.5-10.1.5-10.1.5 4.3.5 4.4.5 4.3.5-9.2.5-9.2.5-9.2.5-9.2.5-9.2.5-11.8.5-11.7.5-11.7.5-11.8.5-8 .5-8 .5-8 .5-8 .5-8 .5-18 .5-9.6.5 24 .5 23.8.5-12.3.5-36.5.5-15.4.5 24.7.5 32.4.5 2.4.5-31.2.5-31.4.5 6.9.5 33.9.5 20.1.5-15.4.5-34.8.5-8.7.5 30.5.5 31.5.5-2.3.5-34.5.5-24.1.5 16.9.5 32 .5 7.9.5-27.5.5-32.8.5 5.8.5 37.3.5 21 .5-19.4.5-32.1.5-2.7.5 30.8.5 25.3.5-13.6.5-35.1.5-12.3.5 25.3.5 24.7.5-8 .5-26.4.5-10.8.5 18.9.5 22.2.5-2.1.5-21.2.5-11.7.5 14.4.5 21.8.5-2 .5-25.2.5-13.9.5 15.8.5 22.5.5-2.2.5-24.1.5-10.7.5 18.6.5 23.1.5-4 .5-28.1.5-12 .5 24.4.5 23.9.5-12.9.5-32.1.5-3.8.5 27.5.5 17.8.5-14 .5-25.2.5 3.4.5 33.7.5 14 .5-25.6.5-24.4.5 12.1.5 27.9.5 1.5.5-18.9.5-10.2.5 12.2.5 17.9.5-.9.5-20.6.5-10.2.5 19.2.5 22.7.5-9.8.5-31.9.5-7.1.5 32.6.5 26.4.5-24.2.5-42.8.5 4.2.5 52.2.5 24.5.5-43.9.5-51 .5 22 .5 67.4.5 11 .5-67 .5-40.1.5 40.3.5 52.1.5-4.6.5-55.9.5-21.8.5 46.8.5 45 .5-17.8.5-65.9.5-13.7.5 66 .5 40.7.5-41.8.5-59.8.5 7.9.5 63.6.5 25.7.5-48.5.5-46.9.5 22.4.5 59.1.5 7.9.5-54.2.5-31.2.5 30.5.5 41.8.5-5.9.5-42.5.5-15.2.5 32.9.5 30.5.5-14.5.5-31.9.5-2.9.5 25.8.5 14.8.5-15.7.5-19.6.5 3 .5 19 .5 9.2.5-16.3.5-20.6.5 8.9.5 30.4.5 5.6.5-29.6.5-20.8.5 19.4.5 31.3.5-3.4.5-36.9.5-15.5.5 30.3.5 31.8.5-12.6.5-42.6.5-7.2.5 43.3.5 29.9.5-28.4.5-48.2.5 5.1.5 50.8.5 22.3.5-43 .5-48.2.5 23.5.5 57.9.5 7.8.5-49.4.5-34.7.5 33.6.5 49.8.5-6.9.5-54.8.5-25.5.5 46 .5 49.1.5-21.9.5-60.7.5-6.3.5 54.6.5 35.1.5-33.6.5-46.7.5 7.7.5 42.7.5 14.3.5-31.7.5-32.1.5 14.7.5 38.9.5 4.6.5-32.8.5-19.5.5 20 .5 26.1.5-5.5.5-22.6.5-7.2.5 14.3.5 16.7.5-7.7.5-23.2.5-4.3.5 23.2.5 19.1.5-16.6.5-31.7.5 2.3.5 39 .5 17.8.5-34.9.5-35.5.5 15.6.5 41.8.5 8.4.5-43.5.5-34.9.5 33.5.5 52.7.5-5.9.5-55.8.5-25.8.5 47.4.5 50.9.5-24.5.5-67.8.5-14.1.5 67.9.5 51.4.5-48.1.5-70.8.5 12.8.5 69 .5 24.3.5-50.4.5-44.9.5 19.5.5 54.6.5 9.9.5-56.6.5-36.7.5 36.2.5 52 .5-7.8.5-51.4.5-15.1.5 36.7.5 27.7.5-18.9.5-33.1.5.1.5 26.3.5 8.7.5-19 .5-16.5.5 9.8.5 17 .5-2 .5-14 .5-4.8.5 11.8.5 9.7.5-9.5.5-14.1.5 4.2.5 14.7.5.3.5-13.6.5-4.2.5 13.4.5 9.3.5-10.8.5-12 .5 7 .5 13.3.5-3.7.5-17.1.5-1.2.5 17.5.5 7.2.5-16.2.5-12.6.5 16.6.5 19.1.5-12.2.5-23.6.5 4.8.5 23.8.5 1 .5-24.9.5-7.6.5 22.6.5 14 .5-15.5.5-17.2.5 11.1.5 20.2.5-6.7.5-19.9.5-1.4.5 17.1.5 6.6.5-16.6.5-11.2.5 15.5.5 18.5.5-10.8.5-20.2.5 5.2.5 18.2.5-.4.5-17.5.5-5.7.5 14.7.5 10 .5-11.2.5-11.6.5 8.5.5 13.2.5-3.5.5-13.3.5-1.3.5 12.3.5 4.6.5-13.2.5-9.3.5 11.7.5 14.1.5-7.9.5-14.5.5 4 .5 16.4.5 1.1.5-18.3.5-5.9.5 14.2.5 8.9.5-11.3.5-12.9.5 9.2.5 16.5.5-3 .5-16.2.5-1.5.5 18.4.5 7.1.5-20.1.5-14.2.5 16.6.5 20.1.5-11.2.5-23.7.5 7.9.5 26.5.5 1.4.5-23.9.5-9 .5 21.3.5 13.5.5-18.5.5-20.4.5 13 .5 27 .5-4.7.5-27.7" stroke="#0072b2" stroke-width="1.15" fill="none" stroke-linejoin="round" clip-path="url(#cTR)"/><path d="M1234 700.1l1.3 88.6 1.4-123.9 1.3 98 1.5-69.7 1.4 79.4 1.4-92.9 1.1 113 1.4-126.3 1.2 132.7 1.1-125.6 1.3 89.6 1.7-97.9 1.7 113.4 1.5-83.3 1.1 92 1.4-99.1 1.4 73.7 1.2-52.2 1.4 60.9 1.4-58.9 1.3 80.6 1.7-99.8 1.4 92.4 1.3-100.3 1.3 118.4 1.8-109 1.6 109.6 1.1-96.6 1.4 45.9 1.8-92.8 1.6 117.4 1.3-91.1 1.7 119.2 1.6-153.7 1.1 159.1 1.1-152.2 1.3 147.4 1.6-145.7 1.5 149.6 1.5-111.3 1.2 89.5 1.6-113.8 1.2 132.1 1.3-135.9 1.6 85.7 1.4-74.1 1.5 124.7 1.2-116.2 1.7 82.4 1.1-114.4 1.2 148.8 1.3-106 1.5 103.7 1.6-138.6 1.2 123.8 1.2-87.3 1.2 102.5 1.1-149.6 1.5 155.7 1.6-128.3 1.7 92 1.8-89.7 1.4 111.5 1.6-132.3 1.8 99.1 1.3-103.5 1.4 98 1.8-111.4 1.1 139.2 1.6-124.9 1.7 151 1.5-158.1 1.8 126.3 1.6-120 1.7 116.9 1.5-96.1 1.7 98.8 1.5-120.1 1.7 102.5 1.2-82.9 1.5 87.2 1.3-118.3 1.2 125.9 1.8-82.3 1.4 98 1.1-87.6 1.1 101.3 1.6-117.4 1.3 79 1.6-89.6 1.2 82.6 1.7-88.3 1.5 117.9 1.2-94.2 1.5 87.7 1.1-80.9 1.2 111.6 1.6-162.6 1.5 143.4 1.5-106.6 1.2 102.3 1.6-91.1 1.2 91.8 1.5-116.1 1.7 109.7 1.4-86.8 1.6 83.6 1.4-76.4 1.4 108.1 1.5-113 1.5 79 1.1-85.4 1.6 89.5 1.5-78.4 1.2 103.4 1.2-149.8 1.4 156.7 1.8-166.6 1.4 120.7 1.6-119 1.3 148.4 1.8-110.4 1.4 91.6 1.7-124.8 1.5 125.8 1.5-96.1 1.3 110.1 1.1-132.8 1.7 108.7 1.4-66.3 1.6 70.1 1.2-121.2 1.1 151.7 1.7-143 1.3 147.9 1.3-146.1 1.5 119.1 1.5-97.9 1.6 116 1.4-122.1 1.6 90.4 1.3-103.1 1.5 127.5 1.6-112 1.4 98.7 1.7-98 1.8 133.3 1.6-132.4 1.3 93.9 1.3-85.6 1.7 120.6 1.5-160 1.8 135.8 1.7-100.1 1.1 70.2 1.3-93.6 1.4 122.6 1.2-100.5 1.3 95.3 1.1-99.7 1.6 126.8 1.5-159.3 1.6 163.1 1.5-147.6 1.3 97.9 1.3-79.1 1.3 123.2 1.7-115.7 1.5 100.3 1.2-91.8 1.3 59.2 1.7-98.3 1.4 147.2 1.8-114.3 1.5 119.7 1.8-161.4 1.7 122.6 1.2-79.6 1.7 85.9 1.1-112.8 1.4 95.8 1.1-57.3 1.4 81.1 1.6-109.7 1.5 136.1 1.7-149.8 1.4 137.1 1.6-148.8 1.1 156.7 1.6-129.9 1.1 112.7 1.7-86.6 1.4 77 1.8-91.7 1.3 65.4 1.4-58 1.1 104 1.3-120.2 1.6 95.7 1.6-85.7 1.5 87.6 1.7-85.6 1.3 106.7 1.2-109.8 1.6 98.7 1.7-141.2 1.2 137.8 1.3-88.1 1.2 86.5 1.8-135 1.2 142.6 1.6-103.9 1.8 79.7 1.1-93.4 1.5 111.4 1.7-111.1 1.3 86 1.7-60.1 1.6 108.7 1.8-117.8 1.5 76.9 1.4-81.1 1.6 115.9 1.2-127.4 1.2 90.4 1.2-61.6 1.8 94.3 1.3-133.4 1.7 128.4 1.7-125.2 1.7 145.7 1.6-156.8 1.4 119.4 1.3-82.7 1.6 68.4 1.3-98 1.5 133.3 1.5-111.6 1.6 71.5 1.3-77.3 1.6 117.7 1.2-126.2 1.8 119.5 1.2-138.7 1.4 160.4 1.2-156.9 1.8 118.5 1.4-103.7 1.4 132.3 1.6-149.4 1.6 140.2 1.6-139.3 1.3 100.9 1.3-105.8 1.8 106.6 1.2-77 1.4 132.1 1.7-124.6 1.5 113.3 1.4-104 1.4 61.1 1.2-100.6 1.2 151.1 1.8-145.3 1.4 139.6 1.2-139.5 1.3 133.7 1.2-118.3 1.2 135.5 1.8-151.6 1.3 112.4 1.7-121.5 1.4 110.2 1.7-104.5 1.5 120.9 1.4-69.5 1.3 64.8 1.4-88 1.5 97.8 1.2-135.7 1.4 162.5 1.3-128.9 1.6 125.6 1.3-132 1.7 103 1.2-110.1 1.7 136.6 1.7-150.2 1.8 113.9 1.7-118.9 1.1 156.5 1.6-120.2 1.1 92.5 1.3-88.3 1.2 100.5 1.4-135.7 1.6 130.4 1.1-99.6 1.7 128 1.5-138.5 1.6 94 1.1-70.9 1.2 113.5 1.1-147.3 1.2 116.2 1.7-96.1 1.1 119.3 1.7-124.1 1.3 84 1.8-102 1.2 136.2 1.4-138.1 1.2 142.2 1.2-115.1 1.5 84.7 1.8-125.5 1.4 130.8 1.1-121.8 1.8 158.6 1.5-154.7 1.8 96 1.3-88.4 1.2 125.4 1.6-103.2 1.4 85.6 1.3-107.3 1.2 101.1 1.3-66.8 1.5 80.4 1.4-130.8 1.7 101.8 1.4-79.6 1.1 113.5 1.8-87.9 1.6 95.9 1.4-144 1.8 148.6 1.5-93.4 1.5 103.6 1.2-131.1 1.8 87 1.3-78.5 1.7 65.9 1.7-52.7 1.6 87.2 1.5-124.8 1.3 117.6 1.2-118.4 1.7 142.2 1.6-129.3 1.2 94.8 1.6-68.7 1.6 53.7 1.8-68.6 1.5 123.5 1.2-109.6 1.2 105.1 1.3-132.5 1.3 124.7 1.6-141.4 1.3 114.2 1.5-113.3 1.3 147.3 1.6-113.9 1.5 83.4 1.7-90.4 1.3 69.7 1.5-98.8 1.2 116.6 1.8-100.7 1.5 82.7 1.6-83.2 1.4 83.4 1.6-64.9 1.8 77.3 1.6-58.1 1.3 70.5 1.7-69.1 1.2 75.5 1.3-119.9 1.2 116 1.3-112 1.7 105.9 1.5-114.4 1.2 132.1 1.6-109.6 1.8 127.8 1.6-107 1.5 105.8 1.2-137.3 1.8 110.6 1.7-117 1.2 129.4 1.8-131.9 1.1 149 1.2-147.7 1.6 114.2 1.6-72.7 1.6 68.5 1.7-125.5 1.1 130.1 1.7-87.5 1.6 108.4 1.7-149.1 1.1 125.5 1.3-119.4 1.2 117.3 1.1-85.1 1.1 84.6 1.1-83 1.8 81.8 1.4-119.2 1.6 112.6 1.6-69.4 1.7 83.2 1.8-73.1 1.6 50.6 1.2-85.6 1.6 110.3 1.3-77.6 1.5 76 1.2-94.2 1.6 80.7 1.3-111.5 1.7 123.7 1.7-112.5 1.3 144.2 1.3-161.5 1.5 134.1 1.1-84.5 1.6 104 1.3-146.4 1.4 142.6 1.3-115.3 1.5 126.3 1.4-114.6 1.8 85.5 1.6-105.7 1.4 139.7 1.1-135.1 1.4 118.3 1.1-117.6 1.8 107.3 1.2-137.5 1.5 115.7 1.6-67.8 1.7 101.3 1.2-114.4 1.2 89.7 1.2-98.2 1.8 90.2 1.5-82.6 1.2 103.1 1.7-131.9 1.8 119 1.3-108 1.6 98.2 1.8-85 1.3 136.7 1.8-118 1.2 104.2 1.4-153.5 1.7 147 1.5-125.9 1.6 111.1 1.2-117.2 1.1 103.4 1.3-115.3 1.6 159.3 1.2-147.3 1.8 116.7 1.6-102.2 1.2 119.7 1.2-92.1 1.4 59.8 1.2-90.1 1.1 128.2 1.5-141.3 1.5 138.7.4-103.9" stroke="#9400d3" stroke-width="1.15" fill="none" stroke-linejoin="round" clip-path="url(#cBR)"/><path d="M1234 695.9l1.7 52.9 1.4-76.9 1.1 118.3 1.1-111.2 1.2 113.7 1.5-125.4 1.3 114.2 1.8-110.9 1.4 123.5 1.2-132.3 1.4 109.8 1.3-108 1.1 97.5 1.1-96.1 1.4 122.6 1.7-108.8 1.7 75.2 1.7-97 1.1 137.6 1.4-115.8 1.7 93.9 1.2-101 1.8 125.5 1.4-136.5 1.3 130.5 1.6-107.2 1.7 94 1.6-107.2 1.3 87.2 1.4-105.3 1.5 109.8 1.4-104.9 1.6 144.1 1.5-148.7 1.5 101.2 1.5-56.7 1.4 86.1 1.7-109.5 1.6 98.5 1.2-109.4 1.4 117.2 1.7-76 1.5 55.2 1.8-95.3 1.3 133.2 1.3-102.9 1.7 77.3 1.1-79 1.7 115.4 1.5-120.1 1.7 96.3 1.3-132.6 1.6 150.6 1.5-105.7 1.5 100.6 1.3-131 1.7 97.7 1.7-100.6 1.3 116.9 1.8-110.5 1.6 94.8 1.4-101.6 1.6 103.4 1.1-74.4 1.6 82.7 1.2-113.5 1.1 115.3 1.2-124.6 1.7 103.9 1.3-53 1.8 72.8 1.7-112.3 1.2 99.8 1.3-84.7 1.6 88.8 1.7-94.4 1.4 87.3 1.7-79.5 1.2 118.9 1.8-120.6 1.5 106.5 1.2-131 1.4 141.7 1.5-121.1 1.2 104.4 1.2-123.3 1.6 147.5 1.8-142.9 1.8 103.2 1.2-80.5 1.4 73.3 1.5-76.8 1.7 97.1 1.4-109.9 1.1 113.2 1.2-107.2 1.6 100.6 1.4-94 1.2 120.4 1.5-106.4 1.3 107.6 1.3-151.9 1.6 128.3 1.1-96 1.5 93 1.8-119.7 1.4 139.6 1.8-142.9 1.7 148.6 1.8-118.5 1.2 70.6 1.6-53.3 1.6 99.3 1.4-122.3 1.7 106.8 1.1-102.7 1.3 101.1 1.5-84.5 1.7 89.3 1.6-103.6 1.5 70.1 1.8-81.6 1.1 96.5 1.6-117.8 1.8 151.8 1.4-152.7 1.1 134.2 1.2-110.8 1.6 123.5 1.6-109.6 1.3 104.3 1.4-125.1 1.6 116.5 1.4-108.6 1.6 115.4 1.8-96.2 1.2 116.2 1.5-155.8 1.6 119.7 1.7-87 1.2 112 1.6-98.3 1.3 54.3 1.3-57.3 1.1 110.1 1.5-158.7 1.3 152.9 1.5-137.4 1.8 139.2 1.6-111.3 1.2 111.1 1.3-116.9 1.3 88.2 1.7-89.5 1.5 111.8 1.7-134.3 1.6 120.1 1.7-125.8 1.7 102.9 1.6-98.7 1.2 142.3 1.2-108.7 1.3 75.9 1.7-84.2 1.8 120.8 1.8-151.4 1.6 149.6 1.8-110.4 1.2 105.1 1.4-137.2 1.3 138.5 1.2-127.1 1.4 125.6 1.4-97.2 1.2 81.6 1.7-96.9 1.8 96.1 1.5-85.3 1.2 94.1 1.2-134.4 1.3 114.3 1.2-119.5 1.5 102.7 1.2-70.8 1.6 96.5 1.4-129 1.2 148 1.8-137.4 1.6 142.9 1.4-134.5 1.2 91.4 1.3-64 1.7 90.5 1.2-138.2 1.2 156.2 1.4-101.3 1.8 95 1.1-123.7 1.3 80.2 1.6-81.5 1.2 114.7 1.7-117.4 1.2 107.4 1.2-125.6 1.8 123.4 1.2-90.4 1.5 69.5 1.1-87 1.4 121.7 1.5-129.4 1.5 136.5 1.6-150.9 1.6 141.2 1.7-125.4 1.5 111.3 1.7-80.8 1.7 96.3 1.6-143.5 1.3 116.7 1.2-102.2 1.7 103.5 1.7-98 1.2 141.1 1.7-134.3 1.6 121.8 1.4-102.3 1.8 97.3 1.1-112.3 1.3 124.5 1.5-130.2 1.4 85.1 1.4-84.7 1.2 101 1.5-68.4 1.5 97.1 1.7-112.6 1.6 93.5 1.2-119.4 1.5 140 1.5-115.4 1.7 122.5 1.7-119.6 1.7 98.2 1.4-116.6 1.4 127.9 1.3-93.5 1.6 77.7 1.8-124.2 1.5 142.9 1.3-127.6 1.2 124.5 1.7-105.1 1.6 73.7 1.4-112.8 1.7 106.4 1.6-93 1.7 139.5 1.4-123.3 1.7 81.5 1.7-114.6 1.7 125.7 1.4-119.3 1.4 136.4 1.1-135.5 1.6 109.1 1.4-85.9 1.1 93.4 1.2-127.1 1.6 154.4 1.6-97.4 1.7 54.4 1.2-79.5 1.3 107.5 1.3-95.3 1.3 108.3 1.5-135.4 1.3 137 1.5-148.8 1.7 131.4 1.2-134.7 1.1 104.3 1.6-80.2 1.8 91.1 1.6-119.1 1.2 140.3 1.2-122.6 1.2 130.5 1.7-133.8 1.3 146.1 1.3-137 1.5 80.3 1.5-81.8 1.7 88.6 1.1-107.6 1.8 103.4 1.5-59.7 1.1 70.5 1.2-113 1.6 139.8 1.7-87.6 1.6 104.8 1.2-158.3 1.1 145.9 1.6-112 1.2 105.3 1.3-110.3 1.3 124.4 1.2-118.3 1.5 117.8 1.7-153.8 1.5 138.4 1.2-104.5 1.6 121 1.7-139.9 1.2 124.6 1.6-130.9 1.4 119.2 1.2-126.1 1.7 125.3 1.8-127.8 1.7 135.4 1.2-125 1.8 141.5 1.6-127.1 1.7 118.8 1.2-93.3 1.6 95.3 1.4-96.7 1.6 76.9 1.3-82.6 1.3 72 1.3-91.9 1.1 78.6 1.6-103.2 1.8 128.5 1.6-112.3 1.7 85.9 1.3-82.3 1.8 121.5 1.4-109.5 1.4 127.6 1.4-131.9 1.1 82.5 1.7-110.4 1.3 149.4 1.5-91 1.3 52.4 1.3-66.2 1.3 83.5 1.4-119.3 1.7 97.5 1.2-103.5 1.3 113.5 1.2-64.4 1.3 87.7 1.2-136.1 1.6 152.4 1.4-141.4 1.4 126.6 1.5-101.6 1.4 110.2 1.1-131.2 1.2 138.3 1.2-103.9 1.8 62.2 1.7-76.3 1.7 93.7 1.3-116.7 1.3 138.2 1.5-146.3 1.6 142.7 1.2-138.1 1.8 97.9 1.7-69.5 1.5 62.8 1.7-80.7 1.6 89.1 1.4-68.4 1.5 110.6 1.3-146.6 1.6 141.7 1.2-93.9 1.3 94 1.4-98 1.8 80 1.6-115.3 1.6 134 1.7-137 1.2 149.3 1.6-111.7 1.7 75.6 1.7-122.2 1.8 152 1.2-146.7 1.5 124.5 1.6-81.8 1.4 71.4 1.8-78.3 1.5 98.1 1.7-92.7 1.2 101 1.6-107.6 1.2 105.1 1.5-109.4 1.5 103.6 1.5-109.6 1.5 72.1 1.2-103.8 1.5 144.7 1.3-128.5 1.8 114.4 1.7-133.2 1.4 140.7 1.8-135.2 1.6 118.1 1.4-92.6 1.5 113.1 1.4-108.6 1.3 116.5 1.5-150 1.1 101.3 1.3-49.9 1.3 103 1.1-153.3 1.5 153.1 1.6-140 1.5 130.2 1.7-123.6 1.3 127.7 1.1-101.1 1.3 71.1 1.7-77.5 1.7 103 1.5-112.3 1.1 104.6 1.6-117.5 1.2 142.4 1.6-157.5 1.7 142 1.5-103.1 1.4 68.5 1.6-82.7 1.1 83.9 1.4-100 1.7 112.6 1.6-108.7 1.4 108.9 1.5-97.6 1.4 130.4 1.1-110.2 1.6 112.2 1.6-157 1.4 148.5 1.8-98.7 1.5 97.1 1.7-120.2 1.6 77.1 1.2-103.7 1.1 128 1.3-109.4 1.3 121.7 1.1-93.3 1.7 94.1 1.2-146.1 1.3 165.1 1.2-124 1.4 86.2 1.4-85.5 1.8 74.3 1.3-114.7 1.8 133.2 1.6-125.4 1.2 115.4 1.8-116.5 1.6 150 .2-146.6" stroke="#009e73" stroke-width="1.15" fill="none" stroke-linejoin="round" clip-path="url(#cBR)"/><path d="M1234 691.7l1.7 68.5 1.7-72.7 1.3 88.3 1.6-67.9 1.3 90.6 1.5-128.7 1.6 113.9 1.6-104.2 1.2 86.8 1.4-72.9 1.7 89.9 1.2-78.5 1.1 94.3 1.1-127.2 1.4 126.2 1.1-92 1.6 58.9 1.1-91.4 1.5 97.2 1.5-86.3 1.2 123.4 1.4-133.3 1.1 107.5 1.2-109.3 1.6 105.9 1.7-90.6 1.2 120.3 1.6-143.3 1.5 120.2 1.1-100.2 1.2 82.9 1.1-66.4 1.6 96.1 1.6-127.2 1.5 118.4 1.1-137.4 1.2 113.5 1.7-107.4 1.2 111.5 1.5-103.6 1.2 141.5 1.7-135.5 1.4 122 1.7-104.2 1.5 107.8 1.3-141.7 1.7 134.6 1.3-137.2 1.2 113.7 1.2-90.9 1.5 99.9 1.5-77.1 1.5 103.3 1.4-113.2 1.7 87 1.5-77.5 1.2 114.1 1.7-113.1 1.4 85.5 1.1-103 1.4 102.6 1.3-101.4 1.8 117 1.2-111.6 1.3 116.6 1.3-137 1.3 128 1.1-130.8 1.3 99.2 1.7-105.9 1.2 114.5 1-63.7 1.8 70.8 1.2-101.6 1.2 84.7 1.3-88.8 1.6 138.8 1.6-166.1 1.4 113.5 1.1-69.2 1.6 67.9 1.5-74.2 1.3 118 1.2-95.7 1.2 86.4 1.6-145.3 1.7 122.1 1.7-105.9 1.2 91.9 1.6-55.9 1.1 62.7 1.6-116.2 1.7 144.5 1.2-115.8 1.7 120.9 1.3-106.2 1.6 107.2 1.4-97.9 1.7 106.8 1.7-113.8 1.1 91.2 1.2-91.5 1.7 103.9 1.3-139.2 1.3 133.7 1.1-117.4 1.7 123.3 1.4-96.7 1.2 105.9 1.5-159 1.2 123.6 1.4-67.5 1.4 52.8 1.4-61.8 1.2 67.4 1.6-70.8 1.7 97.7 1.1-88.6 1.3 93.7 1.2-108.9 1.4 108.2 1.3-98.3 1.6 61.8 1.4-72.7 1.3 92.8 1.7-99.9 1.3 126.5 1.2-144.9 1.6 141.6 1.2-98.2 1.6 54.4 1.4-73.6 1.5 115.9 1.8-108.9 1.1 111.6 1.5-149.3 1.2 160.8 1.3-122.8 1 123.4 1.1-145.6 1.1 145.4 1.1-123.1 1.7 90.6 1.4-111.4 1.5 126.4 1.8-140.1 1.1 150.3 1.7-144.4 1.4 119 1.1-111.3 1.5 127 1.7-110.8 1.4 100.3 1.4-95.1 1.5 123.8 1.6-162.5 1.4 150.8 1.7-116.1 1.4 81.7 1.7-105.3 1.1 138.5 1.4-124.9 1.3 103.2 1.4-90.3 1.7 113.3 1.4-117.3 1.7 97.7 1.4-114.4 1.7 120.4 1.7-96.8 1.4 90.5 1.3-85 1.2 94.9 1.5-127.2 1.2 142.8 1.4-160.6 1.2 163.6 1.7-142 1.6 139.1 1.7-109.3 1.2 71.4 1.7-122.9 1.4 121.2 1.1-68.9 1.7 91 1.6-105 1.7 112.8 1.3-120.2 1.1 90.3 1.5-80.3 1.1 78.6 1.5-64.2 1.7 55.8 1.2-67.6 1.5 122.9 1.3-164.8 1.2 112.5 1.6-83 1.7 120.9 1.5-139.7 1.4 131.2 1.1-111.4 1 106.4 1.1-88.9 1.5 113 1.7-127.6 1.2 113.3 1-94.3 1.6 93.6 1.2-122.9 1.7 109.9 1.1-86.4 1.6 103.1 1.6-118.3 1.5 134 1.8-160.2 1.5 149 1.7-124.4 1.3 130.6 1.1-160.3 1.5 136.9 1.7-102.1 1.2 75.6 1.2-105.1 1.8 133.8 1.4-110.8 1.8 98.2 1.2-127.6 1.5 133.2 1-102.9 1.3 122.7 1.5-153.2 1.1 126.2 1.8-98.6 1.4 119.5 1.2-127.8 1.4 143.8 1.1-149.6 1.1 102.2 1.6-109.4 1.3 150.9 1.6-101.5 1.7 79.1 1.1-121.9 1.3 102.7 1.7-114.3 1.6 120.7 1.2-101.8 1.7 131.5 1.4-119.2 1.3 101.6 1.2-99.3 1.7 101.9 1.2-129.4 1.4 134.9 1.3-123.8 1.4 91.9 1.2-104.3 1.6 151.4 1.2-116 1.7 116.9 1.4-98 1.6 58.3 1.6-115.9 1.5 119.7 1.4-112.7 1.5 99.5 1.4-109.8 1.7 149.3 1.5-115.5 1.2 102.4 1.1-135.4 1.3 123.9 1.5-122.6 1.2 143.6 1.2-139.5 1.7 104.4 1.7-102.8 1.4 154.2 1.4-111.1 1.1 97.2 1.5-141.1 1.7 117.4 1.2-122 1.1 157.6 1.1-105.3 1.4 91 1.1-87.1 1.7 85.5 1.6-111.5 1.5 127.7 1.7-111.2 1.2 112.7 1.7-120.5 1.1 95.8 1.6-76.6 1.2 48 1.5-89.4 1.5 88.5 1.7-50.8 1.5 107.3 1.7-156.5 1.2 156.9 1.5-156 1.1 147.4 1.3-107.7 1.1 83.5 1.1-86.3 1.7 96.7 1.5-113.8 1.4 95.9 1.2-119.8 1.4 153.6 1.3-125.8 1.5 108.4 1.2-98.9 1.2 99.8 1.5-139.1 1.5 155 1-106 1.5 73.3 1.5-83.8 1.7 98.9 1.4-95.6 1.7 113.7 1.4-124.3 1 75.4 1.7-88.6 1.5 147.3 1.7-146.5 1.1 109.4 1.7-72.8 1.6 53.5 1.8-53.1 1.4 49.3 1.3-97.9 1.1 110.6 1.2-119 1.5 161.3 1.3-148.1 1.1 124.4 1.7-104.3 1.7 96.4 1.5-104.8 1.4 136.7 1-157.4 1.6 151.2 1.3-137.4 1.6 94.9 1.2-94.6 1.3 109.4 1.4-89.5 1.5 111.5 1.5-121 1.4 137.1 1.3-157.1 1.1 134.7 1.4-126.9 1.4 145.9 1.5-155.5 1.6 154.3 1.3-148.3 1.3 97.1 1.7-93.4 1.1 113.1 1.7-87 1.5 115.1 1.4-105.2 1.4 84.1 1.3-110 1.2 124.4 1.3-105.5 1.7 97.1 1.3-104.4 1.4 95.4 1.5-106 1.7 82.4 1.6-83.8 1.2 97.8 1.6-118.2 1.7 156 1.5-150 1.2 145.4 1.6-148.3 1.3 142.8 1.2-97.1 1.4 91.7 1.7-131 1.4 95 1.1-96.1 1.7 147 1.1-149.5 1.2 138.6 1.5-116.2 1.2 129.8 1.1-138.4 1.3 140.8 1.1-118.9 1.4 118.8 1.5-107.1 1.5 80.7 1.7-95.1 1.3 105.9 1-121.6 1.7 129.3 1.3-140.5 1.3 130.1 1.6-118.2 1.7 95.6 1.1-124.7 1 126.4 1.2-101.4 1.7 130.5 1.3-148.7 1.4 159.2 1.5-153.9 1.6 105.7 1.3-121.2 1.7 136.9 1.1-112 1.5 107.4 1.4-112.7 1.4 87.6 1.6-107.2 1.1 121 1.2-83 1.4 131.1 1.7-163.2 1.4 152.7 1.5-119.3 1.5 117.1 1.7-144.4 1.5 111.2 1.6-110.9 1.6 144.3 1.5-109.1 1.2 88.4 1.7-112 1.7 141 1.6-116.5 1.8 90.9 1.6-126.3 1.1 124 1.1-77.7 1.3 100.7 1.6-117.4 1.4 89.3 1.2-77 1.1 105.5 1.6-160.3 1.6 160.7 1.6-106.1 1.1 101.6 1.6-143.3 1.3 103.3 1.7-110.3 1.5 141.4 1.6-132.6 1.2 130.3 1.5-122.5 1.3 147.1 1.7-117.7 1.6 73.1 1.6-75.9 1.2 73.6 1.4-107.9 1.6 151.1 1.4-115.5 1.3 95.3 1.2-126.7 1.6 143.4 1.5-148 1.2 154.6 1.7-138 1.7 116.9 1.1-95.3 1.7 110.5 1.1-129.7 1.2 115.8 1.7-141.9 1.5 129.4 1.4-108.4 1.7 107.4 1.2-98.8 1.3 115 1.6-111.1 1.4 77.2 1.4-69.8 1.1 75.5 1.2-83.2 1.6 125.1.1-125.8" stroke="#56b4e9" stroke-width="1.15" fill="none" stroke-linejoin="round" clip-path="url(#cBR)"/><path d="M1234 688.3l1.6 71.7 1.1-91.4 1.3 81.2 1.5-66.1 1.1 61.4 1.7-54.1 1.4 72.8 1.4-71.9 1.2 56.3 1.2-76.4 1.4 55.1 1.1-54.4 1.5 74.5 1.3-84.7 1.2 76 1.4-69 1.3 93.2 1.2-102.6 1.3 92.2 1.7-83.6 1.5 81.1 1.8-95.6 1.6 94.7 1.6-58 1.3 72 1.4-84.8 1.5 78.2 1.2-86 1.7 63.7 1.8-73.1 1.2 87 1.5-96 1.4 96.1 1.8-92.8 1.2 88.9 1.4-71.5 1.7 103.8 1.3-125.6 1.7 106.8 1.6-87.3 1.1 105.7 1.7-113 1.5 68.5 1.7-60 1.2 87.8 1.4-72.1 1.3 50.3 1.2-71.8 1.1 96.1 1.3-92.5 1.5 94.1 1.5-90.6 1.3 87.2 1.6-113.9 1.2 120.5 1.1-83.5 1.2 78 1.5-67 1.4 42.5 1.8-73 1.7 80.9 1.1-65.6 1.2 97.1 1.7-99.6 1.8 98.2 1.4-94.3 1.5 67.3 1.4-105 1.4 138.7 1.6-132.8 1.2 129.5 1.8-114.8 1.7 118.1 1.3-102.3 1.7 84.8 1.1-120.8 1.7 107.1 1.4-89.2 1.2 94.4 1.1-87.2 1.3 76.3 1.1-103 1.1 93.9 1.2-70.5 1.7 78.6 1.5-95.4 1.7 99.5 1.4-68.3 1.7 96.2 1.2-114 1.1 108 1.4-89.3 1.1 102.8 1.6-118.1 1.4 90.4 1.4-101.2 1.5 127 1.3-93.9 1.2 94.5 1.4-97.6 1.6 99.5 1.8-143 1.1 103.2 1.8-89.2 1.2 121.7 1.1-121.9 1.3 79.1 1.3-61 1.7 102.4 1.4-128.1 1.2 133.1 1.3-139.9 1.4 113.9 1.7-94.4 1.5 96.7 1.2-89.6 1.6 74.9 1.4-100.8 1.3 112.9 1.2-116.3 1.7 147.1 1.2-136.2 1.4 136.9 1.4-146.9 1.7 117.3 1.3-99.6 1.3 116 1.4-118.1 1.4 100.7 1.7-65.8 1.4 71.9 1.4-99.3 1.3 108 1.4-81.2 1.4 97.5 1.2-139.5 1.1 119.8 1.2-106.6 1.3 114.1 1.7-138.6 1.8 108.3 1.2-78.2 1.8 95.8 1.8-125.9 1.2 154.8 1.8-149.3 1.4 107.9 1.2-114.6 1.2 120.9 1.1-84.7 1.3 100.9 1.7-124.9 1.8 143.6 1.8-114.1 1.3 112.6 1.8-150.8 1.7 121.8 1.5-83.1 1.4 62.9 1.4-81 1.3 88.2 1.3-94 1.7 112.2 1.4-79.4 1.2 99.2 1.3-109 1.7 112.9 1.2-115 1.4 80.9 1.3-94.5 1.5 104.6 1.6-132 1.3 93.9 1.1-100.7 1.1 78.6.7-72.8.7 46.7.7-51 .7 49.3.4-46.7.7 38.5.7-39.5.5 48.7.6-50.1.7 56.2.5-52.7.6 56.9.5-50.2.4 53.8.7-70.5.5 70.9.5-70.1.6 72.1.5-68.8.5 68.8.7-62 .5 46.5.6-54.5.4 65.8.6-65.7.6 68.6.7-66.8.6 64.2.6-69.3.6 52.7.7-51.6.5 57.4.8-39.6 1 101.9.9-111.8 1.1 117.7 1.5-64.5 1.2 81.6 1.1-88.1 1.2 109.5 1.2-124.4 1.6 95.6 1.3-75.3 1.3 106.7 1.8-133.6 1.4 138.4 1.6-156.6 1.8 131 1.5-120.2 1.6 130 1.4-97.5 1.7 77.1 1.4-113.6 1.6 100.6 1.5-78.4 1.2 94 1.1-101.5 1.1 122.9 1.5-146.5 1.8 124.4 1.5-80.7 1.1 120.7 1.5-167.5 1.2 165.5 1.6-139.3 1.6 84.1 1.2-77.4 1.1 130.9 1.9-168.8 1.7 152.2 1.5-131.5 1.4 100.4 1.7-115.2 1.6 153.1 1.7-144.8 1.7 130.1 1.2-117.3 1.7 137.7 1.8-149.1 1.1 162.3 1.2-170.5 1.5 158.9 1.2-138.9 1.5 132.3 1.4-150.5 1.6 130.1 1.7-110.6 1.4 126.4 1.1-98.7 1.8 95.4 1.5-149.4 1.2 150.1 1.4-150.6 1.1 126.9 1.4-79 1.1 117.4 1.6-173.1 1.2 187.6 1.4-148.4 1.1 141.2 1.4-124.5 1.8 69.6 1.5-100.6 1.2 95.7 1.8-69.1 1.8 78 1-124.7 1.4 169.1 1.3-142.6 1.4 146.4 1.5-173.8 1.1 185.6 1.4-160.6 1.2 95.7 1.2-78.8 1.7 101 1.7-78.6 1.4 73.3 1.4-87.6 1.6 113 1.8-123 1.6 126.5 1.5-162.3 1.6 114.8 1.7-111.6 1.8 156.7 1.1-165.3 1.5 153.8 1.5-155 1.1 183.4 1.8-177.8 1.8 162 1.7-142.9 1.4 139.2 1.5-96.7 1.4 57.5 1.8-91.3 1.6 107.1 1.3-119.7 1.3 142.1 1.3-113.4 1.6 124.7 1.4-130 1.3 110.9 1.3-115.1 1.3 91.2 1.4-109.3 1.5 143.6 1.8-163.1 1.6 176.9 1.5-151.1 1.2 145.9 1.5-162.6 1.2 153.9 1.5-154.5 1.6 169.3 1.4-173.6 1.3 179.1 1.1-186.4 1.6 119.4 1.7-73.2 1.2 73.6 1.3-117.7 1.5 161 1.5-158.5 1.3 163.5 1.6-111.4 1.5 72.6 1.6-127 1.2 187.1 1.4-132.6 1.3 88 1.6-90.7 1.4 96.7 1.6-148.7 1.2 170.1 1.8-131.8 1.3 117.9 1.6-120.9 1.4 139.7 1.4-171.4 1.6 166.6 1.7-133.5 1.4 136.9 1.3-125.5 1.4 124.4 1.4-141.2 1.7 97 1.7-102.6 1.7 150.7 1.4-176.8 1.2 136 1.5-132.8 1.5 144.1 1.2-101.9 1.8 92.9 1.2-76.5 1.1 96 1.3-127.7 1.1 157.1 1.2-138.1 1.4 112.4 1.2-150.9 1.2 174.3 1.1-148.2 1.6 140 1.6-164.5 1.3 131.6 1.3-86.9 1.1 128.1 1.7-168.9 1.2 151 1.4-112.9 1.2 114 1.5-171.3 1.2 188.5 1.7-139.6 1.2 115.9 1.6-155.7 1.6 127.7 1.2-107.9 1.3 107.7 1.6-90.8 1.3 88.7 1.4-84.4 1.8 115.8 1.7-132.7 1.6 126.3 1.7-136.7 1.2 166.3 1.8-162.9 1.6 139.5 1.1-150.9 1.4 145.3 1.5-124.3 1.6 145.2 1.6-181.7 1.2 151.5 1.4-112.6 1.7 135.8 1.2-126.3 1.6 125.9 1.2-138.1 1.6 94.6 1.6-94.2 1.8 138.6 1.2-145 1.7 127.4 1.2-102.6 1.8 113.8 1.6-132.4 1.7 89.4 1.2-103.2 1.7 99.9 1.6-59.4 1.4 113.9 1.2-165.8 1.2 143.1 1.5-124.5 1.5 158.4 1.1-184.8 1.4 187.9 1.3-189.5 1.7 141.4 1.5-136.1 1.3 174.6 1.3-138 1.3 133.2 1.3-133.5 1.4 84.4 1.6-57.2 1.5 120.9 1.5-191.9 1.1 183.7 1.8-127.9 1.2 83.5 1.1-106 1.7 152.2 1.2-128.6 1.3 93.7 1.3-121.9 1.6 150.5 1.7-127.9 1.3 89.7 1.5-114.5 1.5 152.9 1.2-109.7 1.4 77.1 1.4-100.4 1.5 146.8 1.6-166.7 1.3 124 1.3-142.9 1.1 160.6 1.4-160.1 1.1 174.6 1.1-162.6 1.8 134.2 1.1-96.5 1.8 79 1.6-93.1 1.6 92.7 1.3-118.9 1.6 120.2 1.1-138.4 1.2 174.3 1.4-149.7 1.4 110.6 1.7-88.3 1.1 112.4 1.5-145.1 1.1 123.5 1.2-111.7 1.8 147.8 1.7-124.9 1.3 134.5 1.3-161.9 1.2 136.6 1.3-118.4 1.4 101.6 1.8-96.3 1.2 128 1.8-165.4 1.1 144.1 1.8-136.1 1.7 149.2 1.7-159.9 1.6 121.1 1.8-86.4 1.4 112.2.3-95.3" stroke="#e69f00" stroke-width="1.15" fill="none" stroke-linejoin="round" clip-path="url(#cBR)"/><path d="M1234 691.1l1.2 70.4 1.5-77.4 1.4 56.9 1.7-68.8 1.4 81 1.7-80.9 1.2 89.3 1.2-86.5 1.2 82 1.6-86.6 1.4 87.7 1.7-89 1.5 68.3 1.3-71.3 1.4 82.7 1.2-78.6 1.3 77.8 1.2-81.1 1.3 89.5 1.5-83.7 1.5 91.4 1.7-73.7 1.4 73.9 1.7-91.4 1.2 92.2 1.5-98.7 1.6 88.2 1.4-82.1 1.3 63.5 1.6-53 1.2 86.4 1.7-81.4 1.7 54.9 1.3-54 1.7 84.9 1.3-95.6 1.6 87.8 1.5-105.6 1.7 106.4 1.7-92.6 1.7 95.4 1.1-100.7 1.8 84.7 1.5-60.4 1.5 63.2 1.3-64.7 1.5 80.8 1.2-115.8 1.6 100.3 1.2-112 1 112.8.7-124.3.9 127.1.7-110.4.9 126.2.6-128 .7 153.6.7-108.4.7 71.5.7-122.3.7 114.3.7-114.2.7 106.3.7-62.4.8 100.8.7-118.1.6 130.7.7-156.8.6 153.4.7-168.2.9 124.4.8-112.9.8 140.5.7-122.9 1 121.2.8-140.5.6 138.4.6-136.7.9 154.2.7-159.9.8 118.7.7-119 .9 158.8.6-122.1.8 81.6.7-85 .9 97.9.9-88.5.8 117.6.8-127.7.8 110 .7-125.9.6 123.3.7-138.3.9 152.4.9-123.8.9 136.2.6-155.7.9 118 .9-124.6.7 144.7.9-109 .8 86.1.7-120.6.7 139.1.8-110 .8 104.5.9-101.3.6 109.3.8-103.8 1 98.3 1.4-87.1 1.2 93.9 1.1-130.9 1.7 102.7 1.2-92.2 1.2 78.2 1.6-66.6 1.6 74.8 1.3-70.5 1.2 93 1.1-102.4 1.6 89.6 1.8-99.7 1.4 115 1.6-85.3 1.2 72.6 1.4-67.6 1.4 88.3 1.3-129.2 1.6 105.2 1.6-87.3 1.1 110.7 1.5-108 1.3 65.4 1.3-51.8 1.4 76.2 1.4-101.7 1.4 94.5 1.6-68.1 1.5 85.2 1.3-78.7 1.1 69.6 1.3-75.6 1.3 92.2 1.8-107 1.7 108.8 1.3-116.2 1.6 83.7 1.8-51.6 1.4 77.4 1.7-113.7 1.5 92.8 1.7-92.5 1.6 78 1.2-54.1 1.5 79.6 1.7-104.5 1.4 84.3 1.5-79.2 1.5 85.6 1.4-75 1.6 105.9 1.7-125.7 1.5 81.1 1.2-46.7 1.7 73.4 1.2-71.7 1.4 83.7 1.3-90 1.6 91.2 1.8-111.7 1.2 82.9 1.6-59.1 1.2 66.6 1.6-106 1.2 123.9 1.6-109 1.3 70.8 1.2-74.4 1.3 88.5 1.4-100.8 1.6 108.1 1.3-65 1.4 50.2 1.1-65.2 1.6 72.7 1.5-63.1 1.3 73.2 1.6-72.6 1.7 63.2 1.5-94.2 1.2 126.4 1.2-102.2 1.8 57.9 1.3-66.8 1.4 98 1.5-102.4 1.4 99.3 1.3-85.1 1.3 77.2 1.4-66.9 1.3 75.6 1.7-85.7 1.2 92.9 1.2-79.8 1.3 77.7 1.8-109.8 1.2 109 1.6-112.3 1.8 112.3 1.2-93.9 1.3 85 1.4-66.9 1.1 77.8 1.3-108.7 1.3 77.5 1.8-70 1.7 96.9 1.3-106.4 1.4 79.6 1.2-61.5 1.3 64.5 1.8-58.3 1.1 91.1 1.7-120.4 1.3 94.8 1.5-100.3 1.1 90.4 1.4-62.7 1.6 60.4 1.2-87.7 1.6 101.1 1.4-87.6 1.7 103.7 1.5-112.1 1.2 103.2 1.3-108.6 1.7 104.2 1.4-84.4 1.5 95.4 1.7-79.7 1.2 80.6 1.5-98.6 1.2 103.9 1.2-86.5 1.8 49.8 1.3-50.4 1.5 77.7 1.3-68.1 1.6 46.1 1.3-55.1 1.4 82.2 1.4-98.2 1.6 81.5 1.8-89.9 1.7 105.5 1.3-117.1 1.3 104.8 1.4-90.8 1.4 112.8 1.4-121.4 1.3 121 1.4-117.6 1.1 108.2 1.7-88.5 1.8 59.2 1.7-57.9 1.6 66.1 1.3-64 1.3 78.9 1.5-93.4 1.5 91.5 1.7-90.2 1.1 111.2 1.1-101.1 1.2 99.3 1.1-100.1 1.5 77.1 1.2-86.2 1.5 105.7 1.3-121.8 1.8 121.9 1.6-85.4 1.7 73.7 1.3-111.8 1.1 120.1 1.8-111.3 1.1 78.2 1.6-63.9 1.7 96.9 1.4-105.5 1.1 86.5 1.2-93.7 1.5 126.6 1.2-117.8 1.4 102.7 1.2-105.4 1.6 98.7 1.7-94.6 1.2 89.5 1.5-115.1 1.3 112.3 1.3-94.7 1.1 88.4 1.8-90.6 1.2 115.3 1.7-125.7 1.1 97.9 1.8-98.8 1.4 136.8 1.4-93.1 1.3 65.9 1.6-61.7 1.5 65.3 1.6-100 1.5 118.1 1.6-108.6 1.3 116.6 1.6-121.6 1.6 81.8 1.4-104.8 1.3 141 1.5-141.2 1.7 128.9 1.7-76.1 1.1 86.7 1.5-92.3 1.4 96.2 1.4-132.7 1.6 110.8 1.4-110.5 1.7 129.2 1.6-137.5 1.3 140.4 1.5-124 1.8 120.2 1.3-104.2 1.1 95.4 1.1-109.2 1.7 96.9 1.6-86.1 1.5 73.5 1.7-76 1.4 89.1 1.1-95.3 1.6 97.8 1.2-104.5 1.5 110.9 1.4-95.7 1.6 98.4 1.4-79.5 1.3 56.6 1.1-96.2 1.2 117 1.8-89.5 1.4 71.7 1.8-81.8 1.4 87.7 1.7-72.8 1.8 94.4 1.1-127.1 1.8 92.2 1.4-58.3 1.7 97.2 1.4-123.4 1.5 84.4 1.7-65.8 1.7 108.3 1.5-93.2 1.1 57.9 1.4-107.3 1.1 127 1.5-97.7 1.4 64 1.5-71.4 1.3 89.9 1.2-81.7 1.8 93 1.5-104 1.3 114.8 1.4-105.1 1.7 86.2 1.8-91.5 1.6 109.3 1.7-127.6 1.6 122.5 1.5-116.9 1.7 88 1.5-73.6 1.5 79.9 1.2-94.1 1.4 115.6 1.4-90.4 1.5 97 1.5-131.8 1.7 98.6 1.5-97.2 1.8 99.1 1.6-72.1 1.8 97.4 1.5-104 1.6 85.2 1.1-85.6 1.3 77.5 1.3-70.5 1.3 78.9 1.4-99.9 1.8 85.3 1.8-94 1.7 92.9 1.5-69.2 1.5 78.7 1.6-70.5 1.6 89.3 1.2-117.5 1.3 120.5 1.6-101.8 1.1 89.4 1.5-70.6 1.6 93.8 1.1-125 1.7 123.3 1.8-97.7 1.8 78.7 1.8-81 1.5 107.2 1.3-116.9 1.4 102 1.6-106.4 1.4 107 1.6-109.4 1.1 124.3 1.8-142.8 1.2 137.3 1.5-109 1.8 109.8 1.2-103.4 1.5 80.9 1.7-106.3 1.5 133.4 1.6-101.4 1.5 54 1.4-94.8 1.2 108.9 1.5-90.3 1.8 110 1.2-129.4 1.3 96.8 1.1-72.6 1.2 92.2 1.8-104.8 1.6 103.8 1.5-85.3 1.7 76 1.6-86.5 1.2 119 1.8-122.5 1.2 120.8 1.1-92.2 1.3 85.1 1.2-83.4 1.3 60.4 1.1-94.2 1.8 108.3 1.5-108.9 1.7 96.6 1.7-97.2 1.7 88.7 1.3-72.5 1.7 98.3 1.5-122.2 1.3 124 1.8-111.7 1.7 91.6 1.4-91.3 1.2 90.3 1.7-93 1.7 131.4 1.3-137.7 1.8 126 1.8-112.6 1.5 102.5 1.4-97.5 1.2 116 1.3-118.5 1.8 103.1 1.3-102.8 1.5 81.1 1.5-82.4 1.6 122.2 1.2-137.2 1.8 118.3 1.4-106.5 1.6 125.7 1.6-125.6 1.7 115.2 1.8-111.5 1.8 104.9 1.7-100 1.3 112.3 1.5-129.4 1.8 124 1.3-118 .9 77.1" stroke="#f0e442" stroke-width="1.15" fill="none" stroke-linejoin="round" clip-path="url(#cBR)"/><path d="M1234 694.3l.8 29.5.9-23.5.6 50.8 1-53.4.6 38.8.6-57.9.9 49.2.6-52.5.8 86.4 1-74.4 1 44.1.8-38.6.7 46.3.8-69.7.7 84.4.8-57.3.9 40.8.6-56.9 1 56.4.8-49.2.6 76.1.7-121.5 1 136.6 1-84.9.6 47.5.9-54.3 1 52.5.9-54.3.8 103.1.7-102.4 1 46.6 1-41.2.9 59.1.9-64 .8 43.9.9-86.9.7 138.1.6-110 .7 107.1.9-143.4.9 138.3.9-78.2.8 35.1.7-50.9.7 84.3.9-121.1.9 96 .8-43.4.9 35.1.8-51.1 1 55.4.8-50 .8 49.7.9-39.7.9 53.5.9-61.6.7 68.8.9-60.4 1 53.9 1-53.5 1 34.6.7-39.2 1 66.2 1-75.9.9 59.5.8-61 .7 85.2 1-74.4 1 77.1 1.1-106.1 1 101.6 1-77.9 1 87.2 1-85 .9 64.4.9-88 .7 78.1.8-98.6.8 128.4.8-84.4 1 75.3.9-72.8 1 40.1.9-35.3 1 36.7.7-48.7 1 59.8.8-69.8 1 59.5.8-42 .8 58.8 1-55.4.8 71.8 1-71.2.9 53.4.9-84.1 1 125.3.8-111.4 1.1 54.4 1.1-61.2.8 106.6.7-102.3.8 107 1-137.7 1.1 116.5.7-116.2.9 86.6 1-57.9.8 85.3 1-63.8.9 43.9 1.2-43.4.9 63.9 1.1-73.3.9 50.8 1-41.3 1 87.7.9-130.4.9 77.8 1.2-90.5.9 107.5.7-68.8 1 69.4.8-106.8 1.3 112.7 1.1-59.4 1.1 41 1-94.7 1.1 116.9 1-68.7.9 54.2 1.1-94.4 1 88.6 1.2-53.1 1.3 75 .9-83.3.8 53.6 1-47.8 1.1 61.2 1.3-47.6 1 52.5 1.2-111.5 1 93.2 1.2-34.4 1.1 36.9 1.2-36.9 1 63.7.9-95.7 1.1 108.9 1.3-102.7 1 66 1.3-43.6.9 68.3 1.1-107.4 1.2 78.8 1.2-40.8 1.4 49.5 1.1-71.6 1 83.9 1.2-68.9 1.2 71 1.1-73.6 1.5 73.8 1.4-80.3 1.5 98.7 1-106.5 1.4 73.5 1.3-60.5 1.3 51.9 1.3-94.3 1 121.2 1.4-104.5 1.6 86.4 1-46.7 1.2 61.5 1.1-66.3 1.6 63.1 1.5-110.6 1.6 128.6 1.2-129.2 1.1 94.2 1.3-55.1 1.6 78.3 1.6-88.9 1.6 89.4 1.2-97.5 1.6 98.5 1.2-80.8 1.7 63.8 1.7-72.8 1.5 63.3 1.2-51.9 1.1 94.4 1.7-80.6 1.5 36.4 1.2-76.1 1.7 118.8 1.3-124.3 1.8 114.1 1.5-72.6 1.3 60 1.8-99.4 1.7 108.9 1.3-89.8 1.7 94 1.1-105.4 1.1 120.5 1.7-85.2 1.8 66.4 1.5-107.7 1.6 78.6 1.3-65.6 1.3 90.3 1.4-79.3 1.1 71.1 1.2-90.5 1.6 125.7 1.2-110.7 1.3 100.2 1.6-105 1.1 81.9 1.4-94.9 1.4 112.3 1.5-111.3 1.1 95 1.6-94.9 1.2 75.4 1.5-60.8 1.7 72.2 1.5-94.7 1.2 120.9 1.2-123.5 1.6 113 1.4-65.8 1.2 71.3 1.5-112 1.5 102.1 1.4-115.9 1.7 92.4 1.3-55.9 1.5 65.9 1.4-60.8 1.4 84.5 1.5-73.2 1.6 63.6 1.7-111.7 1.2 100.9 1.2-69.2 1.7 101.6 1.6-115.4 1.4 89.1 1.2-59.7 1.4 58.9 1.3-82.6 1.6 110 1.7-84.2 1.1 94.4 1.1-138.5 1.2 114 1.4-97.3 1.1 117.9 1.4-109.6 1.6 115 1.6-152.5 1.5 95.3 1.3-69.1 1.6 114.6 1.2-138.5 1.3 129.6 1.1-128.7 1.5 138.8 1.1-118.8 1.6 112.7 1.1-92.8 1.6 86 1.1-121.6 1.1 117.5 1.5-72.6 1.2 97.4 1.3-93.6 1.6 49.9 1.6-89 1.3 77.4 1.6-91.4 1.4 105.5 1.5-86.3 1.8 98 1.5-66.4 1.6 72.9 1.2-102.3 1.2 79 1.7-51.6 1.2 85.5 1.7-107.8 1.6 90.4 1.8-109.5 1.7 91.4 1.3-43.2 1.2 90.6 1.1-125.8 1.3 75.2 1.4-68.8 1.5 99.3 1.1-78.4 1.5 93.9 1.2-123 1.4 129.8 1.5-129.2 1.4 130.3 1.5-133.4 1.3 79.1 1.6-64 1.6 61.7 1.8-58.4 1 94.8 1.4-110.6 1.1 91 1.4-89.8 1 80.2 1.2-66.8 1.3 94.3 1.4-101.1 1.5 80.3 1.4-70.9 1.7 58.8 1.3-58.4 1.1 64.1 1.6-91.7 1.5 87.1 1.1-72.7 1.2 71.6 1.5-53.8 1.1 40.2 1.3-59.9 1.2 55 1.7-59 1.5 72.9 1.3-71.4 1.3 87.5 1.6-105.2 1.4 95.6 1.5-81.3 1.5 88.9 1.6-49.1 1.2 28.3 1.7-60.7 1.7 84.4 1.4-57.8 1.4 85.7 1.3-62 1.5 65.6 1.3-61.5 1.5 59.8 1.4-73.7 1.3 68.8 1.7-84.3 1.4 63.9 1.5-85.2 1.5 72.1 1.6-76.9 1.5 86.4 1.5-83.5 1.4 42.2 1.6-50.6 1.1 76.5 1.4-75.3 1.5 55.1 1.6-46.1 1.4 74.5 1.6-43.4 1.5 51.4 1.5-47 1.7 65.7 1-69.7 1.6 59.3 1-42.5 1.1 58.2 1.4-44 1.4 46.1 1.4-78.7 1.6 90.8 1.4-63 1.6 30.8 1.4-37.4 1.3 24.4 1.7-49 1.1 52.1 1.7-44.7 1.3 60.2 1.4-65.5 1.4 57.8 1.3-89.7 1.1 58.3 1.4-69.6 1.3 66.4 1.2-61.6 1.3 91 1.2-80.2 1.3 51.5 1.7-25 1.1 30 1.6-23.7 1.1 30.2 1.3-24.8 1.3 44 1.4-48.6 1.6 53.2 1.5-50.9 1.1 73.2 1.4-82.3 1.5 77.4 1.7-61.9 1.7 52.6 1.6-81.4 1.1 83.3 1.1-59.2 1.3 42.7 1.5-56 1.7 31.4 1.2-43.9.9 34 1.3-47.9 1.3 27.2 1.2-32.7 1 47.6.8-57.8.7 44.3.8-42.9.9 62.7 1.3-64.9.8 46.6 1.2-29.2 1.2 24.7.7-22.2.8 23 .9-31.8 1 50.3 1.1-49.1.8 25.7 1-17.6.9 42 .9-60.2.9 54.5 1.1-58.6.8 47.2 1.1-49.3.9 60.4.9-56.4 1.1 52.7.8-40 .8 44.3.9-37.6 1.1 35.6 1-55.9 1 49.7 1.1-46.8.8 58.2 1-59 .8 37.5 1.1-31.2 1.1 46.2 1.2-41.2.8 48.9 1-55.8 1 52.9 1.2-63.8 1 54 1.1-43.9 1 53.7 1.2-47.4.9 35.6.9-31.3 1.1 44.2 1.1-54.2.9 40.1 1-33.2.9 49.3 1.1-42.2 1.2 38.6.9-60.9.9 50.4 1.1-32.5 1 42.3 1-61.2 1 66.6 1.2-63.7 1 58.6.8-61.5.8 60.3 1-46.5.9 47.7 1.3-35.4.8 34.2 1.5-45.9 1.4 70.5 1.6-23.2 1.6 59.8 1.1-64 1.5 77.5 1.8-86.2 1.2 65.6 1.7-74.2 1.1 49.1 1.7-55.2 1.4 61.3 1.4-43.7 1.2 37.9 1.4-46.7 1.2 22.7 1.5-51.6 1.2 52.6 1-51.8 1.2 46.9.8-53.3 1.2 40.3 1.2-32 .8 35.9.8-31 1.2 39.4.9-41.2 1.1 33 1.2-36 1.1 39 1.1-37.8 1 56.3.9-47.3.9 44.5 1.2-62 1 57.8 1-59.2.9 44.3.9-32.9.9 33.5.9-21.7 1 33.4 1.1-36.8.8 24.9.9-33.9 1.1 35.7 1-22.1 1.3 27.4 1.2-42.8 1 54 1.2-51.5.8 42.1 1.2-28 1.3 55.9.9-53.9 1.1 58.3 1-29.9 1.6 83.1 1.5-68.4 1.5 59.9 1.8-61.7 1.5 61.3 1.3-67.1 1.4 35.8 1.7-43 1.3 63.5 1.2-84.9 1.2 61 1.4-49.3 1.2 63.7 1.4-68 1.7 60.7 1.4-82.1 1.7 47.9 1.6-65.7 1.5 60.8 1.4-64 1.7 69.9 1.4-64.4 1.7 61.2 1.7-55.1 1.1 61.6 1.7-48 1.1 47.2 1-76.8 1.1 76 1.1-61.8.4 44.9" stroke="#0072b2" stroke-width="1.15" fill="none" stroke-linejoin="round" clip-path="url(#cBR)"/>
<path d="M181.0 12.0H875.0V822.0H181.0ZM181.0 417.0H875.0" stroke="#000" stroke-width="4" fill="none" stroke-linejoin="miter"/>
<path d="M1234.0 12.0H1927.5V822.0H1234.0ZM1234.0 417.0H1927.5" stroke="#000" stroke-width="4" fill="none" stroke-linejoin="miter"/>
<g font-size="32" fill="#000" stroke="#000" stroke-width="0.5"><text x="185.0" y="864.7" text-anchor="middle">0</text><text x="300.7" y="864.7" text-anchor="middle">0.5</text><text x="416.3" y="864.7" text-anchor="middle">1</text><text x="532.0" y="864.7" text-anchor="middle">1.5</text><text x="647.7" y="864.7" text-anchor="middle">2</text><text x="763.3" y="864.7" text-anchor="middle">2.5</text><text x="879.0" y="864.7" text-anchor="middle">3</text><text x="161.6" y="23.2" text-anchor="end">0.065</text><text x="161.6" y="81.1" text-anchor="end">0.06</text><text x="161.6" y="138.9" text-anchor="end">0.055</text><text x="161.6" y="196.8" text-anchor="end">0.05</text><text x="161.6" y="254.6" text-anchor="end">0.045</text><text x="161.6" y="312.5" text-anchor="end">0.04</text><text x="161.6" y="370.3" text-anchor="end">0.035</text><text x="161.6" y="428.2" text-anchor="end">0.03</text><text x="161.6" y="833.2" text-anchor="end">0</text><text x="161.6" y="792.5" text-anchor="end">0.01</text><text x="161.6" y="751.8" text-anchor="end">0.02</text><text x="161.6" y="711.0" text-anchor="end">0.03</text><text x="161.6" y="670.3" text-anchor="end">0.04</text><text x="161.6" y="629.6" text-anchor="end">0.05</text><text x="161.6" y="588.9" text-anchor="end">0.06</text><text x="161.6" y="548.2" text-anchor="end">0.07</text><text x="161.6" y="507.4" text-anchor="end">0.08</text><text x="161.6" y="466.7" text-anchor="end">0.09</text></g><g font-size="40" fill="#000" stroke="#000" stroke-width="0.6"><text x="528.0" y="915.2" text-anchor="middle">Time in Myr</text><text transform="translate(28.4 214.5) rotate(-90)" text-anchor="middle">Eccentricity</text><text transform="translate(48.5 619.5) rotate(-90)" text-anchor="middle">Inclination (°)</text></g>
<g font-size="32" fill="#000" stroke="#000" stroke-width="0.5"><text x="1238.0" y="864.7" text-anchor="middle">0</text><text x="1353.6" y="864.7" text-anchor="middle">0.1</text><text x="1469.2" y="864.7" text-anchor="middle">0.2</text><text x="1584.8" y="864.7" text-anchor="middle">0.3</text><text x="1700.3" y="864.7" text-anchor="middle">0.4</text><text x="1815.9" y="864.7" text-anchor="middle">0.5</text><text x="1931.5" y="864.7" text-anchor="middle">0.6</text><text x="1214.6" y="23.2" text-anchor="end">0.04</text><text x="1214.6" y="81.1" text-anchor="end">0.035</text><text x="1214.6" y="138.9" text-anchor="end">0.03</text><text x="1214.6" y="196.8" text-anchor="end">0.025</text><text x="1214.6" y="254.6" text-anchor="end">0.02</text><text x="1214.6" y="312.5" text-anchor="end">0.015</text><text x="1214.6" y="370.3" text-anchor="end">0.01</text><text x="1214.6" y="428.2" text-anchor="end">0.005</text><text x="1214.6" y="833.2" text-anchor="end">0</text><text x="1214.6" y="792.5" text-anchor="end">0.01</text><text x="1214.6" y="751.8" text-anchor="end">0.02</text><text x="1214.6" y="711.0" text-anchor="end">0.03</text><text x="1214.6" y="670.3" text-anchor="end">0.04</text><text x="1214.6" y="629.6" text-anchor="end">0.05</text><text x="1214.6" y="588.9" text-anchor="end">0.06</text><text x="1214.6" y="548.2" text-anchor="end">0.07</text><text x="1214.6" y="507.4" text-anchor="end">0.08</text><text x="1214.6" y="466.7" text-anchor="end">0.09</text></g><g font-size="40" fill="#000" stroke="#000" stroke-width="0.6"><text x="1580.8" y="915.2" text-anchor="middle">Time in Myr</text><text transform="translate(1081.4 214.5) rotate(-90)" text-anchor="middle">Eccentricity</text><text transform="translate(1101.5 619.5) rotate(-90)" text-anchor="middle">Inclination (°)</text></g>
</svg>
</body></html>
